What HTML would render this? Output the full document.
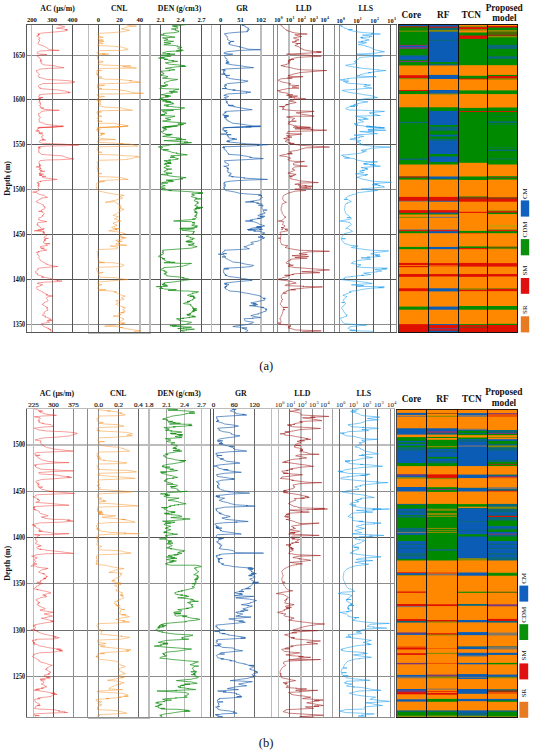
<!DOCTYPE html>
<html><head><meta charset="utf-8"><style>
html,body{margin:0;padding:0;background:#fff;}
svg{display:block;font-family:"Liberation Serif",serif;}
text{fill:#111;}
</style></head><body>
<svg width="533" height="750" viewBox="0 0 533 750" shape-rendering="auto">
<rect x="26" y="55" width="371" height="1" fill="#8c8c8c"/>
<rect x="26" y="99" width="371" height="1" fill="#555555"/>
<rect x="26" y="144" width="371" height="1" fill="#555555"/>
<rect x="26" y="189" width="371" height="1" fill="#8c8c8c"/>
<rect x="26" y="234" width="371" height="1" fill="#555555"/>
<rect x="26" y="279" width="371" height="1" fill="#555555"/>
<rect x="26" y="324" width="371" height="1" fill="#8c8c8c"/>
<rect x="26" y="24" width="1" height="309" fill="#5a5a5a"/>
<rect x="31" y="24" width="1" height="309" fill="#bcbcbc"/>
<rect x="52" y="24" width="1" height="309" fill="#7a7a7a"/>
<rect x="72" y="24" width="1" height="309" fill="#555555"/>
<rect x="88" y="24" width="1" height="309" fill="#bcbcbc"/>
<rect x="98" y="24" width="1" height="309" fill="#555555"/>
<rect x="119" y="24" width="1" height="309" fill="#555555"/>
<rect x="139" y="24" width="2" height="309" fill="#bcbcbc"/>
<rect x="149" y="24" width="2" height="309" fill="#bcbcbc"/>
<rect x="160" y="24" width="1" height="309" fill="#555555"/>
<rect x="180" y="24" width="1" height="309" fill="#555555"/>
<rect x="201" y="24" width="1" height="309" fill="#555555"/>
<rect x="211" y="24" width="1" height="309" fill="#bcbcbc"/>
<rect x="220" y="24" width="1" height="309" fill="#555555"/>
<rect x="240" y="24" width="1" height="309" fill="#555555"/>
<rect x="260" y="24" width="2" height="309" fill="#bcbcbc"/>
<rect x="273" y="24" width="1" height="309" fill="#8c8c8c"/>
<rect x="277" y="24" width="1" height="309" fill="#8c8c8c"/>
<rect x="288" y="24" width="2" height="309" fill="#bcbcbc"/>
<rect x="300" y="24" width="1" height="309" fill="#777"/>
<rect x="312" y="24" width="1" height="309" fill="#555555"/>
<rect x="323" y="24" width="1" height="309" fill="#666"/>
<rect x="334" y="24" width="1" height="309" fill="#8c8c8c"/>
<rect x="339" y="24" width="1" height="309" fill="#8c8c8c"/>
<rect x="356" y="24" width="1" height="309" fill="#555555"/>
<rect x="373" y="24" width="1" height="309" fill="#555555"/>
<rect x="390" y="24" width="1" height="309" fill="#555555"/>
<rect x="396" y="24" width="1" height="309" fill="#8c8c8c"/>
<rect x="26" y="24" width="371" height="1" fill="#555555"/>
<rect x="26" y="332" width="371" height="1" fill="#555555"/>
<rect x="88" y="333" width="63" height="1" fill="#bcbcbc"/>
<rect x="26" y="444" width="369" height="2" fill="#bcbcbc"/>
<rect x="26" y="491" width="369" height="1" fill="#8c8c8c"/>
<rect x="26" y="537" width="369" height="1" fill="#555555"/>
<rect x="26" y="583" width="369" height="1" fill="#8c8c8c"/>
<rect x="26" y="630" width="369" height="1" fill="#6e6e6e"/>
<rect x="26" y="676" width="369" height="1" fill="#8c8c8c"/>
<rect x="26" y="408" width="1" height="310" fill="#5a5a5a"/>
<rect x="33" y="408" width="1" height="310" fill="#bcbcbc"/>
<rect x="53" y="408" width="1" height="310" fill="#555555"/>
<rect x="73" y="408" width="1" height="310" fill="#8c8c8c"/>
<rect x="87" y="408" width="1" height="310" fill="#8c8c8c"/>
<rect x="98" y="408" width="1" height="310" fill="#8c8c8c"/>
<rect x="118" y="408" width="1" height="310" fill="#686868"/>
<rect x="138" y="408" width="1" height="310" fill="#686868"/>
<rect x="148" y="408" width="2" height="310" fill="#bcbcbc"/>
<rect x="166" y="408" width="1" height="310" fill="#a4a4a4"/>
<rect x="184" y="408" width="1" height="310" fill="#bcbcbc"/>
<rect x="201" y="408" width="1" height="310" fill="#bcbcbc"/>
<rect x="210" y="408" width="1" height="310" fill="#555555"/>
<rect x="213" y="408" width="1" height="310" fill="#555555"/>
<rect x="234" y="408" width="1" height="310" fill="#8c8c8c"/>
<rect x="254" y="408" width="1" height="310" fill="#686868"/>
<rect x="271" y="408" width="1" height="310" fill="#bcbcbc"/>
<rect x="278" y="408" width="1" height="310" fill="#bcbcbc"/>
<rect x="289" y="408" width="1" height="310" fill="#686868"/>
<rect x="300" y="408" width="2" height="310" fill="#bcbcbc"/>
<rect x="312" y="408" width="1" height="310" fill="#8c8c8c"/>
<rect x="323" y="408" width="1" height="310" fill="#a4a4a4"/>
<rect x="332" y="408" width="1" height="310" fill="#a4a4a4"/>
<rect x="339" y="408" width="1" height="310" fill="#686868"/>
<rect x="352" y="408" width="1" height="310" fill="#8c8c8c"/>
<rect x="365" y="408" width="1" height="310" fill="#686868"/>
<rect x="377" y="408" width="1" height="310" fill="#686868"/>
<rect x="390" y="408" width="1" height="310" fill="#8c8c8c"/>
<rect x="394" y="408" width="1" height="310" fill="#8c8c8c"/>
<rect x="26" y="408" width="369" height="1" fill="#bcbcbc"/>
<rect x="26" y="717" width="369" height="1" fill="#8c8c8c"/>
<rect x="88" y="718" width="62" height="1" fill="#bcbcbc"/>
<polyline points="57.2,24.6 59.3,25.4 62.8,26.1 64.8,26.8 60.7,27.5 56.5,28.2 63.4,28.9 65.2,29.5 67.3,29.6 65.2,29.7 67.6,30.2 65.5,30.9 59.3,31.6 51.0,32.3 42.6,33.0 37.8,33.7 38.2,34.4 39.6,34.5 38.1,34.6 39.2,35.1 37.6,35.8 36.5,35.9 37.2,36.0 37.8,36.5 38.3,37.2 39.9,37.9 40.1,38.6 38.5,39.3 39.0,40.0 39.9,40.6 38.6,41.3 39.2,42.0 38.1,42.7 38.3,42.8 38.4,42.9 37.8,43.4 38.2,44.1 39.9,44.8 42.2,45.5 44.0,46.2 45.5,46.9 45.6,47.0 45.7,47.1 46.8,47.6 47.4,48.3 48.2,49.0 50.3,49.7 59.3,50.4 49.6,50.6 39.9,51.0 38.7,51.7 37.1,52.4 37.0,53.1 37.8,53.8 41.3,54.2 46.8,54.5 41.3,54.8 39.6,55.3 37.1,55.9 37.9,56.6 39.2,57.3 39.2,58.0 39.8,58.7 41.3,59.4 40.0,60.1 40.8,60.8 42.2,60.9 41.0,61.0 39.9,61.4 40.9,62.1 41.5,62.8 41.3,63.5 43.0,64.2 44.0,64.9 53.7,65.6 56.7,66.3 59.3,67.0 64.1,67.7 57.9,68.1 48.2,68.4 39.9,69.1 38.8,69.8 36.4,70.5 36.8,71.2 36.4,71.9 37.8,72.5 38.5,73.2 39.4,73.9 39.2,74.6 38.7,75.3 37.8,76.0 38.5,76.7 39.9,77.4 40.0,77.5 39.5,77.6 42.6,78.1 44.6,78.8 47.5,79.5 60.7,80.2 70.4,80.9 73.2,81.6 74.4,81.7 73.6,81.8 74.5,82.3 70.4,82.9 53.7,83.4 42.6,83.6 41.5,84.3 39.2,85.0 38.5,85.7 38.4,86.4 38.5,87.1 40.1,87.8 40.5,87.9 39.8,88.0 39.9,88.5 46.8,89.2 57.9,89.9 62.0,90.6 66.2,91.3 67.8,92.0 68.9,92.1 67.9,92.2 70.4,92.7 60.7,93.3 46.8,94.0 39.2,94.7 39.9,95.4 38.7,96.1 38.5,96.8 39.1,97.4 43.1,97.5 39.5,97.6 39.6,97.9 39.1,98.5 41.1,98.6 38.7,98.7 39.0,99.0 39.8,99.1 38.5,99.2 39.9,99.6 38.9,100.3 39.8,100.4 39.3,100.5 39.6,101.0 40.2,101.1 39.5,101.2 39.2,101.7 38.7,102.2 40.7,102.8 40.0,103.3 40.2,103.4 39.7,103.5 40.9,103.9 40.9,104.0 41.0,104.1 40.6,104.4 39.7,105.0 39.3,105.6 41.1,106.1 40.4,106.7 39.9,107.2 41.0,107.9 43.9,108.0 41.3,108.1 42.3,108.6 44.0,109.3 53.7,110.0 59.3,110.3 46.8,110.7 41.3,111.4 41.3,111.9 40.9,112.5 40.2,113.0 38.5,113.6 38.5,114.2 38.4,114.8 38.5,114.9 38.2,115.0 39.3,115.5 39.2,116.2 39.3,116.9 40.6,117.6 39.9,118.3 39.3,118.9 38.8,119.4 39.2,119.5 39.2,119.6 39.7,120.0 39.1,120.5 38.5,121.1 39.0,121.8 41.3,122.5 43.5,123.2 44.0,123.9 48.2,124.6 53.7,125.2 59.3,125.9 63.4,126.6 53.7,127.1 39.9,127.3 37.8,128.0 46.8,127.3 54.3,126.7 63.4,126.0 58.3,126.6 53.7,127.1 38.5,127.7 39.0,128.3 37.4,128.9 37.1,129.5 38.2,130.2 38.5,130.3 38.6,130.4 39.1,130.9 35.6,131.0 39.3,131.1 39.2,131.5 39.1,132.2 38.9,132.9 42.9,133.0 38.9,133.1 39.9,133.6 41.9,134.3 42.9,135.0 43.3,135.7 41.7,136.4 41.3,137.1 41.8,137.8 43.3,138.5 44.0,139.2 41.8,139.9 45.8,140.0 41.7,140.1 39.9,140.6 39.7,141.3 39.2,142.0 40.8,142.6 42.6,143.3 60.7,144.0 69.7,144.6 78.7,145.1 67.6,145.7 46.8,146.1 38.5,146.8 38.7,147.4 39.8,147.5 38.2,147.6 39.4,147.9 40.6,148.0 39.4,148.1 38.6,148.5 39.1,149.0 39.2,149.6 38.2,150.1 38.4,150.7 39.3,151.2 38.7,151.8 38.5,152.4 40.2,153.0 40.6,153.7 41.3,154.4 51.0,155.1 62.1,155.8 63.9,156.5 65.7,157.2 67.6,157.9 73.9,158.9 60.7,159.7 46.8,160.0 39.9,160.7 39.4,161.4 39.3,162.1 38.5,162.8 39.6,163.3 39.1,163.9 39.9,164.5 40.1,164.6 39.4,164.7 38.9,165.1 41.1,165.2 39.3,165.3 38.9,165.6 39.9,166.2 40.1,166.8 36.1,166.9 39.8,167.0 40.5,167.3 39.4,167.9 40.0,168.4 41.1,168.5 39.8,168.6 39.2,169.0 39.0,169.6 40.5,170.1 42.1,170.2 40.0,170.3 40.1,170.7 40.9,171.2 44.9,171.3 41.3,171.4 41.3,171.8 40.2,172.3 39.8,172.9 40.0,173.4 38.9,173.5 40.3,173.6 39.7,174.0 43.7,174.1 39.9,174.2 39.9,174.5 39.6,175.1 41.9,175.2 39.2,175.3 41.9,175.7 42.1,176.2 46.0,176.3 42.5,176.4 42.0,176.8 42.6,177.3 45.5,177.9 48.2,178.4 57.2,179.4 51.0,180.1 42.6,180.8 39.8,181.5 41.2,181.6 39.4,181.7 37.8,182.2 37.4,182.7 37.8,182.8 37.2,182.9 38.9,183.3 38.6,183.8 39.5,183.9 38.4,184.0 37.9,184.4 39.2,184.9 39.0,185.5 37.7,185.6 38.6,185.7 39.3,186.1 38.3,186.6 37.9,187.2 37.8,187.7 38.6,188.4 38.4,189.1 39.2,189.8 39.0,190.4 37.9,190.9 36.6,191.5 36.8,191.6 36.4,191.7 36.3,192.0 32.6,192.1 36.5,192.2 36.4,192.6 37.0,193.3 38.5,194.0 40.8,194.7 44.0,195.3 44.5,196.0 45.9,196.7 47.5,197.4 41.3,198.1 41.3,198.8 38.9,199.5 38.5,200.2 37.4,200.8 36.1,201.4 36.4,202.0 39.2,203.0 40.7,203.7 41.8,204.4 44.0,205.1 43.3,205.6 43.8,206.2 43.9,206.7 44.7,206.8 44.0,206.9 45.2,207.3 45.4,207.8 44.9,208.4 44.5,208.9 42.6,209.5 41.4,210.0 41.3,210.6 42.1,211.2 38.5,211.3 42.2,211.4 42.8,211.7 42.2,212.3 43.5,212.8 44.0,213.4 44.4,213.9 43.6,214.5 43.6,215.0 42.4,215.6 42.7,215.7 42.0,215.8 42.6,216.2 41.9,216.8 40.1,217.5 38.5,218.2 39.3,218.9 38.4,219.6 39.9,220.3 43.8,221.0 46.8,221.7 39.9,222.4 37.1,223.1 37.4,223.6 36.8,224.2 37.4,224.8 38.0,224.9 37.1,225.0 38.7,225.3 38.5,225.9 39.0,226.4 39.6,227.0 40.7,227.5 41.0,228.1 41.3,228.2 41.2,228.3 41.3,228.6 41.9,229.3 43.3,230.0 42.6,229.3 43.2,229.4 42.8,229.5 44.2,228.7 44.0,228.0 42.7,228.7 41.3,229.4 37.7,230.1 41.7,230.2 38.2,230.3 34.3,230.8 44.0,231.5 44.2,232.2 43.0,232.3 44.7,232.4 42.6,232.9 43.9,233.5 45.4,234.2 45.5,234.9 46.8,235.6 45.3,236.3 44.2,237.0 44.0,237.7 45.2,238.3 48.6,238.4 45.6,238.5 45.0,238.8 45.7,239.4 44.2,239.9 45.5,240.0 44.0,240.1 45.4,240.5 43.7,241.2 43.3,241.9 43.7,242.4 43.7,243.0 46.1,243.6 50.1,243.7 46.5,243.8 45.7,244.2 46.6,244.8 47.5,245.3 43.9,246.0 39.9,246.7 40.7,247.4 40.8,248.1 44.4,248.2 41.3,248.3 42.6,248.8 44.2,249.5 46.8,250.2 41.3,250.9 38.9,251.6 37.9,251.7 39.2,251.8 36.4,252.3 37.4,252.8 38.1,253.4 37.7,253.9 37.2,254.5 38.5,255.0 38.6,255.7 39.2,256.4 39.2,257.1 38.4,257.7 38.7,258.2 39.3,258.8 40.2,259.3 39.9,259.9 40.2,260.5 41.1,261.0 42.2,261.6 42.5,261.7 42.6,261.8 43.2,262.1 44.0,262.7 46.2,263.4 46.7,264.1 47.1,264.2 46.5,264.3 48.2,264.8 51.0,265.4 53.6,266.0 57.9,266.6 46.8,267.3 38.5,268.2 37.6,268.8 38.4,269.3 37.1,269.9 36.9,270.4 36.4,271.0 35.8,271.7 35.2,271.8 35.5,271.9 35.9,272.4 35.7,273.1 37.4,273.8 38.0,273.9 37.3,274.0 37.4,274.5 38.5,275.2 41.3,275.9 42.6,276.5 43.8,277.1 41.3,277.2 43.7,277.3 46.8,277.7 51.0,278.6 53.7,279.6 58.1,280.4 57.1,280.5 58.4,280.6 62.1,281.1 53.7,281.8 45.4,282.1 38.5,282.8 37.1,283.5 40.6,284.2 42.6,284.9 40.1,285.6 40.4,285.7 40.2,285.8 39.4,286.3 36.4,286.9 36.9,287.6 36.8,288.3 37.1,289.0 37.6,289.7 39.3,290.4 41.3,291.1 42.7,291.8 42.8,292.5 44.7,293.2 46.2,293.9 46.3,294.6 47.7,294.7 46.1,294.8 48.2,295.3 53.0,296.0 48.2,296.7 47.2,297.3 46.3,298.0 46.8,298.7 47.2,299.4 48.0,300.1 48.2,300.8 46.8,301.5 44.9,302.2 44.0,302.9 44.0,303.6 42.1,304.3 42.6,305.0 44.4,305.7 44.9,306.4 46.8,307.1 47.9,307.6 46.4,308.2 47.5,308.7 47.3,309.3 48.2,309.8 47.8,310.4 45.9,310.9 45.3,311.5 44.3,312.0 44.0,312.6 44.3,313.2 44.4,313.7 42.6,314.3 42.8,314.8 42.6,315.4 44.9,316.1 45.9,316.2 45.4,316.3 44.7,316.8 44.8,316.9 45.1,317.0 46.8,317.5 49.0,318.2 50.6,318.8 51.0,319.5 48.5,320.2 52.5,320.3 48.1,320.4 46.8,320.9 48.5,321.6 49.6,322.3 45.2,323.0 41.3,323.7 41.3,324.4 41.9,324.5 41.7,324.6 42.6,325.1 42.8,325.8 43.9,326.5 45.4,327.2 47.2,327.7 47.5,328.3 48.8,328.4 47.9,328.5 48.1,328.8 50.6,329.4 49.6,329.5 50.9,329.6 51.0,329.9 50.5,330.6 50.4,330.7 50.3,330.8 52.4,331.3 52.4,332.0" fill="none" stroke="#e82420" stroke-width="0.55" stroke-linejoin="round" opacity="0.8"/>
<polyline points="125.4,24.6 128.2,25.4 136.5,26.1 128.2,26.8 125.7,27.5 124.3,28.2 121.3,28.9 125.1,29.5 129.6,30.2 126.5,30.9 124.1,31.6 113.0,32.6 99.1,33.3 97.6,33.8 97.7,34.4 98.6,35.1 98.9,35.8 99.5,35.9 99.2,36.0 98.4,36.5 103.3,37.2 98.4,37.9 98.8,38.6 97.7,39.3 103.3,40.0 99.1,40.6 104.0,41.3 98.4,42.0 100.4,42.7 103.3,43.4 98.4,44.1 98.0,44.8 97.7,45.5 113.0,46.2 121.3,46.9 122.5,47.5 125.1,48.1 126.9,48.8 128.2,49.4 121.3,50.4 100.5,50.6 98.8,51.2 97.7,51.7 97.1,52.4 97.0,53.1 102.2,53.7 105.3,53.8 101.9,53.9 108.8,54.2 99.1,54.8 97.3,55.3 97.0,55.9 96.9,56.5 97.9,57.0 97.1,57.6 97.3,57.7 97.2,57.8 97.5,58.1 97.7,58.7 97.8,59.4 98.4,60.1 98.4,60.8 103.3,61.7 99.1,62.6 99.4,63.1 98.0,63.7 98.4,64.2 101.9,64.9 119.9,65.6 131.0,65.9 122.7,66.7 129.3,67.4 136.5,68.1 108.8,68.4 99.1,68.7 98.4,69.3 97.6,69.9 97.1,70.5 101.5,70.6 97.0,70.7 97.0,71.2 96.7,71.7 96.7,72.3 97.1,72.8 97.2,73.4 98.7,73.5 97.5,73.6 96.3,73.9 97.4,74.6 98.2,74.7 97.2,74.8 98.0,75.3 97.7,76.0 101.9,77.0 101.2,77.5 99.1,78.1 102.5,78.6 104.6,79.2 119.9,79.5 124.1,80.0 129.9,80.6 131.9,80.7 129.6,80.8 133.8,81.1 137.0,81.7 137.5,81.8 137.1,81.9 140.7,82.3 128.5,82.8 128.5,82.9 128.6,83.0 115.7,83.4 99.1,83.9 97.6,84.5 97.0,85.0 104.6,85.3 97.7,86.1 97.0,86.7 97.3,87.2 97.6,87.3 97.4,87.4 97.0,87.8 101.9,88.5 99.1,89.2 115.7,89.5 120.8,90.0 121.2,90.1 120.7,90.2 125.4,90.6 127.4,91.3 130.8,92.0 132.4,92.7 143.5,93.3 122.7,93.8 100.5,94.0 97.0,94.7 97.5,95.4 97.7,96.1 104.6,96.4 101.4,97.0 98.4,97.5 98.7,98.2 97.0,98.9 97.0,99.6 96.8,100.1 101.2,100.2 97.1,100.3 97.4,100.7 97.8,101.3 97.8,101.4 97.9,101.5 98.8,101.8 100.9,101.9 98.8,102.0 98.4,102.4 98.8,103.0 100.3,103.6 101.2,104.2 98.4,105.1 99.1,105.8 101.9,106.5 106.0,107.2 121.3,107.9 124.1,108.9 128.7,109.6 132.4,110.3 101.9,110.7 97.7,111.4 97.1,111.9 101.5,112.0 97.1,112.1 96.7,112.5 97.1,113.0 97.3,113.6 97.0,114.2 98.1,114.8 99.8,115.5 101.9,116.2 97.7,116.9 98.4,117.5 97.5,118.0 98.6,118.1 97.4,118.2 97.5,118.6 98.6,119.1 98.4,119.7 97.4,120.4 98.4,121.1 102.4,121.2 98.4,121.3 97.7,121.8 98.5,122.5 99.1,123.2 114.4,123.4 117.5,124.0 121.3,124.6 124.9,125.2 128.2,125.9 122.7,126.6 99.1,127.3 97.7,128.0 108.1,127.3 118.0,126.7 120.1,126.8 117.7,126.9 128.2,126.0 122.4,126.6 115.7,127.1 98.4,127.7 97.6,128.2 99.1,128.3 97.3,128.4 97.0,128.8 97.0,129.3 98.3,129.4 96.7,129.5 97.5,129.9 100.4,130.0 97.5,130.1 96.7,130.4 97.4,131.0 97.7,131.5 97.8,132.1 99.9,132.7 100.3,133.3 104.7,133.4 100.7,133.5 101.1,133.9 104.6,134.0 100.8,134.1 100.9,134.4 101.9,135.0 99.6,135.7 98.4,136.4 98.7,137.1 99.2,137.8 100.5,138.5 110.2,139.2 115.7,139.6 99.1,139.9 99.1,140.6 99.7,140.7 98.9,140.8 97.7,141.3 97.3,141.8 97.7,141.9 97.5,142.0 98.4,142.4 108.8,142.9 119.8,143.5 123.2,143.6 119.9,143.7 129.6,144.0 132.6,144.7 135.4,145.4 137.9,146.1 115.7,146.5 98.4,146.8 97.8,147.5 97.0,148.2 96.9,148.7 97.4,149.3 97.6,149.9 97.9,150.4 97.7,151.0 99.7,151.7 101.9,152.4 98.4,153.0 98.4,153.7 98.4,154.4 118.5,155.1 125.4,155.8 136.5,156.2 135.7,156.8 139.4,156.9 135.8,157.0 134.8,157.4 133.5,158.0 132.4,158.6 127.2,159.1 127.6,159.2 127.2,159.3 122.7,159.7 99.1,160.3 98.4,160.9 97.5,161.5 97.0,162.1 97.3,162.6 97.3,162.7 96.9,162.8 97.2,163.2 97.5,163.7 97.4,164.3 97.7,164.8 97.6,165.4 97.7,165.9 97.1,166.5 97.2,167.1 97.0,167.6 97.3,168.2 97.1,168.7 99.4,168.8 97.0,168.9 97.5,169.3 97.8,169.8 97.7,170.4 97.7,170.9 97.7,171.5 98.1,172.0 98.0,172.6 98.4,173.2 101.9,173.4 99.8,174.0 98.4,174.5 98.3,175.2 97.7,175.9 99.8,176.6 119.9,177.3 122.5,178.0 125.5,178.7 128.2,179.4 108.8,180.1 104.2,180.6 99.1,181.2 104.6,181.5 100.7,182.2 97.0,182.9 96.6,183.5 97.0,184.1 96.4,184.6 96.8,185.2 96.7,185.8 96.2,186.4 96.3,187.0 96.4,187.6 97.3,187.7 96.6,187.8 97.1,188.1 97.0,188.7 97.4,189.2 97.7,189.8 98.4,190.5 99.1,191.2 102.8,191.9 106.0,192.6 108.4,193.1 111.6,193.7 118.5,194.7 124.1,195.3 121.2,196.0 119.9,196.7 120.9,197.4 122.7,198.1 121.1,198.8 117.8,199.5 115.7,200.2 112.0,200.9 109.5,201.6 105.3,202.3 114.4,201.6 115.6,202.3 117.0,203.0 117.1,203.7 119.1,204.4 120.5,205.1 121.3,205.8 120.7,206.4 119.1,207.1 121.3,207.2 119.5,207.3 118.5,207.8 120.7,208.5 121.0,208.6 120.6,208.7 124.1,209.2 122.1,209.9 122.2,210.0 122.2,210.1 121.6,210.6 119.9,211.3 118.3,212.0 117.8,212.7 117.1,213.4 116.3,214.1 113.7,214.8 113.0,215.5 116.4,216.2 118.5,216.8 116.5,217.5 116.8,217.6 116.8,217.7 116.2,218.2 114.4,218.9 117.2,219.6 118.6,220.3 118.9,220.4 118.4,220.5 121.3,221.0 118.2,221.7 115.0,222.4 113.0,223.1 114.0,223.8 115.5,224.5 117.1,225.2 116.0,225.9 114.0,226.6 111.6,227.2 112.2,227.9 114.3,228.6 115.7,229.3 117.1,230.0 116.0,229.3 115.3,228.7 119.7,228.8 115.6,228.9 114.4,228.0 115.2,228.7 115.7,228.8 115.6,228.9 117.1,229.4 112.2,230.1 108.8,230.8 114.3,231.5 119.9,232.2 122.2,232.9 125.4,233.5 123.1,234.2 121.3,234.9 120.2,235.6 119.9,236.3 120.9,237.0 123.6,237.1 120.6,237.2 122.9,237.7 126.3,237.8 123.1,237.9 124.1,238.4 121.5,239.1 118.4,239.8 115.7,240.5 117.8,241.2 122.2,241.3 117.5,241.4 118.1,241.9 119.9,242.6 117.8,243.3 115.7,244.0 121.9,244.6 126.8,245.3 110.2,246.0 113.9,246.7 117.8,247.4 117.9,248.1 117.1,248.8 99.1,249.5 98.5,250.2 97.6,250.9 97.0,251.6 97.3,252.2 97.4,252.8 97.3,253.4 97.5,254.0 97.5,254.6 97.4,255.1 97.7,255.7 97.7,256.3 98.1,256.9 97.8,257.5 98.0,258.1 98.0,258.7 98.1,259.3 98.4,259.9 99.2,260.6 100.1,261.3 100.5,262.0 104.6,262.4 98.4,262.7 113.0,262.7 117.1,263.4 121.3,264.1 122.9,264.8 124.1,265.4 122.6,266.0 121.3,266.6 99.1,267.3 98.3,267.8 97.1,268.4 96.3,268.9 96.3,269.5 97.0,270.1 97.0,270.6 97.2,271.2 97.5,271.8 97.7,272.4 103.3,272.4 101.0,273.1 98.4,273.8 98.6,274.5 99.0,275.2 99.1,275.9 99.6,276.5 100.5,277.2 115.7,277.7 119.9,278.6 128.2,279.6 120.8,280.1 113.0,280.7 105.5,281.4 97.7,282.1 98.1,282.8 98.1,283.5 98.4,284.2 101.9,284.6 100.8,285.1 99.5,285.7 98.4,286.3 98.4,286.8 98.0,287.4 98.0,287.9 97.8,288.5 97.7,289.0 106.0,289.7 98.4,290.4 111.6,291.1 114.3,291.8 116.7,291.9 114.3,292.0 115.7,292.5 117.1,293.2 117.8,293.9 119.9,294.6 122.1,295.3 125.4,296.0 124.1,296.7 121.3,297.3 121.6,298.0 123.2,298.7 124.1,299.4 119.9,300.1 115.7,300.8 117.2,301.5 117.4,302.2 118.5,302.9 116.7,303.6 115.7,304.3 117.4,305.0 118.8,305.7 121.3,306.4 123.1,307.1 123.8,307.2 122.7,307.3 125.4,307.8 124.4,308.4 123.9,309.1 122.7,309.8 123.7,310.5 125.4,311.2 123.5,311.9 120.9,312.6 124.4,312.7 120.6,312.8 118.5,313.3 119.3,314.0 121.3,314.7 117.6,315.4 113.0,316.1 118.5,316.8 120.3,317.5 121.8,318.2 124.1,318.8 122.9,319.5 122.7,320.2 121.3,320.9 119.8,321.6 118.5,322.3 121.4,323.0 125.3,323.1 121.6,323.2 124.1,323.7 119.5,324.4 115.7,325.1 109.8,325.6 104.6,326.2 118.5,326.8 120.1,327.3 122.9,327.4 119.9,327.5 122.7,327.9 125.8,328.6 129.6,329.2 133.0,329.8 136.5,330.4 140.7,330.9 133.8,331.7" fill="none" stroke="#f58a18" stroke-width="0.55" stroke-linejoin="round" opacity="0.85"/>
<polyline points="186.1,24.6 181.9,25.1 178.2,25.8 172.2,25.9 177.6,26.0 173.6,26.5 177.7,27.5 177.8,28.2 176.7,28.9 171.4,29.0 176.0,29.1 175.0,29.5 174.9,30.2 178.2,30.9 178.5,31.0 177.8,31.1 179.1,31.6 175.0,32.6 163.9,33.4 163.8,34.0 163.3,34.1 164.2,34.2 161.0,34.5 161.1,35.1 166.0,35.8 170.8,36.5 175.0,37.2 162.5,37.9 166.1,38.6 168.0,39.3 165.0,40.0 163.9,40.6 173.6,41.3 168.8,42.0 163.9,42.7 170.8,43.4 167.2,44.1 163.9,44.8 175.0,45.5 177.4,46.1 178.2,46.2 177.4,46.3 178.3,46.7 181.9,47.3 177.7,48.3 178.5,49.0 181.4,49.7 183.3,50.4 176.1,50.9 181.6,51.0 176.1,51.1 166.6,51.5 165.8,52.0 163.5,52.6 162.5,53.1 170.1,53.7 167.1,53.8 169.4,53.9 175.0,54.2 161.1,55.2 170.8,56.2 166.3,56.7 161.1,57.3 164.5,58.0 158.5,58.1 164.4,58.2 165.3,58.7 167.8,59.4 164.0,59.5 167.6,59.6 168.0,60.1 174.0,60.8 172.0,60.9 174.4,61.0 177.7,61.4 170.6,62.1 165.3,62.8 167.1,63.5 169.4,64.2 177.7,64.9 184.7,65.6 180.8,66.3 186.1,66.4 180.8,66.5 175.0,67.0 169.4,67.7 165.3,68.4 171.5,69.1 175.0,69.8 168.9,70.5 170.1,70.6 169.0,70.7 161.1,71.2 162.4,71.9 161.6,72.5 163.9,73.2 164.1,73.9 160.7,74.6 160.7,74.7 161.3,74.8 161.1,75.3 164.9,76.0 168.0,76.7 166.1,77.4 162.5,78.1 170.4,78.8 177.7,79.5 174.0,80.2 169.4,80.9 167.9,81.6 164.9,82.3 163.9,82.9 165.1,83.6 165.4,84.3 165.3,84.4 166.1,84.5 168.0,85.0 166.2,85.7 161.0,85.8 166.3,85.9 162.7,86.4 164.3,86.5 162.6,86.6 161.1,87.1 160.8,87.8 159.7,88.5 179.1,89.2 175.0,89.9 173.6,90.6 174.3,91.3 169.3,91.4 174.9,91.5 177.7,92.0 172.0,92.7 170.6,92.8 172.7,92.9 166.6,93.3 165.3,94.0 161.1,94.7 165.7,95.4 168.8,95.5 165.2,95.6 170.8,96.1 165.2,96.8 168.6,96.9 165.9,97.0 162.5,97.5 160.3,98.2 159.5,98.9 163.3,99.0 159.9,99.1 159.7,99.6 166.6,100.3 166.9,100.9 162.4,101.0 167.4,101.1 169.6,101.4 166.7,101.5 169.6,101.6 171.4,102.0 165.4,102.1 170.7,102.2 169.8,102.6 173.4,103.2 172.3,103.3 172.9,103.4 173.6,103.8 169.8,104.4 163.9,105.1 166.0,105.8 168.6,105.9 166.3,106.0 170.8,106.5 176.7,107.2 184.7,107.9 182.2,108.6 180.5,109.3 161.1,110.0 173.6,110.3 168.4,110.8 162.5,111.4 164.2,112.1 166.6,112.8 166.9,113.3 164.6,113.9 164.4,114.0 164.9,114.1 164.3,114.4 161.5,114.5 164.8,114.6 162.5,115.0 160.8,115.1 162.3,115.2 161.1,115.5 175.0,116.2 172.3,116.9 169.7,117.6 165.3,118.3 167.4,119.0 168.3,119.1 167.5,119.2 170.8,119.7 167.6,120.4 162.5,121.1 169.0,121.8 179.1,122.5 186.1,123.2 183.5,123.9 177.8,124.0 183.8,124.1 181.8,124.6 181.5,124.7 182.2,124.8 177.7,125.2 171.3,125.9 166.6,126.6 162.5,127.3 171.4,126.7 168.6,126.8 171.4,126.9 177.7,126.0 169.2,126.7 165.1,126.8 169.2,126.9 162.5,127.4 162.6,128.1 166.1,128.8 163.5,128.9 166.7,129.0 166.6,129.5 164.9,130.2 163.2,130.9 163.9,131.0 163.5,131.1 161.1,131.5 161.6,132.2 162.7,132.9 163.9,133.6 166.3,134.3 172.3,134.4 165.7,134.5 170.8,135.0 167.0,135.7 162.5,136.4 169.1,137.1 177.7,137.8 180.0,138.4 181.8,139.0 175.8,139.1 181.8,139.2 186.1,139.6 163.9,140.6 175.0,141.3 183.5,142.0 188.0,142.1 184.2,142.2 191.6,142.6 186.9,143.2 180.5,143.8 170.8,144.7 168.0,145.4 168.1,145.5 167.6,145.6 162.5,146.1 160.8,146.8 158.3,146.9 160.7,147.0 162.9,147.5 161.1,148.2 160.7,148.9 162.6,149.6 168.6,149.7 162.7,149.8 163.9,150.3 168.0,151.0 170.5,151.7 172.2,152.4 175.5,153.0 177.3,153.1 176.2,153.2 177.7,153.7 184.1,154.3 184.2,154.4 183.8,154.5 187.4,154.8 170.8,155.8 173.4,156.5 174.6,157.2 170.0,157.3 174.8,157.4 175.0,157.9 177.8,158.6 177.3,158.7 178.5,158.8 177.7,159.3 171.3,160.0 168.6,160.1 170.7,160.2 163.9,160.7 166.8,161.4 167.2,161.5 166.3,161.6 170.8,162.1 167.7,162.8 171.1,162.9 168.0,163.0 165.3,163.4 171.3,163.5 165.9,163.6 163.9,164.1 166.8,164.8 166.5,165.5 169.4,166.2 165.4,166.9 163.9,167.6 166.3,168.3 166.5,169.0 171.7,169.1 166.7,169.2 168.0,169.7 165.6,170.4 165.4,170.5 165.7,170.6 164.2,171.1 163.9,171.8 167.3,172.5 167.8,172.6 167.8,172.7 172.2,173.2 166.1,173.9 168.2,174.0 166.8,174.1 161.1,174.5 166.6,175.2 169.6,175.9 175.0,176.6 186.1,177.6 182.0,178.2 181.0,178.8 183.0,178.9 180.7,179.0 177.7,179.4 172.0,180.1 166.0,180.2 172.6,180.3 168.0,180.8 173.6,181.5 163.9,182.2 161.7,182.9 167.7,183.0 162.1,183.1 161.4,183.6 161.1,184.3 161.7,184.9 165.3,185.6 162.7,186.3 162.7,186.4 162.7,186.5 161.1,187.0 160.4,187.6 162.9,188.1 165.4,188.2 162.4,188.3 162.7,188.7 161.3,189.2 161.0,189.3 161.3,189.4 162.5,189.8 171.5,190.5 168.7,190.6 172.0,190.7 181.9,191.2 192.6,191.9 192.3,192.0 192.4,192.1 202.7,192.6 197.8,193.3 202.8,193.4 198.3,193.5 191.6,194.0 194.1,194.7 194.4,195.3 191.5,196.0 191.6,196.7 194.3,197.4 197.2,198.1 195.5,198.8 200.9,198.9 195.0,199.0 194.9,199.5 194.4,200.2 194.3,200.9 197.0,201.6 198.5,202.3 196.9,202.8 198.4,203.4 196.3,203.9 196.0,204.5 195.8,205.1 194.7,205.6 197.7,206.2 196.6,206.7 197.0,207.3 203.0,207.4 196.5,207.5 197.2,207.8 195.4,208.4 200.5,208.5 194.8,208.6 196.6,208.9 196.6,209.0 196.8,209.1 195.6,209.5 193.7,210.0 194.4,210.6 195.6,211.2 196.0,211.3 195.6,211.4 194.8,211.7 196.4,211.8 195.0,211.9 197.1,212.3 194.6,212.4 196.6,212.5 197.6,212.8 197.2,213.4 196.3,213.9 197.1,214.5 195.2,215.0 195.8,215.6 196.6,215.7 195.7,215.8 194.4,216.2 196.3,216.8 196.5,217.5 195.8,218.2 194.7,218.9 192.5,219.0 195.4,219.1 191.6,219.6 181.8,220.3 173.6,221.0 191.6,221.7 192.6,222.3 194.8,222.4 192.5,222.5 192.7,222.8 192.3,222.9 193.1,223.0 194.6,223.4 194.8,223.9 194.4,224.5 191.6,225.2 194.6,225.9 197.7,226.0 194.9,226.1 194.6,226.6 197.2,227.2 190.8,227.9 181.9,228.6 180.5,229.3 180.5,230.0 180.3,229.3 179.9,228.7 183.0,228.8 180.0,228.9 180.5,228.0 194.4,228.7 189.5,229.4 181.9,230.1 187.4,230.8 194.4,231.5 193.9,232.0 194.3,232.1 193.6,232.2 193.0,232.6 193.8,232.7 193.1,232.8 193.7,233.1 192.4,233.7 191.6,234.2 188.9,234.9 187.8,235.6 186.1,236.3 189.2,237.0 191.0,237.7 190.3,237.8 190.9,237.9 194.4,238.4 193.3,239.0 191.9,239.1 192.9,239.2 191.8,239.6 189.6,240.1 188.2,240.7 186.4,241.3 192.4,241.4 185.8,241.5 186.1,241.9 189.9,242.6 194.4,243.3 193.2,244.0 192.5,244.1 193.6,244.2 189.6,244.6 188.3,244.7 189.8,244.8 188.8,245.3 194.0,246.0 197.2,246.7 194.4,247.4 191.6,248.1 177.7,249.1 170.8,249.6 162.5,250.2 162.7,250.7 163.7,251.3 162.2,251.9 162.1,252.4 163.9,253.0 163.2,253.5 163.4,254.1 160.8,254.7 161.3,255.3 158.9,255.9 158.3,256.4 160.3,257.1 162.5,257.8 162.3,258.5 164.8,258.6 162.1,258.7 164.3,259.2 163.9,259.9 165.3,260.6 166.6,261.3 169.9,261.8 169.4,261.9 170.0,262.0 175.0,262.4 163.9,262.7 183.3,263.4 191.6,263.4 188.7,263.9 187.8,264.5 187.6,265.0 184.1,265.6 183.3,266.1 174.8,266.8 174.7,266.9 174.8,267.0 163.9,267.5 164.0,268.2 161.7,268.9 160.4,269.6 162.5,270.3 165.1,271.0 163.8,271.1 164.9,271.2 166.6,271.7 167.1,272.4 164.9,273.1 166.3,273.2 165.0,273.3 163.9,273.8 165.0,274.5 167.1,275.2 166.6,275.9 173.4,276.5 180.5,277.2 184.4,277.8 182.2,277.9 183.9,278.0 184.8,278.4 188.8,279.0 190.2,279.6 184.9,280.2 182.5,280.8 177.7,281.4 172.3,282.1 163.9,282.8 164.6,283.5 163.5,283.6 164.6,283.7 164.8,284.2 161.8,284.3 164.6,284.4 166.6,284.9 167.0,285.4 163.1,286.0 167.7,286.1 163.3,286.2 161.8,286.5 156.3,286.6 162.1,286.7 161.3,287.1 161.1,287.6 162.6,288.3 159.5,288.4 163.4,288.5 163.9,289.0 176.4,289.7 168.0,290.4 188.8,291.1 198.5,291.8 196.5,292.5 196.8,292.6 196.8,292.7 192.7,293.2 192.2,293.3 193.2,293.4 191.6,293.9 189.9,294.6 187.4,295.3 189.6,296.0 194.0,296.1 189.9,296.2 194.4,296.7 193.5,297.2 194.4,297.3 194.1,297.4 193.7,297.8 195.5,297.9 193.0,298.0 194.2,298.4 193.9,299.0 192.4,299.5 192.3,299.6 193.0,299.7 191.6,300.1 189.7,300.7 189.8,301.3 187.0,301.4 189.8,301.5 188.8,301.9 187.3,302.0 188.4,302.1 185.5,302.4 184.6,303.0 183.3,303.6 190.2,304.3 190.0,304.8 191.3,304.9 190.7,305.0 190.7,305.4 190.7,305.9 192.1,306.5 192.3,306.6 192.6,306.7 193.0,307.1 192.8,307.6 193.5,307.7 192.4,307.8 192.2,308.2 193.4,308.7 197.0,308.8 193.0,308.9 195.1,309.3 193.4,309.4 195.6,309.5 194.4,309.8 192.8,310.4 196.7,310.5 193.5,310.6 192.4,310.9 192.7,311.5 194.5,311.6 193.0,311.7 191.4,312.0 191.6,312.6 191.0,313.2 190.2,313.3 190.6,313.4 191.1,313.7 188.9,313.8 190.7,313.9 189.9,314.3 186.7,314.4 189.6,314.5 187.9,314.8 187.4,314.9 187.7,315.0 187.4,315.4 192.1,316.1 194.6,316.2 192.1,316.3 195.8,316.8 188.7,317.5 189.8,317.6 188.1,317.7 183.5,318.2 181.9,318.3 183.9,318.4 176.4,318.8 179.3,319.5 178.9,320.2 178.9,320.3 179.2,320.4 181.9,320.9 186.3,321.6 191.6,322.3 190.2,323.0 187.2,323.7 186.1,324.4 181.0,325.0 175.9,325.6 169.9,325.7 176.2,325.8 172.2,326.2 191.6,327.2 183.3,327.9 183.8,328.0 183.0,328.1 177.7,328.6 194.4,329.2 187.1,329.9 186.0,330.0 186.6,330.1 180.5,330.6 183.6,331.3 184.7,332.0" fill="none" stroke="#168e16" stroke-width="0.7" stroke-linejoin="round" opacity="1"/>
<polyline points="241.1,24.6 243.7,25.3 242.3,25.4 243.5,25.5 245.3,26.1 245.2,26.8 247.4,27.5 248.7,28.2 248.6,28.3 248.8,28.4 247.8,28.9 247.5,29.0 247.4,29.1 249.4,29.5 249.0,30.2 246.7,30.9 248.1,31.6 237.0,32.3 229.8,33.0 224.5,33.7 224.7,34.4 226.1,35.1 225.9,35.2 226.0,35.3 225.9,35.8 227.3,36.5 227.3,37.2 227.3,37.9 228.0,38.6 227.2,39.3 228.6,40.0 228.9,40.6 230.5,41.3 234.1,41.4 230.7,41.5 230.0,42.0 230.2,42.7 228.3,42.8 230.4,42.9 229.2,43.4 229.4,43.5 229.1,43.6 228.6,44.1 230.8,44.8 233.4,45.5 237.0,46.2 239.4,46.7 240.1,46.8 239.4,46.9 241.1,47.3 245.3,48.3 248.1,49.2 260.5,49.7 239.7,50.4 234.5,51.0 227.3,51.7 225.1,52.4 223.8,53.1 227.5,53.7 232.8,54.2 224.5,55.2 224.3,55.9 225.1,56.6 225.2,57.3 225.1,58.0 226.8,58.7 227.3,59.4 227.1,60.1 225.9,60.8 228.6,61.4 226.9,62.1 228.0,62.2 226.4,62.3 226.3,62.8 229.3,62.9 225.9,63.0 225.9,63.5 229.0,64.2 232.8,64.9 239.7,65.6 243.6,66.3 243.8,66.4 244.1,66.5 248.1,67.0 253.6,67.7 237.0,68.4 224.5,69.1 224.8,69.6 221.6,69.7 224.8,69.8 223.1,70.2 223.5,70.7 225.5,70.8 224.0,70.9 223.7,71.3 223.1,71.9 224.3,72.4 223.1,73.0 223.5,73.1 223.4,73.2 224.7,73.5 224.2,73.6 225.1,73.7 225.1,74.1 221.3,74.2 225.4,74.3 224.5,74.6 225.5,75.3 229.9,75.4 225.3,75.5 227.3,76.0 226.7,76.7 225.9,77.4 229.4,78.1 229.5,78.2 229.5,78.3 231.4,78.8 237.0,79.5 242.5,80.2 248.1,81.1 246.0,81.7 242.5,82.3 235.8,82.9 227.3,83.6 226.3,84.3 224.7,85.0 226.8,85.1 224.9,85.2 224.5,85.7 224.0,86.4 226.0,87.1 226.1,87.2 225.6,87.3 225.2,87.8 226.7,88.5 222.1,88.6 227.0,88.7 227.3,89.2 232.6,89.9 235.3,90.0 232.6,90.1 238.4,90.6 242.2,91.1 247.0,91.7 250.8,92.2 246.2,92.8 247.1,92.9 246.2,93.0 239.7,93.3 227.3,94.0 225.2,94.7 225.4,94.8 225.1,94.9 223.8,95.4 228.6,96.4 227.6,97.0 224.5,97.5 225.6,98.1 226.1,98.6 226.0,99.2 223.2,99.3 225.8,99.4 225.7,99.7 225.9,100.3 226.1,100.8 226.0,101.4 227.5,101.9 227.0,102.0 227.5,102.1 226.1,102.5 227.3,103.1 227.5,103.6 228.2,104.2 229.1,104.7 228.6,105.3 233.6,105.4 228.2,105.5 230.0,105.8 234.3,106.5 234.5,106.6 234.0,106.7 237.0,107.2 241.1,107.9 245.3,108.6 248.2,109.2 252.2,109.7 239.7,110.7 225.9,111.4 224.5,111.9 225.0,112.5 226.3,112.6 224.9,112.7 225.0,113.0 224.1,113.6 223.1,114.2 222.5,114.7 224.1,115.3 228.6,115.4 223.8,115.5 224.9,115.8 224.8,116.4 228.6,116.5 224.5,116.6 224.5,116.9 224.5,117.5 226.7,117.6 224.3,117.7 225.5,118.0 226.2,118.6 226.4,119.1 225.9,119.7 228.2,120.4 227.9,121.1 230.0,121.8 231.1,122.5 232.8,123.2 239.7,123.9 244.3,124.6 248.1,125.2 253.5,125.9 260.5,126.6 239.7,127.3 224.5,127.7 237.0,127.2 249.0,126.6 251.3,126.7 249.1,126.8 260.5,126.0 250.8,126.6 245.8,126.7 250.5,126.8 239.7,127.1 223.1,127.7 222.6,128.3 224.2,128.9 222.8,129.5 222.5,129.6 222.4,129.7 223.8,130.2 224.3,130.7 227.2,130.8 223.9,130.9 225.4,131.3 225.5,131.8 226.4,132.4 227.5,132.5 226.4,132.6 225.9,132.9 227.0,133.5 225.4,134.0 221.1,134.1 225.3,134.2 226.6,134.6 231.3,134.7 227.1,134.8 227.2,135.2 228.2,135.3 227.7,135.4 227.3,135.7 227.9,136.4 228.4,136.5 227.9,136.6 228.4,137.1 228.6,137.8 232.5,138.5 234.6,138.6 232.0,138.7 237.0,139.2 232.0,139.9 227.3,140.6 226.9,141.3 229.7,141.4 226.7,141.5 228.6,142.0 238.4,142.9 246.7,143.8 267.5,144.7 257.1,145.4 259.2,145.5 257.6,145.6 246.7,146.1 223.1,146.8 224.5,147.4 222.4,147.5 224.9,147.6 224.3,147.9 224.2,148.5 223.7,149.0 224.5,149.6 225.9,150.1 226.0,150.7 226.7,151.2 226.7,151.8 227.3,152.4 227.4,153.0 228.0,153.7 229.0,153.8 228.5,153.9 228.6,154.4 239.7,155.1 243.9,155.8 248.1,156.5 250.3,157.2 251.3,157.3 249.7,157.4 253.6,157.9 263.3,158.6 246.7,159.6 236.4,160.1 224.5,160.7 224.8,161.4 225.0,162.1 225.1,162.2 224.8,162.3 225.9,162.8 227.3,163.4 228.7,164.1 228.6,164.8 228.6,165.5 225.9,166.2 223.7,166.3 225.7,166.4 225.9,166.9 227.4,167.6 228.5,168.3 226.9,168.4 228.3,168.5 228.6,169.0 227.8,169.6 228.3,169.7 228.1,169.8 227.5,170.1 227.2,170.7 228.3,171.2 227.3,171.8 228.0,172.5 231.0,173.2 231.4,173.9 229.6,174.5 230.4,175.2 228.6,175.9 233.4,176.6 231.5,176.7 233.5,176.8 239.7,177.3 244.8,177.9 243.8,178.0 245.0,178.1 248.1,178.4 267.5,179.4 246.7,180.1 238.1,180.6 230.0,181.2 224.5,182.2 223.9,182.9 225.2,183.0 224.0,183.1 223.7,183.6 223.8,184.3 224.3,184.8 225.8,184.9 224.7,185.0 224.5,185.4 223.6,185.9 225.4,186.5 225.2,187.0 223.8,187.7 223.4,187.8 223.4,187.9 224.9,188.4 223.8,189.1 224.9,189.8 225.9,190.5 230.2,191.2 234.2,191.9 237.2,192.6 239.7,193.3 248.1,194.0 260.5,194.7 261.5,195.3 258.4,195.4 261.8,195.5 261.0,196.0 261.9,196.7 262.5,197.4 260.5,198.1 260.5,198.8 260.1,199.5 260.1,199.6 260.3,199.7 257.8,200.2 254.2,200.8 250.5,201.4 254.1,201.5 250.0,201.6 245.3,202.0 255.0,202.3 257.0,203.0 258.7,203.1 256.6,203.2 260.5,203.7 262.4,204.4 261.6,205.1 258.3,205.2 261.2,205.3 263.3,205.8 261.8,206.4 261.8,207.1 261.9,207.8 262.2,208.4 262.1,208.9 262.7,209.5 263.9,210.0 267.2,210.1 264.1,210.2 263.3,210.6 263.4,211.2 262.9,211.7 264.0,212.3 265.4,212.8 264.7,213.4 261.8,214.1 262.5,214.2 261.5,214.3 259.4,214.8 257.8,215.5 259.9,216.2 264.9,216.3 260.0,216.4 260.7,216.8 263.3,217.5 260.7,218.2 257.2,218.3 260.4,218.4 256.4,218.9 252.3,219.6 249.8,220.3 252.7,220.4 249.8,220.5 245.3,221.0 253.6,221.7 255.9,222.4 257.8,223.1 258.5,223.8 260.5,224.5 262.3,225.2 264.7,225.9 261.8,226.6 256.8,226.7 261.6,226.8 256.3,227.2 261.3,227.3 256.7,227.4 253.6,227.9 250.8,228.6 249.4,229.3 260.5,230.0 259.7,229.3 262.5,229.4 259.5,229.5 261.5,228.7 260.5,228.0 257.2,228.7 251.2,229.4 247.3,229.5 250.7,229.6 248.1,230.1 254.3,230.8 255.7,230.9 253.8,231.0 260.5,231.5 262.5,232.2 263.2,232.9 264.9,233.0 263.1,233.1 263.3,233.5 261.7,234.2 260.7,234.9 260.5,235.6 261.9,236.3 263.0,236.4 262.4,236.5 263.0,237.0 258.0,237.1 263.2,237.2 264.7,237.7 262.8,238.4 263.6,238.5 262.3,238.6 261.9,239.1 260.5,239.8 259.3,240.5 257.8,241.2 253.2,241.9 250.8,242.6 252.6,243.3 253.6,244.0 250.9,244.6 248.1,245.3 247.0,246.0 243.9,246.7 246.2,247.4 247.2,248.1 249.4,248.8 239.7,249.5 224.5,250.2 225.2,250.7 223.7,251.3 222.9,251.9 222.3,252.4 223.1,253.0 224.3,253.5 226.7,253.6 224.0,253.7 223.0,254.1 218.4,254.2 223.4,254.3 222.9,254.6 224.0,255.2 224.5,255.7 224.8,256.3 225.6,256.8 222.1,256.9 225.6,257.0 225.4,257.4 225.3,258.0 225.9,258.5 227.3,259.1 228.4,259.7 229.4,260.2 230.7,260.8 231.8,261.4 232.8,262.0 239.7,262.7 241.7,263.2 244.1,263.8 246.7,264.3 250.1,264.9 253.6,265.4 252.2,266.0 250.8,266.6 239.7,267.5 224.5,268.2 223.9,268.8 228.9,268.9 223.9,269.0 224.0,269.3 223.4,269.9 223.7,270.4 223.1,271.0 223.5,271.6 224.1,272.1 223.4,272.7 224.6,273.2 224.5,273.8 224.9,274.3 225.9,274.9 224.8,275.0 225.9,275.1 226.9,275.4 225.6,275.5 227.1,275.6 227.7,276.0 228.6,276.5 234.8,277.2 239.7,277.9 242.4,278.5 246.7,279.0 249.2,279.7 252.2,280.4 239.7,281.4 234.1,282.0 229.2,282.6 224.5,283.2 224.8,283.8 226.9,283.9 224.5,284.0 227.7,284.3 228.7,284.4 228.1,284.5 228.6,284.9 226.4,285.6 226.7,286.3 225.3,286.4 226.8,286.5 224.5,286.9 224.7,287.6 226.1,287.7 224.9,287.8 225.0,288.3 225.9,289.0 227.6,289.7 228.3,290.4 230.0,291.1 237.0,291.5 240.4,292.1 242.8,292.6 246.7,293.2 250.6,293.9 253.6,294.6 257.4,295.3 260.5,296.0 260.2,296.5 261.4,297.1 262.2,297.6 263.3,298.2 265.6,298.3 263.3,298.4 263.3,298.7 264.8,299.4 264.7,300.1 261.9,300.7 259.0,301.2 256.4,301.8 254.0,302.3 250.8,302.9 252.9,303.5 255.8,303.6 253.2,303.7 256.1,304.0 256.7,304.1 256.4,304.2 257.8,304.6 252.7,305.1 256.2,305.2 252.2,305.3 249.4,305.7 254.7,306.2 259.2,306.8 261.0,307.3 263.9,307.4 261.1,307.5 264.0,307.9 264.7,308.4 265.8,309.0 266.8,309.1 265.3,309.2 266.3,309.6 267.1,309.7 266.1,309.8 266.3,310.1 265.8,310.7 266.1,311.2 262.8,311.9 262.3,312.6 259.2,313.3 257.9,313.9 258.4,314.0 257.9,314.1 254.7,314.5 252.9,315.1 250.8,315.7 253.8,316.3 256.6,316.9 260.5,317.5 252.3,318.2 253.3,318.3 252.2,318.4 243.9,318.8 244.5,319.5 244.3,320.2 245.3,320.9 249.0,321.6 253.6,322.3 252.4,323.0 249.8,323.7 248.1,324.4 242.9,325.1 236.9,325.8 232.8,326.5 239.7,327.2 242.1,327.9 247.1,328.0 242.2,328.1 243.9,328.6 244.6,329.2 246.8,329.9 248.1,330.6 246.7,331.3 245.3,332.0" fill="none" stroke="#1c5eac" stroke-width="0.65" stroke-linejoin="round" opacity="1"/>
<polyline points="279.5,24.6 281.3,25.3 282.3,26.1 282.2,26.6 282.7,27.2 283.3,27.7 283.1,27.8 283.8,27.9 284.4,28.3 285.1,28.9 285.5,29.5 287.4,30.2 287.2,30.3 286.8,30.4 287.9,30.9 290.7,31.6 292.0,32.3 294.9,32.9 299.0,33.4 307.3,34.0 294.8,34.8 296.7,35.4 298.7,35.9 301.7,36.5 297.2,37.2 293.4,37.9 294.5,38.6 298.2,39.3 299.0,40.0 295.6,40.6 294.7,41.3 296.6,41.4 294.6,41.5 292.0,42.0 294.4,42.7 296.1,43.4 300.5,43.5 296.6,43.6 297.6,44.1 297.3,44.8 294.8,45.5 296.9,46.2 299.0,46.9 299.5,47.4 300.6,48.0 300.6,48.5 303.1,49.1 303.1,49.7 306.7,50.4 307.1,50.5 307.1,50.6 310.1,51.0 316.4,51.7 321.4,51.8 316.5,51.9 321.2,52.4 301.7,53.4 286.5,54.2 301.7,54.8 312.5,55.5 321.2,56.2 311.0,56.7 299.0,57.3 294.5,58.0 292.0,58.7 290.5,59.4 293.9,59.5 290.8,59.6 288.8,60.1 290.9,60.2 288.9,60.3 287.9,60.8 288.8,61.3 288.3,61.9 290.1,62.0 288.5,62.1 287.9,62.4 288.7,63.0 289.3,63.5 286.8,64.2 286.4,64.3 286.7,64.4 284.5,64.9 280.9,65.6 284.4,66.3 284.1,66.4 283.9,66.5 287.9,67.0 290.6,67.7 293.4,68.4 296.7,69.1 301.7,69.8 326.7,70.5 317.0,71.2 308.7,71.9 300.4,72.5 297.6,73.2 294.1,73.9 292.0,74.6 289.3,75.3 288.6,75.4 289.3,75.5 287.9,76.0 294.8,76.7 303.1,76.7 292.0,77.4 287.3,78.1 292.3,78.2 287.7,78.3 280.9,78.8 279.7,79.5 278.2,80.2 279.4,80.9 281.1,81.6 281.2,81.7 281.1,81.8 283.7,82.3 286.7,82.9 290.6,83.6 289.0,84.3 289.3,85.0 299.0,85.7 294.9,86.4 292.0,87.1 299.0,88.1 287.9,88.5 285.0,89.2 280.9,89.9 279.5,90.6 277.2,90.7 279.0,90.8 280.3,91.3 279.5,92.0 284.4,92.7 287.9,93.3 288.1,94.0 287.9,94.7 292.9,94.8 287.8,94.9 286.5,95.4 297.6,96.1 292.5,96.7 289.2,96.8 292.1,96.9 289.3,97.2 294.5,97.8 295.0,97.9 294.3,98.0 301.4,98.3 305.9,98.9 294.8,99.6 292.7,100.3 289.3,101.0 292.7,101.7 296.2,102.4 293.6,103.1 289.3,103.8 288.2,104.4 285.7,104.5 288.5,104.6 286.5,105.1 284.7,105.8 284.3,106.5 279.3,106.6 284.6,106.7 283.7,107.2 282.4,107.9 283.7,108.6 282.3,109.3 287.9,110.0 294.8,110.7 314.2,111.4 305.7,112.1 296.2,112.8 299.6,113.5 301.7,114.2 305.8,114.8 310.7,115.5 314.2,116.2 294.8,116.2 286.5,116.9 290.2,117.6 294.8,118.3 293.9,119.0 292.1,119.7 292.0,120.4 291.7,121.1 296.3,121.2 291.4,121.3 290.1,121.8 288.4,121.9 290.3,122.0 289.3,122.5 289.0,123.2 287.9,123.9 290.8,124.6 292.9,125.2 294.8,125.9 303.1,126.6 310.1,127.3 299.0,128.0 296.7,127.3 296.9,126.7 294.8,126.0 294.3,126.7 293.4,127.4 311.4,128.1 294.8,128.8 311.4,129.5 313.1,129.6 311.0,129.7 326.7,130.2 311.4,130.9 287.9,131.5 288.1,132.2 287.2,132.9 286.5,133.6 301.7,134.0 293.4,135.0 286.5,135.7 288.9,136.4 287.8,136.5 289.0,136.6 292.0,137.1 287.4,137.8 286.6,137.9 287.3,138.0 283.7,138.5 286.8,139.2 289.3,139.9 286.3,140.6 285.1,141.3 286.9,142.0 290.6,142.6 289.3,143.3 294.3,143.4 289.0,143.5 289.3,144.0 296.4,144.7 301.7,145.4 311.9,146.0 320.2,146.5 329.5,147.1 305.9,147.9 301.7,148.9 299.7,149.6 297.6,150.3 292.7,151.0 289.3,151.7 289.9,152.4 292.0,153.0 287.5,153.7 292.5,153.8 287.8,153.9 285.1,154.4 281.8,155.1 279.5,155.8 286.5,156.5 287.7,157.2 290.6,157.9 290.1,158.6 287.9,159.3 288.3,160.0 289.3,160.7 294.8,161.4 304.5,161.4 300.5,162.1 294.8,162.8 293.4,163.4 293.8,164.1 293.4,164.8 300.0,165.5 307.3,166.2 294.8,166.9 294.2,167.6 293.0,168.3 292.0,169.0 294.3,169.7 294.8,170.4 293.1,170.9 291.1,171.5 291.0,172.0 289.1,172.6 287.9,173.2 292.9,173.9 296.2,174.5 293.3,175.2 294.3,175.3 293.8,175.4 289.3,175.9 290.4,176.5 292.6,176.6 289.9,176.7 289.6,177.0 290.4,177.6 290.9,178.1 290.6,178.7 293.5,179.4 297.2,180.1 299.0,180.8 306.1,181.4 311.6,182.0 318.4,182.6 299.0,183.1 297.3,183.7 294.8,184.3 300.3,184.9 298.2,185.0 300.6,185.1 306.5,185.6 304.7,185.7 306.1,185.8 312.8,186.3 299.0,187.0 305.7,187.6 306.7,187.7 305.5,187.8 311.4,188.1 294.8,189.1 300.1,189.8 305.9,190.5 294.8,191.2 292.7,191.9 290.1,192.6 287.9,193.3 286.3,194.0 285.1,194.7 283.7,195.3 283.3,195.9 283.1,196.5 282.7,197.0 282.8,197.6 282.3,198.1 282.8,198.7 283.0,199.2 283.0,199.8 283.4,200.3 283.7,200.9 285.2,201.6 286.5,202.3 284.3,203.0 282.3,203.7 282.4,204.2 281.9,204.8 281.8,205.3 281.5,205.9 281.7,206.4 281.7,207.0 281.2,207.6 281.2,208.1 281.2,208.7 280.9,209.2 281.3,209.8 281.2,210.4 281.8,211.0 281.8,211.6 281.9,212.2 282.3,212.8 282.3,213.4 282.7,214.0 283.0,214.6 283.7,215.2 283.9,215.8 284.5,216.4 284.6,216.9 285.9,217.0 285.0,217.1 285.1,217.5 284.6,218.1 283.9,218.6 283.3,219.2 283.0,219.8 282.3,220.3 278.2,221.0 283.7,221.7 283.2,222.3 283.3,222.8 283.1,223.4 282.7,223.9 282.3,224.5 283.8,225.2 285.1,225.9 284.3,226.4 284.1,227.0 283.3,227.5 281.0,227.6 283.1,227.7 282.7,228.1 282.3,228.6 281.8,229.3 281.6,230.0 282.6,229.3 282.9,228.7 283.7,228.0 284.3,228.6 285.3,229.1 287.8,229.2 285.0,229.3 286.0,229.7 287.1,230.2 287.9,230.8 283.8,231.5 280.2,232.2 280.1,232.8 280.5,233.3 280.4,233.9 280.5,234.5 280.6,235.1 281.0,235.7 280.9,236.3 280.6,236.9 280.5,237.5 280.6,238.1 278.1,238.2 280.7,238.3 280.5,238.7 280.5,239.3 280.5,239.9 280.2,240.5 280.6,241.1 280.5,241.7 280.6,242.3 280.8,242.9 281.3,243.5 281.4,244.0 281.6,244.6 284.6,245.2 287.9,245.8 286.8,246.3 286.2,246.9 285.1,247.4 287.8,248.1 290.6,248.8 294.9,249.5 299.0,250.2 314.1,250.7 329.5,251.3 308.7,251.9 305.5,252.5 302.3,253.1 299.0,253.7 307.3,254.4 300.6,255.0 292.0,255.7 308.7,256.4 294.8,257.4 307.3,258.2 290.6,259.2 290.2,259.9 290.8,260.0 290.6,260.1 289.3,260.6 287.9,261.3 286.9,262.0 286.2,262.7 286.5,263.4 289.9,264.0 290.1,264.6 289.0,264.7 290.4,264.8 293.4,265.2 287.9,266.1 291.2,266.8 291.5,266.9 291.5,267.0 294.8,267.5 308.7,268.5 319.0,269.2 329.5,269.9 323.4,270.4 315.6,271.0 301.7,271.7 319.8,272.7 307.2,273.2 294.8,273.8 291.7,274.5 293.7,274.6 291.4,274.7 289.6,275.2 284.6,275.3 290.1,275.4 287.9,275.9 287.1,276.5 284.7,277.2 282.3,277.9 281.6,278.5 278.7,279.0 279.3,279.1 278.6,279.2 278.2,279.6 283.7,280.4 292.0,281.4 292.3,282.0 295.4,282.6 296.2,283.2 287.9,284.2 285.5,284.9 285.1,285.6 303.9,286.3 302.9,286.4 304.3,286.5 322.5,286.9 305.9,287.9 300.3,288.5 294.8,289.0 290.7,289.7 295.7,289.8 290.3,289.9 287.9,290.4 286.7,291.1 287.2,291.2 286.8,291.3 285.4,291.8 283.7,292.5 283.2,293.1 286.4,293.2 283.2,293.3 282.7,293.6 282.5,294.2 282.0,294.8 281.4,295.4 280.9,296.0 281.4,296.6 281.0,297.1 281.9,297.7 281.7,298.3 282.1,298.9 282.3,299.5 282.0,299.6 282.6,299.7 282.3,300.1 281.7,300.7 281.0,300.8 281.4,300.9 281.8,301.3 281.5,301.9 281.0,302.5 280.5,303.1 280.3,303.7 280.2,304.3 280.9,304.9 281.4,305.5 281.7,306.1 282.4,306.7 283.0,307.3 287.8,307.4 283.3,307.5 283.2,307.8 283.7,308.4 283.6,309.0 283.2,309.6 285.1,309.7 283.0,309.8 283.0,310.1 282.8,310.7 283.2,311.2 282.6,311.8 282.5,312.3 282.3,312.9 282.5,313.4 282.3,314.0 281.8,314.6 282.0,315.2 281.2,315.8 281.0,316.4 280.6,317.0 280.9,317.6 280.2,318.2 280.0,318.7 279.7,318.8 280.1,318.9 280.5,319.3 280.5,319.9 280.7,320.5 280.9,321.1 281.1,321.7 280.9,322.3 280.6,323.0 277.8,323.1 280.5,323.2 280.3,323.7 279.5,324.4 290.6,325.1 290.4,325.6 290.0,326.2 290.9,326.3 289.8,326.4 288.1,326.8 289.5,327.3 287.9,327.9 291.1,328.6 293.2,329.2 294.8,329.9 321.2,330.9 301.7,331.7" fill="none" stroke="#9e1818" stroke-width="0.55" stroke-linejoin="round" opacity="1"/>
<polyline points="341.5,24.6 340.2,25.4 341.5,25.9 342.3,26.0 341.0,26.1 341.2,26.5 343.6,27.1 344.1,27.6 344.3,28.2 347.0,28.9 348.1,29.5 352.5,29.6 348.2,29.7 349.9,30.2 352.4,30.9 355.4,31.6 363.7,32.6 373.1,33.3 371.2,33.4 373.1,33.5 380.4,34.0 372.3,34.5 362.4,35.1 368.1,35.7 372.1,36.2 369.4,36.8 370.0,36.9 369.8,37.0 363.6,37.3 360.4,37.4 363.2,37.5 361.0,37.9 363.6,38.6 366.9,39.3 369.3,40.0 365.7,40.6 366.4,40.7 365.9,40.8 361.0,41.3 363.1,42.0 358.1,42.1 363.2,42.2 366.5,42.7 364.1,43.3 361.4,43.9 358.2,44.5 365.1,45.5 366.2,46.2 366.3,46.3 365.9,46.4 369.3,46.9 369.8,47.6 373.1,48.3 373.4,49.0 375.0,49.7 377.6,50.4 380.4,51.0 381.3,51.1 380.6,51.2 384.5,51.7 380.3,52.4 376.2,53.1 365.6,53.7 356.8,54.2 373.4,55.2 381.8,56.2 371.0,56.7 361.0,57.3 358.9,57.9 358.4,58.5 358.7,59.1 356.5,59.7 356.0,59.8 356.1,59.9 356.4,60.3 355.4,60.9 355.8,61.0 355.9,61.1 354.0,61.4 354.7,62.1 356.0,62.8 356.2,62.9 356.4,63.0 356.8,63.5 352.3,64.1 349.1,64.7 345.7,65.3 347.7,65.9 350.7,66.4 354.0,67.0 358.9,67.7 358.2,67.8 358.7,67.9 363.7,68.4 370.9,69.1 377.9,69.8 378.5,69.9 377.8,70.0 385.9,70.5 380.0,71.2 373.4,71.9 371.0,72.5 368.3,72.6 370.7,72.7 365.9,73.2 363.7,73.9 360.6,74.6 359.6,75.3 359.9,75.4 359.2,75.5 356.8,76.0 376.2,76.7 363.8,77.4 352.6,78.1 347.6,78.6 348.8,78.7 348.1,78.8 344.4,79.2 343.8,79.3 344.5,79.4 340.2,79.8 342.4,80.4 343.7,81.0 348.7,81.1 343.4,81.2 344.3,81.6 345.4,82.2 347.4,82.8 346.6,82.9 347.3,83.0 349.9,83.4 358.2,83.9 364.9,84.5 366.4,84.6 364.6,84.7 370.7,85.0 367.6,85.7 363.7,86.4 365.7,87.0 369.2,87.5 369.2,87.6 369.3,87.7 372.1,88.1 363.4,88.6 356.8,89.2 350.1,89.7 342.2,90.3 343.3,90.9 345.7,91.4 347.1,92.0 349.8,92.5 354.0,93.1 358.2,93.6 361.3,94.2 363.7,94.7 369.5,95.4 370.1,95.5 369.9,95.6 373.4,96.1 374.6,96.8 374.7,96.9 374.2,97.0 377.6,97.5 370.0,98.2 363.7,98.9 360.5,99.5 356.8,100.0 360.3,100.7 363.1,101.3 367.9,101.9 363.6,102.5 360.5,103.1 356.8,103.8 354.9,104.4 353.4,105.1 357.9,105.2 353.9,105.3 351.3,105.8 350.1,106.4 355.1,106.5 349.9,106.6 348.7,107.1 346.9,107.7 346.1,108.3 345.7,108.9 346.7,109.4 349.9,110.0 363.7,110.3 373.6,110.8 384.5,111.4 377.1,112.1 369.3,112.8 370.7,113.3 370.4,113.4 370.3,113.5 372.9,113.9 376.1,114.4 377.2,115.0 377.6,115.1 377.1,115.2 380.4,115.5 355.4,116.2 358.9,116.9 363.2,117.6 366.5,118.3 363.4,119.0 368.4,119.1 362.9,119.2 358.2,119.7 361.0,120.4 361.0,120.5 360.7,120.6 362.9,121.1 363.7,121.8 360.3,122.4 358.0,123.0 354.0,123.6 355.3,124.1 355.0,124.7 357.7,124.8 355.4,124.9 356.8,125.2 362.8,125.9 366.3,126.6 371.3,126.7 365.9,126.8 372.1,127.3 384.5,127.7 379.0,127.2 379.6,127.3 379.0,127.4 372.9,126.6 369.5,126.7 372.9,126.8 366.5,126.0 372.9,126.7 377.5,127.4 384.5,128.1 376.6,128.8 367.9,129.5 385.9,130.2 373.1,130.9 368.1,131.0 372.8,131.1 359.6,131.5 365.4,132.2 371.0,132.9 377.6,133.6 366.8,134.3 354.0,135.0 358.3,135.7 363.7,136.4 360.7,137.0 358.8,137.5 359.4,137.6 358.5,137.7 354.4,138.1 355.7,138.2 353.9,138.3 352.8,138.6 349.9,139.2 355.6,139.9 361.0,140.6 359.3,141.3 356.8,142.0 358.2,142.6 361.0,143.3 359.2,144.0 359.6,144.7 365.1,145.4 372.1,146.1 390.1,147.1 382.1,147.6 372.1,148.2 369.1,148.9 365.0,149.6 361.0,150.3 362.9,151.0 366.5,151.1 362.6,151.2 363.5,151.7 363.7,152.4 361.0,153.0 356.8,153.7 349.4,154.4 349.4,154.5 349.6,154.6 341.5,155.1 342.9,155.8 342.9,155.9 343.1,156.0 344.2,156.5 343.4,156.6 344.7,156.7 347.1,157.2 349.5,157.9 344.5,158.0 349.1,158.1 354.0,158.6 355.1,159.3 356.8,160.0 359.9,160.7 363.7,161.4 377.6,161.8 372.9,162.3 373.1,162.4 372.6,162.5 367.5,162.9 363.7,163.4 367.5,164.0 363.6,164.1 367.3,164.2 370.4,164.6 375.4,164.7 369.9,164.8 373.0,165.1 376.8,165.7 380.4,166.2 370.1,166.9 361.0,167.6 365.1,168.3 367.3,168.4 365.3,168.5 367.9,169.0 365.8,169.7 361.8,170.4 364.5,170.5 361.4,170.6 359.6,171.1 361.0,171.8 363.7,172.5 358.7,173.2 355.4,173.9 367.9,174.5 365.1,175.1 366.5,175.2 365.4,175.3 362.4,175.7 360.6,176.2 359.3,176.8 356.8,177.3 359.4,178.0 360.8,178.7 363.7,179.4 366.9,180.0 367.3,180.1 367.2,180.2 370.0,180.6 372.1,181.2 382.8,181.8 391.5,182.4 382.0,183.0 373.4,183.6 375.8,184.1 378.1,184.2 375.3,184.3 377.2,184.7 372.2,184.8 377.1,184.9 378.3,185.3 380.1,185.4 378.2,185.5 381.3,185.9 383.3,186.4 383.5,186.5 383.3,186.6 384.5,187.0 376.1,187.7 368.2,188.4 361.0,189.1 369.2,189.8 377.6,190.5 371.3,191.2 364.6,191.9 358.2,192.6 357.1,193.3 355.4,194.0 352.8,194.7 350.9,195.3 348.5,196.0 347.3,196.7 346.9,197.4 345.7,198.1 346.6,198.7 347.4,199.3 344.0,199.4 347.4,199.5 348.2,199.9 349.1,200.4 350.0,201.0 351.3,201.6 349.6,202.3 347.3,203.0 347.7,203.1 347.7,203.2 345.7,203.7 345.4,204.2 345.6,204.8 345.2,205.3 345.0,205.9 344.8,206.4 345.0,207.0 345.0,207.6 344.9,208.1 344.3,208.7 344.3,209.2 344.7,209.8 344.5,210.4 345.2,211.0 345.3,211.6 345.1,212.2 345.5,212.8 345.7,213.4 346.2,214.0 347.0,214.5 348.0,215.1 348.3,215.7 349.4,216.3 349.9,216.8 350.4,217.5 346.8,217.6 350.8,217.7 351.1,218.2 351.3,218.9 347.8,219.6 343.7,220.3 340.2,221.0 344.9,221.7 349.9,222.4 350.3,223.1 350.6,223.8 351.3,224.5 350.4,225.1 349.9,225.7 348.7,226.3 348.3,226.9 347.4,227.4 346.7,228.0 345.7,228.6 347.1,228.0 348.1,228.6 349.2,229.2 349.9,229.7 351.0,230.3 351.9,230.9 352.6,231.5 350.1,232.2 347.4,232.9 344.3,233.5 344.0,234.1 343.2,234.7 343.1,235.2 342.6,235.8 342.2,236.3 342.3,236.9 341.8,237.5 341.7,238.1 341.7,238.6 345.6,238.7 341.2,238.8 341.4,239.2 341.5,239.8 341.8,240.4 342.4,240.9 343.2,241.5 343.5,242.1 343.8,242.7 344.3,243.3 346.3,244.0 348.3,244.6 349.9,245.3 358.2,246.0 354.5,246.7 351.3,247.4 355.6,248.1 359.6,248.8 365.1,249.5 370.7,250.2 388.7,250.9 384.0,251.6 377.6,252.3 373.5,253.0 370.7,253.7 372.3,254.2 375.0,254.8 380.0,254.9 375.1,255.0 376.4,255.3 378.3,255.9 376.4,256.0 378.6,256.1 380.4,256.4 370.4,257.1 366.9,257.2 370.0,257.3 361.0,257.8 366.7,258.5 370.7,259.2 363.6,259.9 356.8,260.6 356.2,261.1 353.9,261.7 353.1,262.3 351.7,262.8 351.3,263.4 356.1,264.1 361.0,264.8 358.8,265.4 359.3,266.1 356.8,266.8 363.7,267.5 387.3,268.2 381.7,268.9 386.7,269.0 382.0,269.1 374.8,269.6 379.1,270.3 381.8,271.0 376.7,271.7 376.8,271.8 377.1,271.9 370.6,272.4 363.7,273.1 367.2,273.8 370.7,274.5 363.9,275.2 361.4,275.3 363.8,275.4 356.8,275.9 351.5,276.5 352.3,276.6 351.5,276.7 345.7,277.2 344.6,277.8 344.6,277.9 344.8,278.0 344.2,278.4 344.9,278.5 343.8,278.6 342.8,279.0 341.5,279.6 345.1,280.1 349.9,280.7 357.3,281.4 363.7,282.1 368.4,282.8 372.1,283.5 361.2,284.2 351.3,284.9 363.7,285.6 356.8,286.3 384.5,286.9 378.5,287.6 383.5,287.7 378.1,287.8 370.7,288.3 364.9,289.0 361.0,289.7 356.8,290.7 351.3,291.1 350.7,291.8 349.2,291.9 351.3,292.0 349.3,292.5 348.5,293.2 346.5,293.9 344.6,294.6 342.9,295.3 345.1,296.0 347.1,296.7 346.2,297.2 345.4,297.8 344.9,298.4 344.1,299.0 343.6,299.5 342.9,300.1 343.4,300.7 343.8,301.3 344.4,301.9 344.6,302.4 341.5,302.5 344.5,302.6 345.2,303.0 345.7,303.6 345.0,304.2 344.4,304.8 344.2,305.4 343.0,306.0 342.9,306.6 342.2,307.2 341.5,307.8 341.8,308.4 342.1,309.0 342.7,309.6 343.2,310.2 343.2,310.8 343.8,311.4 344.1,312.0 344.3,312.6 345.1,313.2 345.2,313.8 345.5,314.3 346.4,314.9 347.3,315.0 346.4,315.1 346.5,315.5 347.1,316.1 344.7,316.8 342.8,317.5 340.2,318.2 340.5,318.7 340.9,319.3 341.5,319.9 341.7,320.5 342.1,321.1 342.6,321.7 342.9,322.3 343.5,323.0 344.3,323.7 355.2,324.4 366.5,325.1 358.6,325.8 351.3,326.5 348.9,327.2 348.5,327.9 348.0,328.4 348.1,328.5 348.2,328.6 349.5,329.0 350.3,329.5 350.5,330.1 355.5,330.2 350.2,330.3 349.9,330.6 373.4,331.3" fill="none" stroke="#189cee" stroke-width="0.55" stroke-linejoin="round" opacity="1"/>
<polyline points="34.3,408.8 36.9,409.5 38.5,410.2 38.7,410.9 42.7,411.0 38.8,411.1 40.4,411.5 40.5,411.6 39.9,411.7 39.9,412.2 42.4,412.9 44.0,413.6 47.4,414.2 47.8,414.3 47.6,414.4 53.3,414.8 56.5,415.4 42.6,416.0 34.3,416.8 39.9,417.8 40.4,418.5 38.7,419.2 38.5,419.9 38.2,420.4 40.0,421.0 38.7,421.5 39.0,421.6 38.9,421.7 38.7,422.1 39.9,422.6 42.3,423.2 43.5,423.3 42.4,423.4 44.0,423.8 51.0,424.7 51.6,425.3 52.6,425.9 53.0,426.5 42.6,427.1 38.3,427.6 34.3,428.2 36.4,428.9 37.1,429.6 42.1,430.3 42.5,430.4 42.3,430.5 46.8,431.0 63.4,431.7 74.5,432.6 77.3,433.5 74.6,434.1 74.4,434.6 71.1,435.2 70.4,435.8 63.3,436.5 56.5,437.2 44.0,437.9 39.9,438.6 37.6,439.3 35.0,440.0 41.3,441.0 40.4,441.6 39.9,442.3 41.2,442.9 41.0,443.5 41.3,444.1 41.9,444.8 43.9,445.5 44.0,446.2 46.0,446.9 46.8,447.6 51.3,448.3 53.7,449.0 59.8,449.7 66.2,450.4 73.2,451.1 53.7,451.8 37.1,452.5 35.0,453.2 34.3,453.9 34.8,454.5 36.1,455.2 40.1,455.3 35.7,455.4 35.7,455.9 37.1,456.5 38.2,457.0 38.1,457.6 38.2,458.1 39.9,458.7 40.8,459.3 42.6,460.0 45.0,460.6 46.8,461.2 56.5,462.2 69.0,462.6 53.7,463.1 45.6,463.7 38.5,464.3 34.3,464.9 35.1,465.6 36.4,465.7 34.8,465.8 35.6,466.3 35.7,467.0 36.8,467.7 39.4,468.4 39.9,469.1 53.7,469.8 63.3,470.4 73.2,470.9 53.7,471.5 46.7,472.0 38.5,472.6 39.1,473.3 39.9,474.0 53.7,474.7 57.7,475.3 62.1,476.0 66.9,476.7 69.6,476.8 67.0,476.9 71.8,477.4 61.9,478.1 53.7,478.8 41.3,479.5 39.5,480.2 36.8,480.9 35.7,481.6 35.9,482.3 37.3,483.0 38.6,483.1 37.6,483.2 37.1,483.7 38.2,484.2 39.4,484.3 38.4,484.4 38.1,484.8 38.8,485.3 38.5,485.4 38.4,485.5 37.6,485.9 38.5,486.4 38.7,487.0 42.7,487.1 39.0,487.2 39.1,487.6 39.6,488.1 40.9,488.7 41.3,489.2 44.1,489.8 45.9,490.3 48.2,490.9 52.9,491.4 48.9,491.5 53.1,491.6 57.9,492.0 66.7,492.7 74.5,493.4 53.7,494.1 37.1,494.8 35.6,495.5 35.2,496.2 32.9,496.8 34.3,497.5 37.1,498.2 37.8,498.8 37.5,499.3 38.8,499.4 37.3,499.5 38.5,499.9 39.8,500.5 39.9,501.0 37.1,501.7 35.7,502.4 45.4,503.1 53.7,503.8 61.1,504.5 69.0,505.2 46.8,505.9 34.3,506.6 34.9,507.2 33.2,507.3 34.8,507.4 33.6,507.9 34.4,508.6 34.1,509.3 34.3,509.4 34.2,509.5 35.7,510.0 33.6,509.0 35.4,509.7 37.2,510.4 38.5,511.1 39.8,511.8 39.5,512.5 39.9,513.2 42.3,513.9 44.0,514.5 46.3,515.1 48.2,515.7 45.7,516.4 41.3,517.0 44.3,517.7 44.3,517.8 44.0,517.9 45.4,518.4 53.7,519.4 63.4,519.4 66.7,520.0 70.3,520.1 66.9,520.2 70.8,520.6 73.2,521.2 60.7,522.2 39.9,522.9 37.1,523.6 33.6,524.3 33.0,524.8 31.9,524.9 32.9,525.0 34.6,525.4 33.5,525.5 34.7,525.6 35.5,525.9 36.0,526.0 35.9,526.1 34.5,526.5 35.7,527.0 36.6,527.7 38.5,528.4 39.9,529.1 40.1,529.8 38.5,530.5 42.3,531.2 38.8,531.3 42.0,531.4 45.4,531.9 50.1,532.6 53.7,533.3 69.0,533.7 53.7,534.7 34.3,534.7 39.9,535.4 37.8,536.0 37.1,536.7 36.7,537.4 36.7,538.1 35.0,538.8 35.7,539.4 35.2,539.9 36.4,540.5 37.5,541.0 37.1,541.6 35.9,542.3 36.2,542.4 36.2,542.5 35.5,543.0 35.7,543.7 37.7,544.4 39.2,545.1 41.3,545.8 38.2,546.4 39.3,546.5 38.5,546.6 37.1,547.1 36.6,547.8 37.1,548.5 39.8,549.1 41.1,549.2 39.7,549.3 44.1,549.7 46.8,550.3 54.1,551.0 60.7,551.7 64.7,552.3 69.8,552.8 73.2,553.4 46.8,553.7 38.5,554.5 35.5,555.0 35.7,555.1 35.1,555.2 34.2,555.6 31.5,556.2 33.9,556.9 37.1,557.5 37.0,558.2 34.6,558.9 34.3,559.6 34.4,560.3 35.7,561.0 35.7,561.7 34.8,562.3 34.5,562.4 34.9,562.5 34.5,562.8 34.0,563.4 34.3,563.9 37.0,564.0 34.3,564.1 34.3,564.5 32.5,565.0 31.9,565.6 30.9,566.1 35.7,565.9 36.3,566.6 38.5,567.3 42.3,567.8 48.2,568.4 45.7,568.9 45.9,569.0 46.2,569.1 43.2,569.5 41.3,570.0 40.7,570.7 39.2,571.4 38.5,572.1 40.2,572.8 40.3,572.9 40.7,573.0 43.0,573.5 44.4,573.6 42.7,573.7 44.0,574.2 44.9,574.7 45.8,575.3 46.6,575.9 46.2,576.4 47.5,576.5 46.4,576.6 46.8,577.0 46.4,577.5 46.1,578.1 43.6,578.2 45.7,578.3 44.0,578.6 45.7,578.7 43.8,578.8 43.9,579.2 42.6,579.7 41.7,580.4 39.9,581.1 41.1,581.7 39.4,582.2 36.8,582.3 39.6,582.4 40.0,582.8 41.4,583.3 42.4,583.4 40.9,583.5 41.3,583.9 39.0,584.6 39.2,585.3 37.1,586.0 36.0,586.5 36.3,587.1 35.2,587.6 34.6,588.2 33.6,588.8 36.9,589.4 38.3,589.5 36.7,589.6 39.9,590.1 43.1,590.8 46.8,591.5 49.1,592.2 51.0,592.9 47.7,593.6 45.4,594.3 42.6,595.0 44.4,595.5 45.9,595.6 44.6,595.7 45.8,596.1 46.8,596.7 43.4,597.2 39.9,597.8 39.3,598.5 36.8,599.2 35.7,599.8 36.4,600.5 38.2,601.2 38.5,601.9 38.7,602.5 39.9,602.6 38.5,602.7 37.6,603.0 38.1,603.6 38.6,603.7 38.3,603.8 37.7,604.1 37.1,604.7 38.9,605.4 39.0,606.1 41.3,606.8 41.7,607.4 44.1,608.0 45.4,608.6 44.5,609.1 41.2,609.7 39.9,610.2 43.7,610.9 49.6,611.6 53.7,612.3 50.2,612.9 47.2,613.4 44.0,614.0 47.6,614.7 50.3,615.4 52.4,616.1 48.5,616.8 45.9,617.5 46.2,617.6 46.3,617.7 41.3,618.2 44.7,618.9 46.8,619.5 49.8,620.2 51.3,620.9 54.2,621.0 50.9,621.1 53.7,621.6 49.7,622.3 44.0,623.0 40.4,623.7 37.1,624.4 34.5,625.1 35.5,625.2 34.0,625.3 32.9,625.8 34.1,626.5 35.7,627.2 34.9,627.9 35.0,628.6 35.1,628.7 35.1,628.8 34.3,629.3 34.7,629.8 30.9,629.9 34.5,630.0 36.2,630.4 36.5,630.9 37.2,631.0 36.6,631.1 37.7,631.5 38.1,631.6 37.6,631.7 38.5,632.0 40.1,632.7 41.4,633.4 44.0,634.1 47.0,634.8 51.0,635.5 53.2,636.2 56.3,636.9 53.1,637.0 56.0,637.1 59.3,637.6 57.1,638.3 53.7,639.0 37.1,639.2 35.6,639.8 36.6,639.9 35.8,640.0 32.2,640.4 32.9,640.9 32.6,641.5 33.3,642.0 33.9,642.1 33.2,642.2 33.8,642.6 35.0,642.7 33.3,642.8 32.9,643.1 34.2,643.8 35.1,643.9 34.2,644.0 37.1,644.5 38.1,645.2 39.9,645.9 43.4,646.6 46.8,647.3 49.2,647.8 52.9,648.4 56.7,649.0 60.7,649.1 56.5,649.2 59.2,649.5 62.1,650.1 58.9,650.8 62.9,650.9 58.5,651.0 56.8,651.4 53.7,652.1 39.9,652.8 36.8,653.5 34.3,654.2 34.7,654.8 33.6,655.3 33.2,655.9 32.5,656.4 32.9,657.0 34.7,657.7 35.5,658.4 37.1,659.1 38.2,659.6 38.9,660.2 39.2,660.7 38.7,660.8 39.4,660.9 39.7,661.3 39.9,661.9 42.6,662.5 43.0,662.6 42.8,662.7 45.4,663.2 47.2,663.9 49.3,664.6 52.4,665.3 50.3,666.0 49.2,666.7 48.2,667.4 46.5,668.1 46.6,668.8 47.3,668.9 46.6,669.0 45.4,669.5 46.8,670.0 47.8,670.6 48.6,671.1 50.0,671.7 51.0,672.3 49.5,672.8 49.6,673.4 47.8,674.0 49.7,674.1 48.2,674.2 47.3,674.6 44.7,675.1 44.0,675.7 46.2,676.4 49.6,677.1 46.4,677.8 50.4,677.9 46.7,678.0 43.5,678.5 39.9,679.2 41.4,679.7 45.4,679.8 41.0,679.9 41.2,680.3 41.4,680.4 40.8,680.5 41.7,680.9 42.8,681.4 44.0,682.0 43.9,682.7 43.2,683.3 41.3,684.0 43.0,684.6 44.3,685.2 45.0,685.7 44.9,686.3 46.8,686.8 43.7,687.5 41.1,688.2 43.5,688.3 41.3,688.4 37.1,688.9 35.6,689.6 39.6,689.7 35.9,689.8 34.3,690.3 40.5,691.0 45.4,691.7 49.0,692.4 51.3,693.1 55.3,693.2 51.3,693.3 55.1,693.8 54.3,694.3 57.1,694.4 54.7,694.5 53.2,694.9 54.0,695.0 53.3,695.1 52.4,695.4 51.1,696.0 51.0,696.5 44.7,697.2 38.5,697.9 37.7,698.6 40.2,698.7 38.0,698.8 34.9,699.3 34.3,700.0 35.1,700.5 35.2,701.1 35.4,701.7 35.5,702.2 37.1,702.8 38.0,703.5 39.9,704.2 38.6,704.8 37.3,705.5 40.4,705.6 37.7,705.7 35.7,706.2 35.8,706.9 35.4,707.6 34.3,708.3 38.5,709.0 53.7,709.7 56.9,710.3 58.7,710.8 59.7,710.9 58.3,711.0 61.5,711.4 64.6,711.9 65.0,712.0 64.3,712.1 67.6,712.5 46.8,713.2 34.3,713.9 34.4,714.4 34.5,715.0 35.4,715.5 39.4,715.6 34.9,715.7 35.4,716.1 35.0,716.6" fill="none" stroke="#e82420" stroke-width="0.55" stroke-linejoin="round" opacity="0.8"/>
<polyline points="99.1,408.8 97.7,409.5 101.9,410.2 107.0,410.7 110.4,410.8 107.2,410.9 111.6,411.3 117.1,411.8 118.8,412.4 119.9,413.0 122.1,413.1 119.6,413.2 121.3,413.6 123.4,414.3 125.4,415.0 118.5,415.7 99.1,416.0 98.0,416.6 98.8,417.2 99.4,417.3 98.6,417.4 97.7,417.8 96.9,418.3 97.0,418.9 97.2,419.5 97.6,420.0 97.0,420.6 97.4,421.3 99.1,422.0 103.3,422.6 99.1,423.3 104.6,424.0 118.5,424.7 120.5,425.4 124.1,426.1 119.9,426.8 99.1,427.5 97.4,428.2 97.0,428.9 97.7,429.6 97.0,430.3 100.1,430.4 97.4,430.5 97.7,431.0 108.8,431.4 126.8,432.4 129.4,433.0 132.4,433.7 128.9,434.4 126.8,435.1 132.4,435.8 124.1,436.5 115.7,437.2 99.1,437.9 98.3,438.6 97.7,439.3 98.5,440.0 97.7,440.7 98.4,441.4 104.6,441.6 98.4,442.1 99.3,442.8 99.1,443.4 99.1,444.1 100.4,444.8 101.9,445.5 108.8,446.5 118.5,447.3 120.0,447.9 122.8,448.4 123.8,448.5 123.2,448.6 124.1,449.0 125.1,449.7 128.0,450.4 129.6,451.1 115.7,451.8 99.1,452.0 98.4,452.6 99.1,452.7 98.5,452.8 97.2,453.2 97.0,453.9 97.4,454.4 96.5,455.0 97.1,455.6 97.2,456.2 99.7,456.3 97.4,456.4 97.3,456.7 97.7,457.3 98.4,458.0 101.3,458.1 98.8,458.2 97.4,458.7 98.4,459.4 103.4,460.1 104.5,460.2 103.3,460.3 108.8,460.8 118.5,461.8 122.1,462.3 126.8,462.9 122.7,463.6 99.1,464.0 98.1,464.5 97.5,465.1 97.0,465.6 96.7,466.2 97.0,466.7 98.0,467.3 98.0,467.9 97.7,468.4 98.5,469.0 99.8,469.1 98.2,469.2 100.5,469.5 115.7,470.1 129.6,470.5 133.0,471.2 136.5,471.9 125.4,472.6 99.1,473.3 98.3,474.0 99.9,474.1 98.6,474.2 98.8,474.7 97.7,475.3 106.8,476.0 115.7,476.7 126.8,477.4 135.2,478.4 115.7,479.2 99.1,479.9 97.9,480.5 98.8,481.0 97.7,481.6 98.3,482.3 97.9,483.0 99.1,483.7 98.2,484.2 98.9,484.8 99.9,484.9 98.9,485.0 97.5,485.3 98.0,485.4 97.2,485.5 97.5,485.9 97.7,486.4 98.5,487.1 100.5,487.8 99.3,488.5 98.4,489.2 105.3,489.8 113.0,490.3 121.9,491.0 132.4,491.7 125.4,492.7 101.9,493.7 98.8,494.2 97.0,494.8 97.0,495.3 97.9,495.9 98.0,496.0 97.9,496.1 97.8,496.4 97.6,497.0 98.8,497.1 97.6,497.2 97.7,497.5 101.9,498.2 100.2,498.9 99.1,499.6 104.6,500.6 102.8,501.1 106.3,501.2 102.6,501.3 100.5,501.7 98.8,502.4 98.4,503.1 113.0,503.8 125.4,504.8 131.7,505.3 137.9,505.9 115.7,506.6 97.7,507.2 97.3,507.9 97.9,508.6 97.0,509.3 97.0,509.0 97.9,509.6 98.1,510.1 97.0,510.7 97.7,511.2 102.1,511.3 98.0,511.4 97.7,511.8 98.4,512.3 102.7,512.4 98.2,512.5 99.0,512.9 100.4,513.0 98.7,513.1 99.6,513.4 101.1,513.5 99.8,513.6 99.2,514.0 103.6,514.1 99.1,514.2 100.5,514.5 107.9,515.2 115.7,515.9 109.2,516.6 101.9,517.3 109.3,518.0 117.1,518.7 121.3,519.3 125.7,519.4 121.5,519.5 125.4,519.8 128.7,520.4 130.8,521.0 133.1,521.6 135.2,522.2 108.8,522.6 97.7,523.6 97.9,524.3 97.4,525.0 96.3,525.6 97.0,526.2 96.4,526.8 97.4,527.4 97.7,528.0 96.8,528.6 98.6,528.7 96.7,528.8 96.9,529.2 99.7,529.3 97.2,529.4 97.7,529.8 99.5,530.5 101.9,531.2 105.7,531.7 110.2,532.3 124.6,533.0 125.8,533.1 124.2,533.2 139.3,533.7 110.2,534.2 98.4,535.1 98.6,535.7 96.9,536.3 96.9,536.8 97.0,537.4 96.4,538.0 99.1,538.1 96.4,538.2 96.8,538.6 98.1,539.2 98.3,539.7 97.0,540.3 97.7,540.9 96.8,541.5 98.0,542.1 97.5,542.7 96.8,543.3 96.8,543.9 96.6,544.5 97.0,545.1 99.6,545.8 101.9,546.4 100.7,547.1 99.8,547.8 97.7,548.5 98.5,549.2 99.1,549.9 118.5,550.6 122.3,551.2 124.1,551.9 128.2,552.5 131.0,553.1 118.5,554.1 99.1,554.8 97.9,555.5 96.3,556.2 97.1,556.8 96.4,557.3 97.0,557.9 96.1,558.5 97.3,559.1 97.2,559.7 97.0,560.3 96.3,560.9 97.8,561.0 96.7,561.1 97.6,561.5 97.2,562.1 96.1,562.7 96.0,563.3 97.3,563.4 96.0,563.5 96.3,563.9 96.3,564.5 106.0,565.2 108.0,565.9 110.2,566.6 114.8,567.3 118.5,567.9 124.1,568.6 119.5,569.3 115.7,570.0 114.0,570.7 112.5,571.3 110.3,571.9 108.8,572.5 119.9,572.8 121.2,573.5 122.1,573.6 120.8,573.7 120.1,574.2 121.3,574.9 120.9,575.6 120.2,576.3 118.5,577.0 117.7,577.6 115.8,578.1 115.2,578.7 113.9,579.3 113.4,579.9 112.4,580.5 115.3,580.6 112.5,580.7 111.6,581.1 112.6,581.7 115.4,582.3 116.8,582.9 121.2,583.0 116.7,583.1 118.7,583.4 120.3,584.0 121.3,584.6 114.4,585.3 115.3,585.8 115.7,586.4 117.0,586.9 117.7,587.5 118.5,588.1 118.1,588.6 117.5,589.2 116.1,589.7 116.4,590.3 115.7,590.8 118.8,591.5 120.3,592.2 122.7,592.9 121.8,593.6 121.5,594.3 122.4,594.4 121.2,594.5 119.9,595.0 121.2,595.5 123.5,595.6 121.0,595.7 121.4,596.1 122.7,596.7 123.4,597.2 124.1,597.8 122.8,598.3 121.7,598.9 119.5,599.4 118.3,600.0 117.1,600.5 117.1,601.1 118.9,601.2 117.4,601.3 115.2,601.6 115.5,602.2 114.4,602.8 114.4,603.3 114.7,603.9 116.1,604.4 117.0,604.5 115.9,604.6 115.7,605.0 116.7,605.5 120.3,605.6 116.4,605.7 117.1,606.1 118.5,606.6 118.3,607.2 120.1,607.8 119.7,608.3 121.3,608.9 121.6,609.4 124.8,609.5 121.7,609.6 121.4,610.0 120.3,610.6 121.0,611.2 120.4,611.8 119.9,612.3 120.5,612.9 119.5,613.4 119.9,614.0 121.9,614.6 126.2,614.7 121.7,614.8 124.1,615.1 125.1,615.7 128.1,616.2 129.6,616.8 124.1,617.5 119.9,618.2 118.3,618.9 115.7,619.5 119.7,620.2 120.0,620.3 120.0,620.4 122.1,620.8 125.2,620.9 122.3,621.0 125.5,621.4 129.6,622.0 115.7,623.0 97.7,623.7 97.8,624.3 97.3,624.8 96.5,625.4 96.7,625.9 97.0,626.5 97.8,627.0 97.9,627.6 97.7,628.1 98.3,628.7 99.1,629.3 100.0,629.8 100.9,629.9 100.3,630.0 100.4,630.4 100.6,630.9 102.0,631.5 101.9,632.0 101.5,632.7 100.6,633.4 100.5,634.1 107.5,634.8 115.7,635.5 120.8,636.1 122.0,636.2 120.8,636.3 124.8,636.7 129.6,637.3 127.9,637.9 124.4,638.4 122.7,639.0 110.6,639.5 97.7,640.1 98.0,640.7 97.7,641.3 97.6,641.8 97.7,642.4 106.0,643.4 103.2,644.0 99.1,644.5 100.2,645.2 100.8,645.9 105.2,646.0 101.1,646.1 100.5,646.6 106.0,647.3 112.1,647.8 118.5,648.4 124.0,649.1 131.0,649.8 128.7,650.3 126.0,650.9 129.0,651.0 125.9,651.1 122.7,651.4 111.8,652.1 101.9,652.8 100.2,653.5 104.6,653.6 100.1,653.7 97.7,654.2 97.3,654.8 97.8,655.3 97.1,655.9 96.0,656.4 97.6,656.5 95.9,656.6 96.3,657.0 98.0,657.7 97.9,658.4 99.1,659.1 104.1,659.8 110.3,660.5 115.7,661.2 117.0,661.9 118.5,662.5 118.7,663.2 119.4,663.9 119.9,664.6 121.9,665.3 122.0,665.4 121.7,665.5 124.1,666.0 125.4,666.7 122.7,667.4 120.7,668.1 118.5,668.8 119.0,669.5 119.2,669.6 119.2,669.7 119.2,670.2 119.9,670.9 121.5,671.4 121.4,672.0 123.5,672.5 123.6,673.1 125.4,673.6 122.4,674.3 121.0,675.0 118.5,675.7 119.8,676.4 120.8,677.1 124.5,677.2 121.0,677.3 122.7,677.8 118.6,678.4 115.2,679.0 111.1,679.7 107.4,680.3 118.5,681.3 120.8,682.0 124.1,682.7 122.0,683.3 119.7,684.0 120.6,684.1 119.9,684.2 117.1,684.7 114.5,685.4 114.0,686.1 111.6,686.8 111.0,687.5 109.3,688.2 108.8,688.9 122.7,689.6 110.6,690.3 99.1,691.0 97.0,691.7 104.6,692.4 122.7,693.3 124.3,693.9 126.5,694.5 128.2,695.1 126.5,695.7 124.0,696.2 128.4,696.3 124.0,696.4 120.6,696.8 117.9,697.4 121.3,697.5 118.1,697.6 115.7,697.9 106.0,698.6 109.3,698.7 106.0,698.8 96.3,699.3 95.8,700.0 97.0,700.7 97.0,701.4 101.9,701.7 100.7,702.3 99.5,702.9 97.7,703.5 99.3,704.2 101.9,704.8 100.6,705.5 98.6,706.2 97.7,706.9 97.6,707.5 98.5,707.6 97.7,707.7 97.5,708.0 97.5,708.6 97.7,709.1 98.3,709.2 97.5,709.3 98.4,709.7 115.7,710.4 118.6,710.9 119.8,711.5 122.7,712.1 124.2,712.6 126.8,713.2 115.7,713.9 99.1,714.6 99.1,715.2 100.0,715.3 98.9,715.4 97.6,715.9 97.0,716.6" fill="none" stroke="#f58a18" stroke-width="0.55" stroke-linejoin="round" opacity="0.85"/>
<polyline points="166.6,408.8 177.7,409.5 168.0,410.2 186.1,410.9 194.4,411.8 190.5,412.4 189.0,413.1 195.0,413.2 188.5,413.3 186.0,413.7 186.3,413.8 185.6,413.9 184.7,414.3 180.3,415.0 174.8,415.7 170.8,416.4 170.0,417.0 167.0,417.5 166.7,418.1 164.1,418.6 163.6,418.7 164.2,418.8 162.5,419.2 168.0,419.9 166.8,420.6 169.2,421.3 172.8,421.4 169.2,421.5 168.0,422.0 175.3,422.6 173.2,422.7 174.8,422.8 180.5,423.3 169.4,424.0 191.6,424.3 189.7,424.9 188.4,425.5 192.2,425.6 188.1,425.7 184.7,426.1 173.1,426.8 175.4,426.9 173.6,427.0 163.9,427.5 165.4,428.2 169.4,428.9 168.4,429.6 167.7,429.7 168.4,429.8 165.3,430.3 172.1,430.9 170.6,431.0 171.9,431.1 177.8,431.5 181.9,432.1 177.3,432.6 175.8,433.2 170.2,433.3 176.2,433.4 170.8,433.7 176.7,434.4 182.7,434.5 177.1,434.6 181.9,435.1 179.1,435.8 182.6,435.9 179.5,436.0 175.0,436.5 177.1,437.1 181.9,437.6 165.3,438.6 167.7,439.3 170.8,440.0 168.6,440.7 166.6,441.4 170.2,442.1 175.0,442.8 171.5,443.4 170.8,444.1 173.0,444.8 177.7,445.5 176.9,446.2 176.4,446.9 173.6,447.6 176.3,448.2 172.7,448.3 176.5,448.4 174.9,448.8 177.6,449.3 180.1,449.9 180.0,450.0 179.7,450.1 179.1,450.5 173.1,450.6 178.7,450.7 181.9,451.1 176.2,451.8 173.1,452.5 168.0,453.2 165.5,453.9 166.6,454.5 168.2,454.6 167.3,454.7 163.9,455.2 163.1,455.9 165.8,456.6 165.3,457.3 166.7,458.0 170.8,458.7 173.6,459.3 175.3,459.8 180.0,460.4 186.0,460.5 179.7,460.6 181.1,460.9 184.7,461.5 181.6,462.2 177.7,462.9 174.1,463.6 168.0,464.3 165.3,464.9 162.5,465.6 162.6,466.3 163.7,466.4 162.0,466.5 164.1,467.0 170.1,467.1 164.7,467.2 165.3,467.7 167.7,468.4 169.7,469.1 173.6,469.2 169.8,469.3 170.8,469.8 177.7,470.5 172.5,471.2 165.6,471.9 160.4,472.0 166.4,472.1 161.1,472.6 161.8,473.3 161.5,473.4 162.2,473.5 165.2,474.0 166.6,474.7 168.9,475.2 172.3,475.8 173.8,476.3 175.5,476.9 177.7,477.4 172.4,478.1 174.1,478.2 172.3,478.3 166.6,478.8 165.9,479.5 167.4,479.6 165.7,479.7 166.2,480.2 166.2,480.3 166.1,480.4 163.9,480.9 166.0,481.6 168.1,482.3 168.0,482.4 168.8,482.5 170.8,483.0 171.5,483.5 173.0,484.1 167.0,484.2 172.7,484.3 174.2,484.6 177.2,485.2 177.7,485.8 175.1,486.4 170.3,486.5 175.6,486.6 172.0,487.1 170.8,487.8 175.7,488.5 177.7,489.2 178.0,489.8 177.8,489.9 177.3,490.0 179.4,490.5 178.7,491.1 179.1,491.7 187.4,491.3 179.0,492.0 168.0,492.7 166.1,493.3 166.4,493.8 160.4,493.9 165.8,494.0 165.1,494.4 167.7,494.5 165.0,494.6 166.2,495.0 170.0,495.1 166.9,495.2 165.9,495.6 168.7,495.7 165.8,495.8 163.9,496.2 165.6,496.8 166.6,497.5 179.1,498.2 175.0,498.9 174.6,499.0 174.5,499.1 171.1,499.6 168.0,500.3 174.1,501.0 177.7,501.7 179.8,502.4 182.6,503.1 186.1,503.8 179.5,504.5 177.7,504.6 179.0,504.7 174.0,505.2 174.8,505.3 173.9,505.4 169.4,505.9 169.1,506.4 171.0,506.5 169.5,506.6 168.4,507.0 167.4,507.5 161.4,507.6 167.6,507.7 164.6,508.1 164.2,508.2 164.4,508.3 163.9,508.6 163.9,509.0 165.9,509.7 166.7,510.4 167.3,510.5 167.0,510.6 168.0,511.1 171.6,511.8 175.3,511.9 171.0,512.0 175.0,512.5 169.4,513.2 164.2,513.3 169.1,513.4 165.3,513.9 170.7,514.5 171.7,514.6 171.2,514.7 177.7,515.2 180.7,515.9 181.9,516.6 170.8,517.6 181.7,518.3 190.2,519.0 182.8,519.5 183.4,519.6 182.9,519.7 177.7,520.1 171.1,520.7 162.5,521.2 175.0,522.2 171.1,522.9 165.1,523.0 170.8,523.1 166.2,523.6 163.9,524.3 165.4,525.0 167.3,525.6 170.8,526.3 168.5,527.0 166.5,527.7 165.8,527.8 167.2,527.9 165.3,528.4 168.5,529.1 170.8,529.8 167.8,530.5 167.6,530.6 167.2,530.7 166.5,531.2 167.1,531.3 167.2,531.4 163.9,531.9 166.6,532.5 163.6,532.6 166.6,532.7 169.8,533.1 173.1,533.7 172.3,533.8 173.1,533.9 177.7,534.2 171.7,534.8 165.3,535.4 167.4,536.0 165.7,536.7 168.0,537.4 165.7,538.1 165.2,538.2 166.1,538.3 165.1,538.8 159.4,538.9 164.5,539.0 165.3,539.5 167.7,540.2 168.7,540.9 171.9,541.0 168.1,541.1 170.8,541.6 168.4,542.3 168.8,542.4 168.5,542.5 168.2,543.0 173.0,543.1 167.9,543.2 166.6,543.7 169.8,544.4 171.6,545.1 172.2,545.8 170.4,546.4 168.7,547.1 169.6,547.2 169.3,547.3 166.6,547.8 169.8,548.5 172.1,548.6 170.1,548.7 174.9,549.2 177.7,549.9 184.7,550.6 183.5,551.3 183.0,551.4 183.8,551.5 179.7,552.0 179.2,552.1 179.6,552.2 177.7,552.7 181.9,553.4 178.2,554.1 177.1,554.2 178.6,554.3 173.8,554.8 177.3,554.9 174.3,555.0 168.0,555.5 171.1,556.2 172.2,556.9 166.2,557.0 171.9,557.1 175.0,557.5 170.9,558.2 176.9,558.3 171.4,558.4 169.5,558.9 166.6,559.6 171.6,560.3 174.1,560.4 172.2,560.5 176.4,561.0 172.9,561.6 169.6,561.7 173.4,561.8 172.5,562.1 168.3,562.7 167.5,562.8 167.8,562.9 167.6,563.2 165.3,563.8 167.0,564.5 170.8,565.2 195.8,565.2 199.7,565.9 201.3,566.6 197.5,567.3 194.4,567.9 194.3,568.5 196.4,569.1 195.6,569.7 196.7,570.3 196.9,570.9 198.5,571.5 198.5,572.1 197.3,572.8 195.9,573.5 194.4,574.2 193.7,574.7 196.7,575.3 197.9,575.9 196.7,576.0 198.4,576.1 197.3,576.4 198.5,577.0 198.2,577.5 198.6,577.6 198.3,577.7 196.3,578.1 198.1,578.2 197.0,578.3 197.1,578.6 195.0,579.2 197.8,579.3 195.8,579.4 194.4,579.7 196.0,580.3 195.9,580.8 196.3,580.9 195.4,581.0 195.0,581.4 196.5,582.0 195.8,582.5 194.7,583.1 194.7,583.2 194.0,583.3 195.3,583.6 191.9,583.7 195.4,583.8 194.3,584.2 195.2,584.7 194.4,585.3 194.3,586.0 193.7,586.7 191.9,586.8 193.3,586.9 194.4,587.4 193.4,588.1 190.2,588.8 188.5,589.4 184.7,590.1 181.9,590.8 180.9,590.9 182.6,591.0 178.0,591.5 179.3,591.6 178.1,591.7 176.4,592.2 174.7,592.8 174.9,593.3 175.0,593.9 177.9,594.5 177.3,594.6 178.1,594.7 182.9,595.1 180.5,595.2 183.6,595.3 186.7,595.8 185.3,595.9 186.7,596.0 188.8,596.4 184.7,597.1 184.6,597.2 184.3,597.3 177.7,597.8 186.1,598.5 191.6,599.2 193.2,599.8 190.6,599.9 193.8,600.0 194.4,600.5 193.2,601.2 198.4,601.3 193.1,601.4 191.1,601.9 189.7,602.0 190.7,602.1 187.4,602.6 189.9,603.3 189.9,604.0 193.0,604.7 191.4,605.3 192.0,605.8 191.7,605.9 192.4,606.0 192.0,606.4 193.3,606.9 191.6,607.5 188.2,608.2 186.0,608.3 188.6,608.4 184.7,608.9 177.7,609.6 180.3,610.2 181.9,610.9 177.5,611.6 173.6,612.3 175.1,613.0 181.0,613.1 175.1,613.2 174.7,613.6 180.7,613.7 174.3,613.8 174.7,614.2 175.2,614.8 174.9,614.9 174.7,615.0 175.2,615.5 176.4,616.1 184.7,615.4 187.1,615.9 186.5,616.5 182.3,616.6 186.3,616.7 187.4,617.1 189.4,617.6 191.6,618.2 197.2,618.7 197.0,618.8 196.6,618.9 199.9,619.3 195.8,620.2 188.9,620.9 185.2,621.6 186.3,621.7 184.7,621.8 177.7,622.3 170.5,623.0 163.9,623.7 162.2,624.3 160.7,624.8 163.7,624.9 161.3,625.0 159.4,625.4 159.9,625.9 159.5,626.0 160.3,626.1 158.3,626.5 162.4,625.8 166.6,625.1 165.8,625.7 163.6,626.2 161.8,626.3 164.2,626.4 164.0,626.8 160.6,627.3 157.6,627.4 160.2,627.5 159.7,627.9 158.9,628.6 156.6,629.3 155.5,630.0 156.7,630.6 158.3,631.3 162.9,632.0 161.6,632.1 162.2,632.2 165.3,632.7 169.5,633.4 175.0,634.1 193.0,635.1 191.0,635.7 188.7,636.3 184.7,636.9 182.3,637.5 182.4,637.6 181.5,637.7 182.9,638.1 181.9,638.7 188.8,639.2 176.8,639.8 166.6,640.4 163.6,641.0 160.7,641.7 158.3,642.4 163.3,643.1 167.8,643.2 162.9,643.3 168.0,643.8 164.0,644.4 161.1,645.0 160.0,645.1 161.6,645.2 156.5,645.6 154.2,646.2 160.8,646.7 168.0,647.3 177.7,648.0 191.6,649.0 187.2,649.6 183.3,650.3 179.2,650.9 173.4,651.5 166.6,652.1 165.2,652.8 165.1,652.9 165.4,653.0 162.5,653.5 164.3,654.2 163.3,654.3 164.3,654.4 163.8,654.9 165.1,655.0 164.5,655.1 166.6,655.6 166.1,656.2 161.7,656.9 160.3,657.5 159.7,658.1 166.9,658.8 172.2,659.5 177.7,660.0 185.5,660.6 185.6,660.7 186.1,660.8 192.6,661.2 198.5,661.9 196.1,662.4 194.1,663.0 194.1,663.1 193.9,663.2 194.4,663.5 192.1,664.1 190.2,664.6 192.4,665.3 194.4,666.0 198.6,666.1 194.1,666.2 194.4,666.7 193.6,667.3 192.5,667.8 192.4,668.4 193.3,668.9 193.0,669.5 193.6,670.0 193.6,670.6 195.4,671.1 196.4,671.7 190.7,671.8 196.5,671.9 195.8,672.3 195.2,672.8 193.9,673.4 195.1,673.5 193.3,673.6 195.6,673.9 195.0,674.5 191.2,674.6 195.2,674.7 194.4,675.0 195.0,675.7 196.8,676.4 196.4,676.5 197.0,676.6 198.5,677.1 197.5,677.8 196.6,677.9 196.9,678.0 193.3,678.5 191.6,679.2 183.9,679.9 176.4,680.6 184.2,681.3 191.6,682.0 194.6,682.7 197.2,683.3 190.5,684.0 184.5,684.1 190.0,684.2 184.7,684.7 181.2,685.4 184.4,685.5 180.5,685.6 180.0,686.1 180.9,686.2 179.6,686.3 177.7,686.8 179.9,687.4 180.7,687.5 179.7,687.6 184.5,687.9 184.5,688.0 184.9,688.1 188.5,688.5 187.7,688.6 188.5,688.7 191.3,689.0 195.8,689.6 177.5,690.3 175.4,690.4 177.0,690.5 156.9,691.0 170.3,691.7 184.7,692.4 187.3,693.1 188.8,693.8 187.8,694.4 188.0,694.5 188.3,694.6 187.2,695.1 184.7,695.8 184.8,696.5 187.4,697.2 176.1,697.9 175.4,698.0 176.5,698.1 166.6,698.6 162.5,699.3 165.6,700.0 171.6,700.1 165.7,700.2 166.6,700.7 163.5,701.4 164.9,701.5 163.9,701.6 158.3,702.1 157.3,702.2 158.5,702.3 155.5,702.8 157.5,703.5 160.0,704.2 162.3,704.3 159.6,704.4 161.1,704.8 159.1,705.5 157.8,705.6 159.3,705.7 158.0,706.2 155.3,706.3 157.3,706.4 158.3,706.9 158.0,707.6 160.5,708.3 164.9,708.4 160.6,708.5 161.1,709.0 179.1,709.4 188.8,710.4 184.3,711.1 190.3,711.2 184.2,711.3 179.7,711.8 175.0,712.5 172.7,713.0 167.7,713.6 163.9,714.1 162.2,714.7 159.7,715.2 162.0,715.9 160.7,716.6 162.5,717.3" fill="none" stroke="#168e16" stroke-width="0.7" stroke-linejoin="round" opacity="1"/>
<polyline points="233.7,408.8 232.4,409.5 236.2,409.6 232.6,409.7 231.3,410.2 230.2,410.9 232.7,411.5 234.4,412.2 236.1,412.9 235.7,413.6 241.9,414.3 244.7,414.4 242.4,414.5 246.8,415.0 228.8,416.0 216.3,416.8 216.6,417.4 216.0,418.0 217.4,418.6 217.7,419.2 217.1,419.7 217.3,420.3 218.8,420.4 217.3,420.5 218.6,420.8 218.0,421.4 216.0,421.5 217.8,421.6 219.1,422.0 220.9,422.6 223.3,423.3 224.6,424.0 230.7,424.7 235.7,425.4 238.5,426.1 234.3,426.8 234.7,426.9 234.2,427.0 228.8,427.5 217.7,428.2 217.9,428.9 219.7,429.6 219.1,430.3 221.3,431.0 223.3,431.7 228.8,432.4 230.2,432.9 231.7,433.5 231.1,434.0 233.3,434.6 234.4,435.1 239.9,435.8 235.7,436.8 229.2,437.5 224.6,438.2 221.2,438.7 218.4,439.3 217.7,440.0 217.7,440.7 222.7,440.8 217.4,440.9 217.7,441.4 221.9,442.3 220.9,442.9 219.2,443.5 223.1,443.6 219.1,443.7 219.1,444.1 223.2,444.8 226.0,445.5 229.0,446.2 234.0,446.3 229.3,446.4 230.6,446.9 233.0,447.6 233.8,448.3 234.2,448.4 233.3,448.5 234.1,449.0 235.7,449.7 241.4,450.4 246.8,451.1 228.8,451.8 221.8,452.5 216.3,453.2 216.4,453.7 215.6,453.8 216.6,453.9 216.6,454.3 217.5,454.8 217.1,455.4 222.1,455.5 216.8,455.6 217.0,455.9 216.9,456.6 218.6,457.3 219.1,458.0 220.4,458.7 223.6,458.8 220.2,458.9 221.9,459.4 224.0,460.0 225.6,460.6 226.0,461.2 235.7,462.2 239.9,463.1 228.8,464.0 221.6,464.7 216.3,465.4 216.6,466.0 213.2,466.1 216.2,466.2 217.0,466.5 218.2,467.1 217.7,467.7 218.9,468.3 221.9,468.9 223.3,469.5 228.3,469.6 223.4,469.7 226.0,470.1 229.3,470.8 234.4,471.5 241.3,472.3 224.6,473.3 220.3,474.0 216.3,474.7 216.6,475.3 217.6,476.0 217.8,476.1 217.4,476.2 219.1,476.7 225.0,477.4 228.8,478.1 232.1,478.7 233.9,478.8 231.6,478.9 234.4,479.2 221.9,480.2 219.3,480.9 216.3,481.6 216.9,482.3 218.6,483.0 218.9,483.1 218.3,483.2 219.1,483.7 219.0,484.2 219.3,484.8 217.0,485.3 218.0,485.9 217.0,486.4 218.8,487.0 217.6,487.6 217.2,487.7 217.7,487.8 219.9,488.1 219.9,488.2 219.6,488.3 219.3,488.7 220.5,489.2 221.0,489.8 224.1,490.3 224.6,490.9 230.4,491.6 228.1,491.7 230.7,491.8 235.7,492.3 249.6,493.1 231.6,494.1 224.0,494.8 223.4,494.9 223.5,495.0 216.3,495.5 215.9,496.2 219.9,496.3 215.8,496.4 218.3,496.8 217.7,497.5 224.6,498.2 222.2,498.9 221.7,499.6 219.1,500.3 221.0,501.0 223.3,501.7 227.1,502.4 228.8,503.1 230.4,503.6 233.0,504.2 235.7,504.8 245.9,505.4 247.7,505.5 246.0,505.6 255.2,506.1 242.7,506.6 224.6,507.2 221.2,507.9 216.3,508.6 215.6,509.0 216.3,509.6 217.1,509.7 216.4,509.8 215.9,510.1 216.9,510.7 216.8,511.2 217.7,511.8 219.5,512.5 219.0,513.2 221.5,513.3 219.4,513.4 220.5,513.9 222.8,514.4 224.2,515.0 225.6,515.5 228.9,516.1 230.2,516.6 226.2,517.3 226.8,517.4 225.7,517.5 221.9,518.0 224.3,518.7 226.0,519.4 234.4,520.1 241.7,520.8 248.2,521.5 237.2,522.0 235.6,522.1 237.2,522.2 226.0,522.6 215.6,523.6 214.7,524.1 215.2,524.7 216.1,525.2 217.1,525.8 216.3,526.3 216.0,526.9 219.0,527.0 216.1,527.1 217.4,527.4 215.9,527.5 217.5,527.6 217.0,528.0 222.0,528.1 216.6,528.2 219.0,528.6 219.1,529.1 220.8,529.8 221.6,530.5 220.1,530.6 221.4,530.7 221.9,531.2 225.0,531.7 230.1,532.3 230.3,532.4 230.6,532.5 233.8,532.9 236.5,533.4 241.3,534.0 228.8,534.2 217.7,534.7 216.5,535.4 216.0,536.0 216.3,536.7 215.9,537.3 217.8,537.8 218.6,538.4 223.6,538.5 219.1,538.6 218.5,539.0 221.6,539.1 219.1,539.2 219.1,539.5 218.9,540.1 218.5,540.6 218.6,541.2 217.9,541.7 216.5,541.8 217.6,541.9 217.7,542.3 217.6,542.9 219.4,543.4 218.7,543.5 219.2,543.6 220.4,544.0 219.6,544.6 222.0,545.2 221.9,545.8 220.3,546.3 221.0,546.9 220.6,547.4 219.0,548.0 219.1,548.5 222.9,549.2 229.1,549.9 233.0,550.6 233.9,551.3 234.8,552.0 235.7,552.7 263.5,553.1 235.7,553.4 221.9,554.1 219.2,554.8 220.3,554.9 219.8,555.0 216.3,555.5 217.5,556.0 216.0,556.6 216.5,557.2 217.6,557.8 218.0,558.4 222.5,558.5 218.3,558.6 217.7,558.9 218.7,559.5 220.0,559.6 218.2,559.7 219.0,560.1 218.4,560.7 219.5,561.2 218.4,561.3 219.5,561.4 218.9,561.8 218.2,561.9 218.7,562.0 219.1,562.4 221.0,563.1 222.0,563.8 223.8,563.9 221.8,564.0 221.9,564.5 224.6,565.2 230.3,565.9 233.0,566.6 241.3,567.3 247.2,567.8 252.2,567.9 247.6,568.0 253.8,568.4 253.2,568.9 248.2,569.0 253.0,569.1 250.8,569.5 249.6,570.0 250.5,570.6 252.1,571.1 251.0,571.7 253.3,572.2 253.8,572.8 251.4,573.5 256.4,573.6 251.4,573.7 252.0,574.2 254.6,574.3 252.1,574.4 249.6,574.9 252.0,575.6 248.4,575.7 252.3,575.8 253.9,576.3 255.2,577.0 253.8,577.7 252.2,578.3 249.6,579.0 251.3,579.7 251.7,580.4 253.8,581.1 253.1,581.7 253.8,582.2 258.8,582.3 253.4,582.4 252.6,582.8 257.6,582.9 252.4,583.0 253.4,583.3 252.4,583.9 252.2,584.6 251.4,585.3 251.0,586.0 249.1,586.7 248.2,587.4 248.6,587.5 248.5,587.6 246.8,588.1 245.6,588.6 250.6,588.7 246.0,588.8 243.6,589.2 242.7,589.7 241.4,589.8 242.7,589.9 242.2,590.3 241.3,590.8 239.0,591.5 244.0,591.6 238.6,591.7 236.8,592.2 234.4,592.9 239.0,593.6 241.8,593.7 239.5,593.8 242.7,594.3 238.1,595.0 234.4,595.7 253.8,596.4 244.4,597.1 235.7,597.8 242.2,598.5 249.6,599.2 252.9,599.8 256.5,600.5 254.7,601.1 253.9,601.6 252.7,602.2 250.1,602.8 250.5,602.9 249.7,603.0 249.6,603.3 245.8,604.0 241.3,604.7 247.7,605.4 248.4,605.5 247.3,605.6 252.4,606.1 250.8,606.6 248.0,607.2 246.9,607.8 244.9,608.3 242.7,608.9 245.3,609.6 244.2,609.7 245.2,609.8 248.2,610.2 244.4,610.9 240.6,611.0 244.2,611.1 239.6,611.6 235.7,612.3 237.5,612.9 237.2,613.0 237.5,613.1 241.4,613.4 242.7,614.0 241.2,614.7 238.8,615.4 238.4,615.5 239.2,615.6 235.7,616.1 251.0,617.1 243.9,617.7 236.1,618.3 228.8,618.9 231.5,619.5 235.7,620.2 238.5,620.9 243.5,621.0 238.9,621.1 241.8,621.6 245.4,622.3 239.4,622.9 234.4,623.4 227.7,624.0 222.5,624.5 216.3,625.1 215.7,625.7 216.9,626.2 216.5,626.8 215.6,626.9 216.2,627.0 217.7,627.3 217.5,627.4 217.7,627.5 217.7,627.9 217.4,628.4 219.8,629.0 219.5,629.5 219.9,630.1 224.9,630.2 219.8,630.3 220.5,630.6 219.5,631.3 214.5,631.4 219.4,631.5 219.8,632.0 219.1,632.7 221.9,633.4 225.2,633.5 222.0,633.6 226.0,634.1 228.4,634.8 228.0,634.9 228.6,635.0 233.0,635.5 237.1,636.2 242.4,636.9 245.4,637.6 240.6,638.1 245.6,638.2 241.0,638.3 235.7,638.7 217.7,639.7 216.2,640.4 216.7,641.0 218.0,641.1 216.8,641.2 216.3,641.7 216.0,642.3 216.2,642.8 217.4,643.4 218.4,644.0 221.3,644.1 218.9,644.2 217.7,644.5 219.3,645.1 219.6,645.6 214.6,645.7 220.1,645.8 219.8,646.2 221.4,646.7 221.9,647.3 233.0,648.0 234.3,648.7 234.4,649.4 238.3,650.1 242.7,650.8 235.7,651.4 228.5,652.1 220.5,652.8 220.5,653.4 220.5,653.5 220.0,653.6 219.6,653.9 224.6,654.0 219.2,654.1 218.5,654.5 217.0,655.1 216.3,655.6 216.9,656.3 217.3,657.0 217.7,657.7 220.4,658.3 223.7,658.9 220.7,659.0 224.0,659.1 226.0,659.5 229.4,660.0 231.6,660.6 229.7,660.7 232.0,660.8 235.7,661.2 235.7,661.9 237.1,662.5 241.0,663.2 244.4,663.9 245.4,664.0 244.6,664.1 246.8,664.6 249.0,665.3 254.0,665.4 248.9,665.5 250.9,666.0 253.8,666.7 252.8,667.4 251.4,668.1 249.6,668.8 249.9,669.4 251.9,669.9 254.8,670.5 254.9,670.6 254.4,670.7 255.9,671.1 255.5,671.7 257.3,671.8 255.3,671.9 257.9,672.3 257.0,672.9 253.6,673.6 252.4,674.3 251.8,674.9 253.3,675.4 255.3,675.5 253.5,675.6 253.5,676.0 253.7,676.6 253.2,676.7 254.1,676.8 253.8,677.1 249.3,677.8 246.8,678.5 240.8,679.2 236.6,679.9 230.2,680.6 241.8,681.1 252.4,681.7 248.4,682.3 245.2,682.9 242.0,683.5 238.5,684.0 240.6,684.6 243.3,685.2 246.8,685.8 235.7,686.8 233.7,687.4 229.9,688.0 227.4,688.6 238.5,689.6 227.1,690.3 217.7,691.0 222.6,691.7 226.2,691.8 222.9,691.9 228.8,692.4 235.7,693.1 236.0,693.8 237.1,693.9 236.0,694.0 238.2,694.4 239.9,695.1 240.3,695.8 241.6,696.5 236.6,696.6 241.7,696.7 241.3,697.2 231.6,697.9 219.1,698.6 218.5,699.3 219.4,699.4 218.1,699.5 218.0,700.0 217.0,700.7 218.0,701.3 218.4,701.8 223.1,701.9 218.6,702.0 217.5,702.4 218.2,703.0 218.9,703.6 218.0,703.7 218.4,703.8 219.1,704.2 218.9,704.7 218.6,705.3 217.7,705.9 217.8,706.5 219.6,706.6 217.9,706.7 216.3,707.0 215.6,707.1 216.1,707.2 216.3,707.6 218.1,708.3 217.7,709.0 219.1,709.7 223.6,710.4 230.2,711.1 232.8,711.8 234.6,711.9 233.0,712.0 234.4,712.5 237.1,713.2 221.9,713.9 219.4,714.6 215.1,714.7 219.2,714.8 216.3,715.2 217.2,715.9 218.1,716.6 222.6,716.7 218.4,716.8 217.7,717.3" fill="none" stroke="#1c5eac" stroke-width="0.65" stroke-linejoin="round" opacity="1"/>
<polyline points="294.2,408.8 299.7,409.9 295.3,410.6 290.0,411.3 294.2,411.8 297.6,412.4 299.7,412.9 300.4,413.6 301.0,414.3 301.1,415.0 315.0,415.7 328.9,416.4 315.1,417.1 310.4,417.2 315.3,417.3 302.5,417.8 308.5,418.5 313.6,419.2 317.9,419.9 321.9,420.6 299.7,421.5 302.5,422.4 297.3,423.1 294.2,423.8 293.4,424.3 295.0,424.4 293.1,424.5 291.2,424.9 287.2,425.0 291.6,425.1 288.6,425.4 290.2,426.1 292.8,426.8 308.1,427.5 320.5,428.5 309.9,429.0 299.7,429.6 298.0,430.1 294.6,430.7 294.6,430.8 294.2,430.9 291.4,431.2 289.8,431.8 284.8,431.9 289.5,432.0 287.3,432.4 284.5,433.0 284.5,433.7 280.1,433.8 284.6,433.9 284.9,434.4 284.5,435.1 292.8,435.8 295.5,436.5 299.7,437.2 304.0,437.9 306.3,438.6 307.9,438.7 305.8,438.8 310.8,439.3 302.5,440.0 299.6,440.7 304.6,440.8 299.9,440.9 297.0,441.4 299.7,442.1 301.1,442.8 298.4,443.4 295.6,444.1 295.6,444.7 296.1,445.3 301.1,445.4 296.0,445.5 294.3,445.8 295.3,446.4 294.2,446.9 296.3,447.6 300.2,448.3 302.5,449.0 302.4,449.7 300.1,449.8 302.7,449.9 301.0,450.4 302.7,450.5 301.2,450.6 299.7,451.1 301.7,451.6 304.3,452.2 307.3,452.7 308.1,453.3 307.8,453.4 308.6,453.5 310.8,453.9 319.2,454.3 299.7,454.8 296.8,455.4 295.6,455.9 300.2,456.6 304.0,457.3 306.7,458.0 299.3,458.7 300.0,458.8 298.8,458.9 292.8,459.4 289.5,460.1 287.7,460.8 288.0,460.9 287.2,461.0 284.5,461.5 286.4,462.2 282.4,462.3 285.9,462.4 290.0,462.9 295.6,463.6 299.7,464.3 304.7,464.9 309.7,465.6 309.6,465.7 309.4,465.8 313.6,466.3 299.7,467.3 297.2,467.9 292.8,468.4 290.4,469.1 293.0,469.2 290.6,469.3 290.0,469.8 286.2,470.5 287.9,470.6 286.7,470.7 281.7,471.2 282.7,471.9 283.1,472.6 288.2,473.3 283.2,473.4 288.2,473.5 292.8,474.0 302.5,474.7 297.2,475.3 291.4,476.0 281.7,477.0 281.6,477.7 280.3,478.4 288.6,479.2 290.9,479.8 293.6,480.3 291.7,480.4 293.8,480.5 297.0,480.9 301.9,481.6 308.1,482.3 321.9,482.6 311.0,483.1 299.7,483.7 296.2,484.4 292.8,485.1 293.5,485.6 293.4,486.2 294.0,486.7 294.8,486.8 293.9,486.9 293.9,487.3 294.2,487.8 293.2,488.5 290.0,489.2 287.4,489.8 286.3,490.3 283.9,490.4 286.2,490.5 283.1,490.9 284.4,491.5 283.6,492.1 287.7,492.2 283.5,492.3 284.5,492.7 292.8,493.7 296.0,494.3 300.1,494.9 302.5,495.5 305.4,496.2 306.6,496.3 305.1,496.4 306.8,496.8 308.4,496.9 307.0,497.0 309.4,497.5 301.6,498.1 304.5,498.2 301.1,498.3 294.2,498.6 295.4,499.2 295.9,499.8 295.6,500.3 293.0,501.0 291.4,501.7 289.7,502.3 289.9,502.8 288.6,503.4 288.7,503.9 290.6,504.5 291.0,505.0 292.8,505.6 293.6,506.2 296.8,506.8 298.6,507.4 299.2,507.5 298.6,507.6 299.7,507.9 324.7,508.4 313.6,509.3 327.5,509.0 307.8,509.6 307.4,509.7 308.2,509.8 290.0,510.1 296.0,510.8 302.2,511.4 301.0,511.5 301.8,511.6 309.4,512.1 299.7,512.6 288.6,513.2 288.6,513.7 286.2,514.3 289.5,514.4 286.5,514.5 285.9,514.9 285.2,515.5 285.6,516.1 288.9,516.2 285.6,516.3 284.5,516.6 286.7,517.3 290.0,518.0 290.0,518.7 288.4,519.4 285.9,519.5 287.9,519.6 288.6,520.1 292.2,520.8 294.2,521.5 295.7,522.2 298.2,522.9 299.7,523.6 319.2,523.1 311.2,523.8 302.5,524.5 299.4,525.1 294.1,525.7 291.4,526.3 292.6,527.0 294.0,527.7 293.0,527.8 294.4,527.9 295.6,528.4 292.7,529.1 290.0,529.8 294.1,530.5 299.7,531.2 298.1,531.7 295.1,532.3 290.1,532.4 295.2,532.5 292.7,532.9 294.9,533.0 293.2,533.1 291.2,533.4 288.6,534.0 304.1,534.7 319.2,535.4 292.8,536.0 291.5,536.7 292.1,537.4 291.4,538.1 294.9,538.8 291.8,538.9 295.1,539.0 299.7,539.5 297.8,540.2 297.6,540.9 295.6,541.6 295.1,542.3 298.8,542.4 295.2,542.5 292.9,543.0 291.5,543.1 293.3,543.2 291.4,543.7 289.9,544.2 291.0,544.8 286.0,544.9 290.8,545.0 289.1,545.3 289.7,545.4 289.3,545.5 290.2,545.9 288.6,546.4 290.5,547.0 290.7,547.6 292.0,547.7 290.2,547.8 291.8,548.1 292.7,548.2 291.8,548.3 290.9,548.7 293.8,548.8 290.5,548.9 292.8,549.2 292.2,549.8 292.8,550.3 293.3,550.4 292.9,550.5 292.2,550.9 289.7,551.4 290.0,552.0 289.0,552.7 288.6,553.4 293.3,554.1 297.0,554.8 320.5,555.5 299.7,556.2 295.7,556.9 292.8,557.5 296.5,558.1 300.2,558.7 298.8,558.8 300.0,558.9 303.6,559.2 307.9,559.8 310.8,560.3 305.0,561.0 299.7,561.7 290.0,562.4 295.6,563.1 302.5,563.8 296.6,564.5 297.1,564.6 296.9,564.7 292.8,565.2 290.7,565.9 288.9,566.6 287.3,567.3 286.1,567.9 284.5,568.6 284.1,569.2 283.4,569.7 282.6,570.3 282.3,570.9 281.7,571.4 281.8,572.0 282.1,572.6 282.4,573.2 282.5,573.8 282.6,574.4 283.1,575.0 283.1,575.6 282.9,576.2 282.7,576.8 282.3,577.4 282.2,578.0 282.0,578.5 281.9,579.1 281.7,579.7 282.1,580.3 282.1,580.9 282.3,581.5 282.6,582.1 285.2,582.2 282.6,582.3 282.7,582.7 283.1,583.3 283.1,583.9 283.7,584.5 283.9,585.1 284.2,585.7 284.7,586.3 285.3,586.9 285.6,587.5 285.9,588.1 286.6,588.8 287.5,589.4 288.6,590.1 292.8,590.8 288.2,591.5 283.1,592.2 279.5,592.9 276.2,593.6 283.1,594.3 284.3,595.0 285.9,595.7 286.7,596.4 288.0,597.1 288.6,597.8 286.7,598.3 287.2,598.9 286.0,599.4 287.1,599.5 285.8,599.6 286.4,600.0 284.5,600.5 285.5,601.1 285.7,601.6 285.3,602.2 284.8,602.8 284.8,602.9 284.7,603.0 285.9,603.3 291.0,604.0 294.2,604.7 289.8,605.4 285.9,606.1 285.3,606.6 286.5,607.2 291.5,607.3 286.1,607.4 286.7,607.8 286.2,608.3 290.1,608.4 286.7,608.5 287.3,608.9 284.8,609.6 283.9,609.7 284.4,609.8 284.9,610.2 283.1,610.9 281.4,611.6 277.5,612.3 279.3,612.9 282.5,613.4 281.8,613.5 282.6,613.6 285.9,614.0 284.6,614.7 284.0,615.4 284.5,616.1 288.3,616.8 292.0,617.5 294.2,618.2 291.7,618.9 291.2,619.0 291.8,619.1 290.5,619.5 288.6,620.2 294.3,620.9 299.7,621.6 305.7,622.3 310.8,623.0 324.7,624.0 318.2,624.5 313.6,625.1 308.7,625.8 305.3,626.5 302.4,627.2 299.7,627.9 297.8,628.6 295.3,629.3 292.8,630.0 317.8,630.6 307.0,631.3 294.2,632.0 291.8,632.7 296.8,632.8 292.2,632.9 290.0,633.4 288.2,634.1 284.5,634.8 287.3,635.5 288.7,636.2 290.0,636.9 291.3,637.6 294.7,637.7 290.9,637.8 293.9,638.3 293.1,638.4 294.0,638.5 295.6,639.0 304.4,639.7 312.1,640.4 320.5,641.0 313.5,641.7 306.7,642.4 312.8,643.1 317.8,643.8 306.9,644.5 297.0,645.2 293.6,645.9 290.7,646.0 293.4,646.1 292.5,646.6 288.6,647.3 285.9,648.0 284.8,648.7 289.8,648.8 284.5,648.9 281.7,649.4 282.4,650.1 283.6,650.8 284.5,651.4 291.1,652.1 299.7,652.8 295.6,653.5 290.3,654.2 285.9,654.9 291.0,655.5 291.1,655.6 291.1,655.7 297.8,656.1 303.5,656.7 298.5,656.8 303.0,656.9 310.8,657.3 305.6,657.8 299.7,658.4 294.3,659.1 288.6,659.8 320.5,659.5 309.3,660.0 297.8,660.6 285.9,661.2 284.1,661.9 283.9,662.5 283.1,663.2 284.3,663.9 285.2,664.6 285.9,665.3 285.1,665.9 283.8,666.4 283.4,667.0 282.4,667.5 281.7,668.1 281.6,668.6 281.3,669.2 280.8,669.8 280.6,670.3 280.3,670.9 280.1,671.5 280.2,672.1 280.0,672.6 280.3,673.2 280.2,673.8 281.5,673.9 279.8,674.0 280.7,674.4 280.3,675.0 280.6,675.6 281.3,675.7 280.7,675.8 280.6,676.1 281.0,676.7 281.6,677.2 281.7,677.8 285.4,678.5 288.6,679.2 291.7,679.9 295.6,680.6 291.4,681.3 288.2,682.0 283.1,682.7 284.8,683.3 287.4,683.4 285.1,683.5 284.8,684.0 285.9,684.7 287.3,685.4 288.6,686.1 286.7,686.8 285.9,687.5 296.6,688.2 295.8,688.3 296.3,688.4 306.7,688.9 300.7,689.6 295.6,690.3 317.8,690.3 307.8,691.0 299.4,691.7 300.1,691.8 299.4,691.9 288.6,692.4 289.1,693.1 291.3,693.8 291.4,693.9 291.1,694.0 291.4,694.4 294.5,695.0 298.9,695.6 304.1,696.1 306.8,696.7 310.8,697.2 305.9,697.9 302.5,698.6 313.8,699.3 323.3,700.0 319.2,700.5 314.2,700.6 319.5,700.7 315.7,701.1 312.3,701.7 310.7,702.2 306.7,702.8 308.9,703.3 314.4,703.9 316.4,704.4 320.7,705.0 323.3,705.5 314.0,706.2 319.0,706.3 313.9,706.4 305.3,706.9 309.0,707.6 313.6,708.3 300.8,709.0 285.9,709.7 285.7,710.4 283.8,711.1 283.1,711.8 286.9,712.5 288.6,713.2 300.7,713.9 312.7,714.6 323.3,715.2 311.6,715.9 299.7,716.6 313.6,717.3" fill="none" stroke="#9e1818" stroke-width="0.55" stroke-linejoin="round" opacity="1"/>
<polyline points="359.0,409.1 355.1,409.7 353.4,410.4 351.7,411.0 356.7,411.1 352.2,411.2 350.6,411.5 351.9,412.2 355.9,412.9 357.6,413.6 359.8,414.3 360.4,415.0 363.1,415.7 372.0,416.4 379.8,417.1 373.7,417.8 367.3,418.5 372.8,419.2 378.4,419.9 367.3,420.6 365.6,421.1 364.5,421.7 362.9,422.2 361.0,422.8 359.0,423.3 354.3,424.0 347.9,424.7 349.9,425.4 350.3,426.1 352.0,426.8 364.0,427.4 362.1,427.5 363.6,427.6 375.6,427.9 378.4,428.5 370.9,429.0 361.7,429.6 366.3,430.1 368.7,430.7 347.9,431.7 346.5,432.4 344.0,433.0 339.2,433.1 344.2,433.2 342.3,433.7 343.1,434.4 345.1,435.1 346.5,435.8 354.8,436.5 357.1,437.2 360.5,437.9 361.7,438.6 377.0,439.3 370.4,439.8 361.7,440.4 363.1,441.1 365.9,441.8 359.0,442.8 360.1,443.4 361.7,444.1 360.5,444.7 358.5,445.3 357.3,445.8 356.2,446.4 354.8,446.9 358.7,447.6 360.4,448.3 360.1,448.9 362.1,449.4 363.6,450.0 363.4,450.5 364.5,451.1 367.0,451.6 370.8,452.2 372.7,452.7 375.3,453.3 378.4,453.9 361.7,454.8 363.9,455.4 358.9,455.5 364.0,455.6 364.8,456.0 365.9,456.6 372.8,457.6 361.7,458.4 360.5,459.0 357.8,459.5 356.2,460.1 350.0,460.8 345.2,460.9 350.0,461.0 345.1,461.5 347.3,462.2 347.3,462.3 347.3,462.4 348.1,462.9 350.6,463.6 360.0,464.3 363.3,464.4 360.2,464.5 370.1,464.9 376.9,465.6 382.5,466.3 364.5,467.3 358.6,467.9 354.8,468.4 350.1,469.1 345.1,469.8 343.9,470.5 342.8,471.2 337.8,471.3 342.7,471.4 340.2,471.9 345.0,472.6 347.9,473.3 370.1,474.2 365.2,474.8 367.6,474.9 365.3,475.0 360.6,475.4 365.3,475.5 360.3,475.6 354.8,476.0 347.5,476.7 348.3,476.8 348.0,476.9 342.3,477.4 340.9,478.1 340.9,478.8 350.6,479.8 355.9,480.3 361.7,480.9 370.2,481.5 378.5,482.0 376.4,482.1 378.1,482.2 388.1,482.6 380.9,483.1 375.6,483.7 367.7,484.4 361.7,485.1 359.8,485.8 361.2,485.9 359.4,486.0 356.8,486.4 354.8,487.1 357.1,487.8 357.9,488.5 359.0,489.2 353.4,489.9 347.9,490.6 345.1,491.3 342.3,492.0 347.2,492.7 350.6,493.4 355.5,494.1 361.8,494.8 365.9,495.5 368.5,496.2 370.8,496.8 374.2,497.5 361.7,498.2 360.1,498.9 361.7,499.0 360.2,499.1 357.7,499.6 359.4,499.7 357.9,499.8 354.8,500.3 357.3,501.0 357.9,501.1 357.1,501.2 359.0,501.7 355.7,502.4 350.6,503.1 351.6,503.7 351.2,504.3 349.7,504.4 350.8,504.5 351.5,505.0 356.1,505.1 351.4,505.2 352.0,505.6 353.5,506.2 356.9,506.8 359.8,507.4 361.7,507.9 381.2,508.9 372.8,509.3 389.5,509.0 372.3,509.7 374.6,509.8 372.8,509.9 356.2,510.4 362.2,510.9 367.0,511.5 365.0,511.6 366.6,511.7 372.8,512.1 361.6,512.6 352.0,513.2 351.3,513.7 350.4,514.3 350.8,514.9 349.3,515.5 348.5,516.1 347.9,516.6 351.1,517.3 353.4,518.0 352.4,518.7 352.6,519.4 352.0,520.1 354.2,520.7 358.4,521.2 363.2,521.3 358.7,521.4 361.7,521.8 372.0,522.5 381.2,523.1 373.7,523.7 374.8,523.8 373.9,523.9 364.5,524.3 361.1,525.0 361.5,525.1 361.2,525.2 358.9,525.6 356.2,526.3 357.9,527.0 361.2,527.7 361.3,527.8 361.1,527.9 364.5,528.4 360.5,529.1 357.3,529.8 354.8,530.5 357.9,531.2 358.5,531.9 361.7,532.6 356.0,533.3 352.0,534.0 368.5,534.7 383.9,535.4 372.3,536.0 369.1,536.1 372.7,536.2 359.0,536.7 358.3,537.4 356.2,538.1 354.8,538.8 359.4,539.5 359.5,539.6 359.0,539.7 364.5,540.2 364.5,540.9 362.3,541.6 361.7,542.3 360.3,543.0 357.2,543.7 356.2,544.4 354.3,545.1 353.2,545.8 352.0,546.4 353.8,547.1 358.8,547.2 354.2,547.3 356.9,547.8 359.0,548.5 357.9,549.2 356.3,549.9 353.4,550.6 353.8,551.2 352.0,551.7 352.3,552.3 350.1,552.8 350.6,553.4 356.8,554.1 357.0,554.2 356.8,554.3 361.7,554.8 367.3,555.5 374.5,556.2 381.2,556.9 372.0,557.5 361.7,558.2 358.3,558.9 356.2,559.6 372.8,560.6 366.1,561.1 359.0,561.7 354.8,562.4 360.3,563.0 363.0,563.6 368.7,564.2 364.5,564.8 359.6,565.3 354.8,565.9 353.0,566.6 350.9,567.3 349.3,567.9 347.9,568.6 346.5,569.3 345.9,569.9 345.5,570.5 345.0,571.1 344.6,571.6 344.1,572.2 343.7,572.8 343.7,573.4 343.8,573.9 343.6,574.5 343.2,575.0 343.4,575.6 343.4,576.1 343.2,576.7 343.3,577.2 343.1,577.8 343.0,578.3 343.4,578.9 343.5,579.5 343.8,580.0 343.5,580.1 343.5,580.2 344.0,580.6 343.9,581.1 344.5,581.7 344.7,582.2 344.7,582.8 345.1,583.3 345.1,583.9 345.3,584.5 346.0,585.1 346.1,585.7 346.5,586.3 346.9,586.9 347.3,587.5 347.9,588.1 349.5,588.8 351.6,589.4 353.4,590.1 354.2,590.8 354.8,591.5 342.3,592.2 340.3,592.9 338.2,593.6 347.9,594.3 349.9,595.0 352.0,595.7 351.2,596.4 349.8,597.1 349.3,597.8 347.7,598.3 348.2,598.9 346.5,599.4 351.1,599.5 346.3,599.6 346.9,600.0 346.7,600.1 347.2,600.2 346.5,600.5 346.6,601.1 347.1,601.7 348.9,602.3 349.7,602.9 351.5,603.5 350.2,604.1 353.0,604.2 350.7,604.3 352.0,604.7 349.0,605.4 354.0,605.5 349.0,605.6 347.9,606.1 348.1,606.6 349.1,606.7 348.3,606.8 348.5,607.2 347.2,607.8 348.8,608.3 347.7,608.4 349.3,608.5 347.9,608.9 348.2,609.6 350.6,610.2 352.0,610.9 346.5,611.6 348.8,611.7 346.8,611.8 339.5,612.3 342.3,612.9 343.4,613.4 346.5,614.0 347.4,614.7 347.9,615.4 347.9,616.1 350.1,616.8 354.1,617.5 359.1,617.6 354.6,617.7 356.2,618.2 355.0,618.9 354.3,619.5 352.0,620.2 356.6,620.9 361.7,621.6 368.2,622.3 374.2,623.0 389.5,623.4 370.1,624.4 369.0,625.1 367.6,625.8 367.3,626.5 373.0,627.0 373.8,627.1 373.1,627.2 380.5,627.6 386.7,628.1 365.9,629.0 364.2,629.5 361.7,630.1 362.7,630.2 361.3,630.3 359.0,630.6 358.3,631.3 360.6,631.4 358.5,631.5 356.2,632.0 359.8,632.7 361.7,633.4 355.8,634.1 347.9,634.8 348.2,635.4 349.6,635.9 349.2,636.5 350.8,637.0 345.8,637.1 351.0,637.2 350.6,637.6 356.0,638.3 361.7,639.0 366.4,639.7 371.4,640.4 368.5,641.0 366.7,641.7 366.7,641.8 366.4,641.9 363.1,642.4 366.6,643.1 368.1,643.8 369.5,643.9 367.6,644.0 371.4,644.5 361.7,645.2 355.8,645.9 352.0,646.6 350.6,647.1 347.1,647.7 345.2,648.3 342.7,648.8 340.9,649.4 342.8,650.1 341.4,650.2 342.8,650.3 343.7,650.8 346.5,651.4 359.0,652.1 363.3,652.8 364.5,652.9 363.1,653.0 367.3,653.5 359.7,654.2 353.4,654.9 357.0,655.5 361.5,656.1 367.0,656.7 371.4,657.3 366.2,657.9 360.0,658.5 359.4,658.6 360.1,658.7 354.8,659.1 353.1,659.8 349.8,660.5 347.9,661.2 347.5,661.7 346.5,662.3 346.4,662.8 345.6,663.4 345.1,663.9 344.5,664.5 344.4,665.0 344.1,665.6 343.8,666.1 343.7,666.7 343.5,667.3 342.8,667.9 347.0,668.0 343.1,668.1 342.5,668.5 341.7,669.1 341.9,669.7 341.7,670.3 340.9,670.9 341.2,671.5 340.9,672.1 341.6,672.6 346.6,672.7 341.6,672.8 341.5,673.2 341.9,673.8 341.8,674.4 342.3,675.0 343.3,675.6 348.3,675.7 343.0,675.8 343.8,676.1 344.8,676.7 345.3,677.2 346.5,677.8 350.8,678.4 354.8,678.9 362.3,679.6 370.1,680.3 346.5,681.3 346.9,682.0 345.5,682.7 344.4,682.8 345.4,682.9 345.1,683.3 352.0,684.0 349.9,684.7 347.3,685.4 346.5,686.1 354.5,686.8 353.2,686.9 354.3,687.0 361.7,687.5 365.5,688.2 369.3,688.9 372.8,689.6 381.2,690.3 359.0,691.0 355.4,691.7 352.9,692.4 349.3,693.1 351.0,693.8 353.4,694.4 357.3,695.1 361.7,695.8 368.4,696.5 375.6,697.2 373.0,697.9 371.4,698.6 370.1,699.3 376.2,700.0 383.2,700.7 389.5,701.4 377.8,702.1 365.9,702.8 369.7,703.3 372.7,703.9 375.1,704.4 379.5,705.0 382.5,705.5 373.1,706.2 364.5,706.9 364.6,707.6 365.6,708.3 364.5,709.0 345.1,709.7 342.7,710.4 339.5,711.1 342.8,711.8 345.1,712.5 360.7,713.2 374.2,713.9 368.4,714.6 361.7,715.2 363.1,715.9 358.1,716.0 363.2,716.1 364.4,716.6 365.9,717.3" fill="none" stroke="#189cee" stroke-width="0.55" stroke-linejoin="round" opacity="1"/>
<rect x="399" y="24.90" width="29.00" height="1.80" fill="#0a5cb4"/>
<rect x="399" y="26.00" width="29.00" height="2.20" fill="#8a3a10"/>
<rect x="399" y="27.50" width="29.00" height="3.80" fill="#008a00"/>
<rect x="399" y="30.60" width="29.00" height="1.80" fill="#8a8a00"/>
<rect x="399" y="31.70" width="29.00" height="13.90" fill="#008a00"/>
<rect x="399" y="44.90" width="29.00" height="1.80" fill="#7a3a78"/>
<rect x="399" y="46.00" width="29.00" height="1.90" fill="#0a5cb4"/>
<rect x="399" y="47.20" width="29.00" height="2.40" fill="#7a3a78"/>
<rect x="399" y="48.90" width="29.00" height="7.00" fill="#008a00"/>
<rect x="399" y="55.20" width="29.00" height="1.80" fill="#0b6878"/>
<rect x="399" y="56.30" width="29.00" height="4.20" fill="#0a5cb4"/>
<rect x="399" y="59.80" width="29.00" height="1.80" fill="#008a00"/>
<rect x="399" y="60.90" width="29.00" height="1.80" fill="#7a3a78"/>
<rect x="399" y="62.00" width="29.00" height="4.20" fill="#008a00"/>
<rect x="399" y="65.50" width="29.00" height="10.40" fill="#ff8800"/>
<rect x="399" y="75.20" width="29.00" height="3.50" fill="#e01000"/>
<rect x="399" y="78.00" width="29.00" height="1.90" fill="#8a8a00"/>
<rect x="399" y="79.20" width="29.00" height="11.50" fill="#ff8800"/>
<rect x="399" y="90.00" width="29.00" height="1.70" fill="#e01000"/>
<rect x="399" y="91.00" width="29.00" height="3.80" fill="#008a00"/>
<rect x="399" y="94.10" width="29.00" height="13.90" fill="#ff8800"/>
<rect x="399" y="107.30" width="29.00" height="15.30" fill="#008a00"/>
<rect x="399" y="121.90" width="29.00" height="1.90" fill="#0b6878"/>
<rect x="399" y="123.10" width="29.00" height="36.10" fill="#008a00"/>
<rect x="399" y="158.50" width="29.00" height="2.10" fill="#0b6878"/>
<rect x="399" y="159.90" width="29.00" height="5.30" fill="#008a00"/>
<rect x="399" y="164.50" width="29.00" height="12.40" fill="#ff8800"/>
<rect x="399" y="176.20" width="29.00" height="2.40" fill="#8a3a10"/>
<rect x="399" y="177.90" width="29.00" height="2.40" fill="#008a00"/>
<rect x="399" y="179.60" width="29.00" height="18.00" fill="#ff8800"/>
<rect x="399" y="196.90" width="29.00" height="4.60" fill="#e01000"/>
<rect x="399" y="200.80" width="29.00" height="1.60" fill="#80766a"/>
<rect x="399" y="201.70" width="29.00" height="9.10" fill="#ff8800"/>
<rect x="399" y="210.10" width="29.00" height="3.50" fill="#e01000"/>
<rect x="399" y="212.90" width="29.00" height="2.30" fill="#008a00"/>
<rect x="399" y="214.50" width="29.00" height="3.00" fill="#ff8800"/>
<rect x="399" y="216.80" width="29.00" height="1.90" fill="#8a8a00"/>
<rect x="399" y="218.00" width="29.00" height="11.90" fill="#ff8800"/>
<rect x="399" y="229.20" width="29.00" height="1.60" fill="#80766a"/>
<rect x="399" y="230.10" width="29.00" height="1.80" fill="#e01000"/>
<rect x="399" y="231.20" width="29.00" height="2.70" fill="#008a00"/>
<rect x="399" y="233.20" width="29.00" height="14.40" fill="#ff8800"/>
<rect x="399" y="246.90" width="29.00" height="3.00" fill="#008a00"/>
<rect x="399" y="249.20" width="29.00" height="14.40" fill="#ff8800"/>
<rect x="399" y="262.90" width="29.00" height="3.00" fill="#e01000"/>
<rect x="399" y="265.20" width="29.00" height="1.50" fill="#ff8800"/>
<rect x="399" y="266.00" width="29.00" height="1.90" fill="#e01000"/>
<rect x="399" y="267.20" width="29.00" height="7.50" fill="#ff8800"/>
<rect x="399" y="274.00" width="29.00" height="3.60" fill="#e01000"/>
<rect x="399" y="276.90" width="29.00" height="12.10" fill="#ff8800"/>
<rect x="399" y="288.30" width="29.00" height="3.60" fill="#e01000"/>
<rect x="399" y="291.20" width="29.00" height="16.10" fill="#ff8800"/>
<rect x="399" y="306.60" width="29.00" height="3.80" fill="#008a00"/>
<rect x="399" y="309.70" width="29.00" height="15.10" fill="#ff8800"/>
<rect x="399" y="324.10" width="29.00" height="8.00" fill="#e01000"/>
<rect x="429" y="24.90" width="29.00" height="2.40" fill="#0a5cb4"/>
<rect x="429" y="26.60" width="29.00" height="1.80" fill="#e01000"/>
<rect x="429" y="27.70" width="29.00" height="3.00" fill="#0b6878"/>
<rect x="429" y="30.00" width="29.00" height="2.40" fill="#8a8a00"/>
<rect x="429" y="31.70" width="29.00" height="8.70" fill="#0a5cb4"/>
<rect x="429" y="39.70" width="29.00" height="1.90" fill="#0b6878"/>
<rect x="429" y="40.90" width="29.00" height="21.80" fill="#0a5cb4"/>
<rect x="429" y="62.00" width="29.00" height="2.50" fill="#008a00"/>
<rect x="429" y="63.80" width="29.00" height="2.40" fill="#0b6878"/>
<rect x="429" y="65.50" width="29.00" height="10.10" fill="#ff8800"/>
<rect x="429" y="74.90" width="29.00" height="4.80" fill="#0a5cb4"/>
<rect x="429" y="79.00" width="29.00" height="11.70" fill="#ff8800"/>
<rect x="429" y="90.00" width="29.00" height="4.20" fill="#0a5cb4"/>
<rect x="429" y="93.50" width="29.00" height="1.80" fill="#8a8a00"/>
<rect x="429" y="94.60" width="29.00" height="13.40" fill="#ff8800"/>
<rect x="429" y="107.30" width="29.00" height="4.40" fill="#008a00"/>
<rect x="429" y="111.00" width="29.00" height="14.70" fill="#0a5cb4"/>
<rect x="429" y="125.00" width="29.00" height="2.40" fill="#008a00"/>
<rect x="429" y="126.70" width="29.00" height="1.90" fill="#0b6878"/>
<rect x="429" y="127.90" width="29.00" height="3.50" fill="#0b6878"/>
<rect x="429" y="130.70" width="29.00" height="4.70" fill="#008a00"/>
<rect x="429" y="134.70" width="29.00" height="2.50" fill="#0a5cb4"/>
<rect x="429" y="136.50" width="29.00" height="3.00" fill="#008a00"/>
<rect x="429" y="138.80" width="29.00" height="2.90" fill="#0b6878"/>
<rect x="429" y="141.00" width="29.00" height="13.70" fill="#0a5cb4"/>
<rect x="429" y="154.00" width="29.00" height="3.20" fill="#008a00"/>
<rect x="429" y="156.50" width="29.00" height="6.20" fill="#0a5cb4"/>
<rect x="429" y="162.00" width="29.00" height="3.20" fill="#008a00"/>
<rect x="429" y="164.50" width="29.00" height="12.70" fill="#ff8800"/>
<rect x="429" y="176.50" width="29.00" height="3.00" fill="#0a5cb4"/>
<rect x="429" y="178.80" width="29.00" height="1.50" fill="#008a00"/>
<rect x="429" y="179.60" width="29.00" height="18.00" fill="#ff8800"/>
<rect x="429" y="196.90" width="29.00" height="4.60" fill="#e01000"/>
<rect x="429" y="200.80" width="29.00" height="1.60" fill="#0a5cb4"/>
<rect x="429" y="201.70" width="29.00" height="9.10" fill="#ff8800"/>
<rect x="429" y="210.10" width="29.00" height="3.20" fill="#e01000"/>
<rect x="429" y="212.60" width="29.00" height="1.80" fill="#0a5cb4"/>
<rect x="429" y="213.70" width="29.00" height="1.50" fill="#008a00"/>
<rect x="429" y="214.50" width="29.00" height="3.00" fill="#ff8800"/>
<rect x="429" y="216.80" width="29.00" height="1.90" fill="#80766a"/>
<rect x="429" y="218.00" width="29.00" height="11.90" fill="#ff8800"/>
<rect x="429" y="229.20" width="29.00" height="1.60" fill="#80766a"/>
<rect x="429" y="230.10" width="29.00" height="1.80" fill="#e01000"/>
<rect x="429" y="231.20" width="29.00" height="2.70" fill="#0a5cb4"/>
<rect x="429" y="233.20" width="29.00" height="14.40" fill="#ff8800"/>
<rect x="429" y="246.90" width="29.00" height="3.00" fill="#0a5cb4"/>
<rect x="429" y="249.20" width="29.00" height="14.60" fill="#ff8800"/>
<rect x="429" y="263.10" width="29.00" height="2.70" fill="#e01000"/>
<rect x="429" y="265.10" width="29.00" height="2.20" fill="#f05000"/>
<rect x="429" y="266.60" width="29.00" height="8.10" fill="#ff8800"/>
<rect x="429" y="274.00" width="29.00" height="3.20" fill="#e01000"/>
<rect x="429" y="276.50" width="29.00" height="12.50" fill="#ff8800"/>
<rect x="429" y="288.30" width="29.00" height="3.80" fill="#0a5cb4"/>
<rect x="429" y="291.40" width="29.00" height="15.90" fill="#ff8800"/>
<rect x="429" y="306.60" width="29.00" height="3.80" fill="#0a5cb4"/>
<rect x="429" y="309.70" width="29.00" height="15.10" fill="#ff8800"/>
<rect x="429" y="324.10" width="29.00" height="1.60" fill="#0a5cb4"/>
<rect x="429" y="325.00" width="29.00" height="3.70" fill="#e01000"/>
<rect x="429" y="328.00" width="29.00" height="1.90" fill="#7a3a78"/>
<rect x="429" y="329.20" width="29.00" height="2.20" fill="#e01000"/>
<rect x="429" y="330.70" width="29.00" height="1.40" fill="#0a5cb4"/>
<rect x="459" y="24.90" width="28.00" height="1.80" fill="#ff8800"/>
<rect x="459" y="26.00" width="28.00" height="1.80" fill="#8a8a00"/>
<rect x="459" y="27.10" width="28.00" height="2.70" fill="#e01000"/>
<rect x="459" y="29.10" width="28.00" height="2.20" fill="#8a8a00"/>
<rect x="459" y="30.60" width="28.00" height="2.60" fill="#ff8800"/>
<rect x="459" y="32.50" width="28.00" height="3.70" fill="#008a00"/>
<rect x="459" y="35.50" width="28.00" height="4.10" fill="#e01000"/>
<rect x="459" y="38.90" width="28.00" height="27.00" fill="#008a00"/>
<rect x="459" y="65.20" width="28.00" height="11.30" fill="#ff8800"/>
<rect x="459" y="75.80" width="28.00" height="3.50" fill="#008a00"/>
<rect x="459" y="78.60" width="28.00" height="1.50" fill="#e01000"/>
<rect x="459" y="79.40" width="28.00" height="11.70" fill="#ff8800"/>
<rect x="459" y="90.40" width="28.00" height="4.20" fill="#008a00"/>
<rect x="459" y="93.90" width="28.00" height="14.70" fill="#ff8800"/>
<rect x="459" y="107.90" width="28.00" height="3.80" fill="#008a00"/>
<rect x="459" y="111.00" width="28.00" height="1.60" fill="#e01000"/>
<rect x="459" y="111.90" width="28.00" height="51.60" fill="#008a00"/>
<rect x="459" y="162.80" width="28.00" height="14.40" fill="#ff8800"/>
<rect x="459" y="176.50" width="28.00" height="4.20" fill="#008a00"/>
<rect x="459" y="180.00" width="28.00" height="16.70" fill="#ff8800"/>
<rect x="459" y="196.00" width="28.00" height="1.60" fill="#8a8a00"/>
<rect x="459" y="196.90" width="28.00" height="2.70" fill="#8a3a10"/>
<rect x="459" y="198.90" width="28.00" height="3.50" fill="#e01000"/>
<rect x="459" y="201.70" width="28.00" height="10.80" fill="#ff8800"/>
<rect x="459" y="211.80" width="28.00" height="1.80" fill="#e01000"/>
<rect x="459" y="212.90" width="28.00" height="18.70" fill="#ff8800"/>
<rect x="459" y="230.90" width="28.00" height="2.70" fill="#008a00"/>
<rect x="459" y="232.90" width="28.00" height="1.60" fill="#f05000"/>
<rect x="459" y="233.80" width="28.00" height="13.30" fill="#ff8800"/>
<rect x="459" y="246.40" width="28.00" height="2.40" fill="#008a00"/>
<rect x="459" y="248.10" width="28.00" height="1.80" fill="#e01000"/>
<rect x="459" y="249.20" width="28.00" height="14.40" fill="#ff8800"/>
<rect x="459" y="262.90" width="28.00" height="4.40" fill="#e01000"/>
<rect x="459" y="266.60" width="28.00" height="8.10" fill="#ff8800"/>
<rect x="459" y="274.00" width="28.00" height="3.60" fill="#e01000"/>
<rect x="459" y="276.90" width="28.00" height="12.10" fill="#ff8800"/>
<rect x="459" y="288.30" width="28.00" height="2.20" fill="#8a8a00"/>
<rect x="459" y="289.80" width="28.00" height="2.10" fill="#e01000"/>
<rect x="459" y="291.20" width="28.00" height="15.50" fill="#ff8800"/>
<rect x="459" y="306.00" width="28.00" height="4.40" fill="#008a00"/>
<rect x="459" y="309.70" width="28.00" height="15.10" fill="#ff8800"/>
<rect x="459" y="324.10" width="28.00" height="1.60" fill="#008a00"/>
<rect x="459" y="325.00" width="28.00" height="2.30" fill="#e01000"/>
<rect x="459" y="326.60" width="28.00" height="2.10" fill="#8a3a10"/>
<rect x="459" y="328.00" width="28.00" height="4.10" fill="#e01000"/>
<rect x="488" y="24.90" width="29.00" height="1.80" fill="#ff8800"/>
<rect x="488" y="26.00" width="29.00" height="2.20" fill="#e01000"/>
<rect x="488" y="27.50" width="29.00" height="3.20" fill="#008a00"/>
<rect x="488" y="30.00" width="29.00" height="2.40" fill="#8a8a00"/>
<rect x="488" y="31.70" width="29.00" height="3.60" fill="#4a6a00"/>
<rect x="488" y="34.60" width="29.00" height="2.10" fill="#8a3a10"/>
<rect x="488" y="36.00" width="29.00" height="2.10" fill="#8a8a00"/>
<rect x="488" y="37.40" width="29.00" height="8.20" fill="#008a00"/>
<rect x="488" y="44.90" width="29.00" height="4.70" fill="#0b6878"/>
<rect x="488" y="48.90" width="29.00" height="8.10" fill="#008a00"/>
<rect x="488" y="56.30" width="29.00" height="3.20" fill="#0b6878"/>
<rect x="488" y="58.80" width="29.00" height="7.10" fill="#008a00"/>
<rect x="488" y="65.20" width="29.00" height="10.40" fill="#ff8800"/>
<rect x="488" y="74.90" width="29.00" height="1.80" fill="#008a00"/>
<rect x="488" y="76.00" width="29.00" height="3.00" fill="#e01000"/>
<rect x="488" y="78.30" width="29.00" height="2.20" fill="#8a8a00"/>
<rect x="488" y="79.80" width="29.00" height="11.30" fill="#ff8800"/>
<rect x="488" y="90.40" width="29.00" height="4.40" fill="#008a00"/>
<rect x="488" y="94.10" width="29.00" height="14.10" fill="#ff8800"/>
<rect x="488" y="107.50" width="29.00" height="4.20" fill="#008a00"/>
<rect x="488" y="111.00" width="29.00" height="1.60" fill="#e01000"/>
<rect x="488" y="111.90" width="29.00" height="4.70" fill="#008a00"/>
<rect x="488" y="115.90" width="29.00" height="1.50" fill="#057a40"/>
<rect x="488" y="116.70" width="29.00" height="5.40" fill="#008a00"/>
<rect x="488" y="121.40" width="29.00" height="2.30" fill="#0b6878"/>
<rect x="488" y="123.00" width="29.00" height="1.60" fill="#008a00"/>
<rect x="488" y="123.90" width="29.00" height="1.60" fill="#057a40"/>
<rect x="488" y="124.80" width="29.00" height="23.00" fill="#008a00"/>
<rect x="488" y="147.10" width="29.00" height="1.50" fill="#057a40"/>
<rect x="488" y="147.90" width="29.00" height="2.40" fill="#008a00"/>
<rect x="488" y="149.60" width="29.00" height="2.10" fill="#0b6878"/>
<rect x="488" y="151.00" width="29.00" height="7.90" fill="#008a00"/>
<rect x="488" y="158.20" width="29.00" height="2.20" fill="#057a40"/>
<rect x="488" y="159.70" width="29.00" height="5.50" fill="#008a00"/>
<rect x="488" y="164.50" width="29.00" height="12.40" fill="#ff8800"/>
<rect x="488" y="176.20" width="29.00" height="1.60" fill="#008a00"/>
<rect x="488" y="177.10" width="29.00" height="1.50" fill="#8a3a10"/>
<rect x="488" y="177.90" width="29.00" height="2.40" fill="#008a00"/>
<rect x="488" y="179.60" width="29.00" height="18.30" fill="#ff8800"/>
<rect x="488" y="197.20" width="29.00" height="2.40" fill="#8a3a10"/>
<rect x="488" y="198.90" width="29.00" height="3.50" fill="#e01000"/>
<rect x="488" y="201.70" width="29.00" height="9.30" fill="#ff8800"/>
<rect x="488" y="210.30" width="29.00" height="1.60" fill="#8a8a00"/>
<rect x="488" y="211.20" width="29.00" height="2.10" fill="#e01000"/>
<rect x="488" y="212.60" width="29.00" height="2.20" fill="#008a00"/>
<rect x="488" y="214.10" width="29.00" height="11.80" fill="#ff8800"/>
<rect x="488" y="225.20" width="29.00" height="2.20" fill="#c0a000"/>
<rect x="488" y="226.70" width="29.00" height="3.20" fill="#ff8800"/>
<rect x="488" y="229.20" width="29.00" height="1.60" fill="#8a8a00"/>
<rect x="488" y="230.10" width="29.00" height="1.80" fill="#e01000"/>
<rect x="488" y="231.20" width="29.00" height="2.70" fill="#008a00"/>
<rect x="488" y="233.20" width="29.00" height="14.10" fill="#ff8800"/>
<rect x="488" y="246.60" width="29.00" height="2.50" fill="#4a6a00"/>
<rect x="488" y="248.40" width="29.00" height="1.50" fill="#8a8a00"/>
<rect x="488" y="249.20" width="29.00" height="14.60" fill="#ff8800"/>
<rect x="488" y="263.10" width="29.00" height="4.20" fill="#e01000"/>
<rect x="488" y="266.60" width="29.00" height="8.10" fill="#ff8800"/>
<rect x="488" y="274.00" width="29.00" height="3.20" fill="#e01000"/>
<rect x="488" y="276.50" width="29.00" height="12.20" fill="#ff8800"/>
<rect x="488" y="288.00" width="29.00" height="1.60" fill="#8a8a00"/>
<rect x="488" y="288.90" width="29.00" height="3.00" fill="#e01000"/>
<rect x="488" y="291.20" width="29.00" height="15.50" fill="#ff8800"/>
<rect x="488" y="306.00" width="29.00" height="4.40" fill="#008a00"/>
<rect x="488" y="309.70" width="29.00" height="14.80" fill="#ff8800"/>
<rect x="488" y="323.80" width="29.00" height="1.90" fill="#008a00"/>
<rect x="488" y="325.00" width="29.00" height="7.10" fill="#e01000"/>
<rect x="398" y="24" width="1" height="309" fill="#333"/>
<rect x="428" y="24" width="1" height="309" fill="#111"/>
<rect x="458" y="24" width="1" height="309" fill="#111"/>
<rect x="487" y="24" width="1" height="309" fill="#111"/>
<rect x="517" y="24" width="1" height="309" fill="#111"/>
<rect x="398" y="24" width="120" height="1" fill="#111"/>
<rect x="398" y="332" width="120" height="1" fill="#111"/>
<rect x="397" y="409.70" width="29.00" height="3.90" fill="#ff8800"/>
<rect x="397" y="412.90" width="29.00" height="2.70" fill="#0a5cb4"/>
<rect x="397" y="414.90" width="29.00" height="1.50" fill="#ff8800"/>
<rect x="397" y="415.70" width="29.00" height="1.90" fill="#80766a"/>
<rect x="397" y="416.90" width="29.00" height="12.10" fill="#ff8800"/>
<rect x="397" y="428.30" width="29.00" height="7.00" fill="#0a5cb4"/>
<rect x="397" y="434.60" width="29.00" height="3.20" fill="#ff8800"/>
<rect x="397" y="437.10" width="29.00" height="4.50" fill="#008a00"/>
<rect x="397" y="440.90" width="29.00" height="2.20" fill="#0a5cb4"/>
<rect x="397" y="442.40" width="29.00" height="2.10" fill="#008a00"/>
<rect x="397" y="443.80" width="29.00" height="2.40" fill="#0a5cb4"/>
<rect x="397" y="445.50" width="29.00" height="2.40" fill="#008a00"/>
<rect x="397" y="447.20" width="29.00" height="4.10" fill="#0b6878"/>
<rect x="397" y="450.60" width="29.00" height="13.10" fill="#0a5cb4"/>
<rect x="397" y="463.00" width="29.00" height="3.80" fill="#008a00"/>
<rect x="397" y="466.10" width="29.00" height="8.70" fill="#ff8800"/>
<rect x="397" y="474.10" width="29.00" height="2.20" fill="#7a3a78"/>
<rect x="397" y="475.60" width="29.00" height="2.30" fill="#0a5cb4"/>
<rect x="397" y="477.20" width="29.00" height="2.20" fill="#8a8a00"/>
<rect x="397" y="478.70" width="29.00" height="9.00" fill="#ff8800"/>
<rect x="397" y="487.00" width="29.00" height="5.20" fill="#0a5cb4"/>
<rect x="397" y="491.50" width="29.00" height="13.10" fill="#ff8800"/>
<rect x="397" y="503.90" width="29.00" height="1.80" fill="#0b6878"/>
<rect x="397" y="505.00" width="29.00" height="4.40" fill="#008a00"/>
<rect x="397" y="508.70" width="29.00" height="3.00" fill="#0a5cb4"/>
<rect x="397" y="511.00" width="29.00" height="2.50" fill="#0b6878"/>
<rect x="397" y="512.80" width="29.00" height="3.00" fill="#0a5cb4"/>
<rect x="397" y="515.10" width="29.00" height="1.50" fill="#008a00"/>
<rect x="397" y="515.90" width="29.00" height="2.40" fill="#0b6878"/>
<rect x="397" y="517.60" width="29.00" height="11.00" fill="#008a00"/>
<rect x="397" y="527.90" width="29.00" height="4.70" fill="#0b6878"/>
<rect x="397" y="531.90" width="29.00" height="1.80" fill="#80766a"/>
<rect x="397" y="533.00" width="29.00" height="2.50" fill="#0a5cb4"/>
<rect x="397" y="534.80" width="29.00" height="7.00" fill="#008a00"/>
<rect x="397" y="541.10" width="29.00" height="3.50" fill="#0a5cb4"/>
<rect x="397" y="543.90" width="29.00" height="1.80" fill="#0b6878"/>
<rect x="397" y="545.00" width="29.00" height="3.60" fill="#0a5cb4"/>
<rect x="397" y="547.90" width="29.00" height="1.50" fill="#0b6878"/>
<rect x="397" y="548.70" width="29.00" height="5.10" fill="#0a5cb4"/>
<rect x="397" y="553.10" width="29.00" height="4.10" fill="#0b6878"/>
<rect x="397" y="556.50" width="29.00" height="3.00" fill="#0a5cb4"/>
<rect x="397" y="558.80" width="29.00" height="2.40" fill="#008a00"/>
<rect x="397" y="560.50" width="29.00" height="12.50" fill="#ff8800"/>
<rect x="397" y="572.30" width="29.00" height="1.50" fill="#e01000"/>
<rect x="397" y="573.10" width="29.00" height="2.50" fill="#0a5cb4"/>
<rect x="397" y="574.90" width="29.00" height="1.50" fill="#8a8a00"/>
<rect x="397" y="575.70" width="29.00" height="16.50" fill="#ff8800"/>
<rect x="397" y="591.50" width="29.00" height="2.00" fill="#e01000"/>
<rect x="397" y="592.80" width="29.00" height="11.90" fill="#ff8800"/>
<rect x="397" y="604.00" width="29.00" height="2.80" fill="#e01000"/>
<rect x="397" y="606.10" width="29.00" height="1.80" fill="#80766a"/>
<rect x="397" y="607.20" width="29.00" height="12.60" fill="#ff8800"/>
<rect x="397" y="619.10" width="29.00" height="2.60" fill="#e01000"/>
<rect x="397" y="621.00" width="29.00" height="2.30" fill="#0b6878"/>
<rect x="397" y="622.60" width="29.00" height="10.50" fill="#ff8800"/>
<rect x="397" y="632.40" width="29.00" height="1.90" fill="#7a3a78"/>
<rect x="397" y="633.60" width="29.00" height="2.00" fill="#0a5cb4"/>
<rect x="397" y="634.90" width="29.00" height="12.20" fill="#ff8800"/>
<rect x="397" y="646.40" width="29.00" height="2.10" fill="#f05000"/>
<rect x="397" y="647.80" width="29.00" height="2.40" fill="#e01000"/>
<rect x="397" y="649.50" width="29.00" height="4.40" fill="#ff8800"/>
<rect x="397" y="653.20" width="29.00" height="2.40" fill="#e01000"/>
<rect x="397" y="654.90" width="29.00" height="8.70" fill="#ff8800"/>
<rect x="397" y="662.90" width="29.00" height="2.10" fill="#7a3a78"/>
<rect x="397" y="664.30" width="29.00" height="11.30" fill="#ff8800"/>
<rect x="397" y="674.90" width="29.00" height="2.40" fill="#0a5cb4"/>
<rect x="397" y="676.60" width="29.00" height="2.40" fill="#80766a"/>
<rect x="397" y="678.30" width="29.00" height="11.40" fill="#ff8800"/>
<rect x="397" y="689.00" width="29.00" height="2.00" fill="#0a5cb4"/>
<rect x="397" y="690.30" width="29.00" height="2.50" fill="#7a3a78"/>
<rect x="397" y="692.10" width="29.00" height="2.90" fill="#e01000"/>
<rect x="397" y="694.30" width="29.00" height="5.70" fill="#ff8800"/>
<rect x="397" y="699.30" width="29.00" height="3.00" fill="#0a5cb4"/>
<rect x="397" y="701.60" width="29.00" height="9.50" fill="#ff8800"/>
<rect x="397" y="710.40" width="29.00" height="2.20" fill="#0b6878"/>
<rect x="397" y="711.90" width="29.00" height="4.50" fill="#008a00"/>
<rect x="397" y="715.70" width="29.00" height="1.20" fill="#8a8a00"/>
<rect x="427" y="409.70" width="30.00" height="4.10" fill="#ff8800"/>
<rect x="427" y="413.10" width="30.00" height="1.40" fill="#8a3a10"/>
<rect x="427" y="413.80" width="30.00" height="2.60" fill="#ff8800"/>
<rect x="427" y="415.70" width="30.00" height="1.90" fill="#8a8a00"/>
<rect x="427" y="416.90" width="30.00" height="12.10" fill="#ff8800"/>
<rect x="427" y="428.30" width="30.00" height="3.60" fill="#0a5cb4"/>
<rect x="427" y="431.20" width="30.00" height="2.40" fill="#7a3a78"/>
<rect x="427" y="432.90" width="30.00" height="2.40" fill="#0b6878"/>
<rect x="427" y="434.60" width="30.00" height="3.00" fill="#ff8800"/>
<rect x="427" y="436.90" width="30.00" height="1.80" fill="#008a00"/>
<rect x="427" y="438.00" width="30.00" height="2.50" fill="#ff8800"/>
<rect x="427" y="439.80" width="30.00" height="6.90" fill="#008a00"/>
<rect x="427" y="446.00" width="30.00" height="1.90" fill="#8a8a00"/>
<rect x="427" y="447.20" width="30.00" height="2.40" fill="#008a00"/>
<rect x="427" y="448.90" width="30.00" height="2.40" fill="#0a5cb4"/>
<rect x="427" y="450.60" width="30.00" height="2.40" fill="#0b6878"/>
<rect x="427" y="452.30" width="30.00" height="5.30" fill="#0a5cb4"/>
<rect x="427" y="456.90" width="30.00" height="2.40" fill="#008a00"/>
<rect x="427" y="458.60" width="30.00" height="3.00" fill="#0a5cb4"/>
<rect x="427" y="460.90" width="30.00" height="3.00" fill="#0b6878"/>
<rect x="427" y="463.20" width="30.00" height="3.60" fill="#008a00"/>
<rect x="427" y="466.10" width="30.00" height="9.00" fill="#ff8800"/>
<rect x="427" y="474.40" width="30.00" height="4.20" fill="#e01000"/>
<rect x="427" y="477.90" width="30.00" height="2.00" fill="#8a8a00"/>
<rect x="427" y="479.20" width="30.00" height="8.70" fill="#ff8800"/>
<rect x="427" y="487.20" width="30.00" height="2.50" fill="#008a00"/>
<rect x="427" y="489.00" width="30.00" height="1.80" fill="#7a3a78"/>
<rect x="427" y="490.10" width="30.00" height="2.50" fill="#008a00"/>
<rect x="427" y="491.90" width="30.00" height="12.70" fill="#ff8800"/>
<rect x="427" y="503.90" width="30.00" height="5.50" fill="#008a00"/>
<rect x="427" y="508.70" width="30.00" height="2.70" fill="#8a8a00"/>
<rect x="427" y="510.70" width="30.00" height="3.00" fill="#008a00"/>
<rect x="427" y="513.00" width="30.00" height="2.80" fill="#8a8a00"/>
<rect x="427" y="515.10" width="30.00" height="1.50" fill="#008a00"/>
<rect x="427" y="515.90" width="30.00" height="1.80" fill="#8a8a00"/>
<rect x="427" y="517.00" width="30.00" height="11.60" fill="#008a00"/>
<rect x="427" y="527.90" width="30.00" height="1.80" fill="#8a8a00"/>
<rect x="427" y="529.00" width="30.00" height="1.90" fill="#008a00"/>
<rect x="427" y="530.20" width="30.00" height="1.60" fill="#8a8a00"/>
<rect x="427" y="531.10" width="30.00" height="1.50" fill="#008a00"/>
<rect x="427" y="531.90" width="30.00" height="1.80" fill="#8a8a00"/>
<rect x="427" y="533.00" width="30.00" height="16.80" fill="#008a00"/>
<rect x="427" y="549.10" width="30.00" height="2.40" fill="#0b6878"/>
<rect x="427" y="550.80" width="30.00" height="10.40" fill="#008a00"/>
<rect x="427" y="560.50" width="30.00" height="12.50" fill="#ff8800"/>
<rect x="427" y="572.30" width="30.00" height="2.10" fill="#f05000"/>
<rect x="427" y="573.70" width="30.00" height="2.40" fill="#80766a"/>
<rect x="427" y="575.40" width="30.00" height="29.60" fill="#ff8800"/>
<rect x="427" y="604.30" width="30.00" height="2.50" fill="#e01000"/>
<rect x="427" y="606.10" width="30.00" height="14.60" fill="#ff8800"/>
<rect x="427" y="620.00" width="30.00" height="2.10" fill="#e01000"/>
<rect x="427" y="621.40" width="30.00" height="1.90" fill="#8a8a00"/>
<rect x="427" y="622.60" width="30.00" height="11.30" fill="#ff8800"/>
<rect x="427" y="633.20" width="30.00" height="1.90" fill="#e01000"/>
<rect x="427" y="634.40" width="30.00" height="1.80" fill="#8a8a00"/>
<rect x="427" y="635.50" width="30.00" height="13.30" fill="#ff8800"/>
<rect x="427" y="648.10" width="30.00" height="1.50" fill="#f05000"/>
<rect x="427" y="648.90" width="30.00" height="4.60" fill="#ff8800"/>
<rect x="427" y="652.80" width="30.00" height="1.90" fill="#8a8a00"/>
<rect x="427" y="654.00" width="30.00" height="9.60" fill="#ff8800"/>
<rect x="427" y="662.90" width="30.00" height="1.80" fill="#f05000"/>
<rect x="427" y="664.00" width="30.00" height="11.30" fill="#ff8800"/>
<rect x="427" y="674.60" width="30.00" height="2.50" fill="#7a3a78"/>
<rect x="427" y="676.40" width="30.00" height="2.60" fill="#8a8a00"/>
<rect x="427" y="678.30" width="30.00" height="11.00" fill="#ff8800"/>
<rect x="427" y="688.60" width="30.00" height="1.80" fill="#80766a"/>
<rect x="427" y="689.70" width="30.00" height="1.90" fill="#ff8800"/>
<rect x="427" y="690.90" width="30.00" height="1.50" fill="#e01000"/>
<rect x="427" y="691.70" width="30.00" height="1.90" fill="#ff8800"/>
<rect x="427" y="692.90" width="30.00" height="2.50" fill="#e01000"/>
<rect x="427" y="694.70" width="30.00" height="4.90" fill="#ff8800"/>
<rect x="427" y="698.90" width="30.00" height="3.60" fill="#008a00"/>
<rect x="427" y="701.80" width="30.00" height="9.30" fill="#ff8800"/>
<rect x="427" y="710.40" width="30.00" height="2.20" fill="#0b6878"/>
<rect x="427" y="711.90" width="30.00" height="4.30" fill="#008a00"/>
<rect x="427" y="715.50" width="30.00" height="1.40" fill="#8a8a00"/>
<rect x="458" y="409.70" width="29.00" height="4.10" fill="#ff8800"/>
<rect x="458" y="413.10" width="29.00" height="2.50" fill="#0a5cb4"/>
<rect x="458" y="414.90" width="29.00" height="2.70" fill="#80766a"/>
<rect x="458" y="416.90" width="29.00" height="12.50" fill="#ff8800"/>
<rect x="458" y="428.70" width="29.00" height="2.00" fill="#80766a"/>
<rect x="458" y="430.00" width="29.00" height="1.70" fill="#0b6878"/>
<rect x="458" y="431.00" width="29.00" height="2.60" fill="#008a00"/>
<rect x="458" y="432.90" width="29.00" height="1.80" fill="#0b6878"/>
<rect x="458" y="434.00" width="29.00" height="1.90" fill="#008a00"/>
<rect x="458" y="435.20" width="29.00" height="3.00" fill="#ff8800"/>
<rect x="458" y="437.50" width="29.00" height="2.40" fill="#008a00"/>
<rect x="458" y="439.20" width="29.00" height="1.80" fill="#0a5cb4"/>
<rect x="458" y="440.30" width="29.00" height="2.40" fill="#0b6878"/>
<rect x="458" y="442.00" width="29.00" height="4.20" fill="#0a5cb4"/>
<rect x="458" y="445.50" width="29.00" height="1.80" fill="#80766a"/>
<rect x="458" y="446.60" width="29.00" height="20.20" fill="#0a5cb4"/>
<rect x="458" y="466.10" width="29.00" height="9.20" fill="#ff8800"/>
<rect x="458" y="474.60" width="29.00" height="4.20" fill="#0a5cb4"/>
<rect x="458" y="478.10" width="29.00" height="10.40" fill="#ff8800"/>
<rect x="458" y="487.80" width="29.00" height="1.40" fill="#0b6878"/>
<rect x="458" y="488.50" width="29.00" height="3.70" fill="#0a5cb4"/>
<rect x="458" y="491.50" width="29.00" height="13.30" fill="#ff8800"/>
<rect x="458" y="504.10" width="29.00" height="3.30" fill="#008a00"/>
<rect x="458" y="506.70" width="29.00" height="1.90" fill="#ff8800"/>
<rect x="458" y="507.90" width="29.00" height="1.80" fill="#0b6878"/>
<rect x="458" y="509.00" width="29.00" height="13.00" fill="#0a5cb4"/>
<rect x="458" y="521.30" width="29.00" height="1.60" fill="#0b6878"/>
<rect x="458" y="522.20" width="29.00" height="8.50" fill="#0a5cb4"/>
<rect x="458" y="530.00" width="29.00" height="1.50" fill="#0b6878"/>
<rect x="458" y="530.80" width="29.00" height="4.10" fill="#0a5cb4"/>
<rect x="458" y="534.20" width="29.00" height="3.00" fill="#008a00"/>
<rect x="458" y="536.50" width="29.00" height="22.40" fill="#0a5cb4"/>
<rect x="458" y="558.20" width="29.00" height="3.00" fill="#8a8a00"/>
<rect x="458" y="560.50" width="29.00" height="12.70" fill="#ff8800"/>
<rect x="458" y="572.50" width="29.00" height="3.90" fill="#0a5cb4"/>
<rect x="458" y="575.70" width="29.00" height="16.70" fill="#ff8800"/>
<rect x="458" y="591.70" width="29.00" height="1.80" fill="#008a00"/>
<rect x="458" y="592.80" width="29.00" height="11.90" fill="#ff8800"/>
<rect x="458" y="604.00" width="29.00" height="2.50" fill="#0b6878"/>
<rect x="458" y="605.80" width="29.00" height="14.90" fill="#ff8800"/>
<rect x="458" y="620.00" width="29.00" height="3.00" fill="#0a5cb4"/>
<rect x="458" y="622.30" width="29.00" height="10.50" fill="#ff8800"/>
<rect x="458" y="632.10" width="29.00" height="3.80" fill="#0a5cb4"/>
<rect x="458" y="635.20" width="29.00" height="11.90" fill="#ff8800"/>
<rect x="458" y="646.40" width="29.00" height="1.40" fill="#0b6878"/>
<rect x="458" y="647.10" width="29.00" height="2.80" fill="#0a5cb4"/>
<rect x="458" y="649.20" width="29.00" height="4.30" fill="#ff8800"/>
<rect x="458" y="652.80" width="29.00" height="3.30" fill="#0a5cb4"/>
<rect x="458" y="655.40" width="29.00" height="1.90" fill="#80766a"/>
<rect x="458" y="656.60" width="29.00" height="7.00" fill="#ff8800"/>
<rect x="458" y="662.90" width="29.00" height="2.10" fill="#0a5cb4"/>
<rect x="458" y="664.30" width="29.00" height="10.50" fill="#ff8800"/>
<rect x="458" y="674.10" width="29.00" height="3.40" fill="#0a5cb4"/>
<rect x="458" y="676.80" width="29.00" height="1.70" fill="#80766a"/>
<rect x="458" y="677.80" width="29.00" height="1.80" fill="#0a5cb4"/>
<rect x="458" y="678.90" width="29.00" height="10.80" fill="#ff8800"/>
<rect x="458" y="689.00" width="29.00" height="5.50" fill="#0a5cb4"/>
<rect x="458" y="693.80" width="29.00" height="5.80" fill="#ff8800"/>
<rect x="458" y="698.90" width="29.00" height="3.00" fill="#0a5cb4"/>
<rect x="458" y="701.20" width="29.00" height="9.90" fill="#ff8800"/>
<rect x="458" y="710.40" width="29.00" height="3.00" fill="#0a5cb4"/>
<rect x="458" y="712.70" width="29.00" height="3.70" fill="#0b6878"/>
<rect x="458" y="715.70" width="29.00" height="1.20" fill="#8a8a00"/>
<rect x="488" y="409.70" width="29.00" height="4.10" fill="#ff8800"/>
<rect x="488" y="413.10" width="29.00" height="1.80" fill="#7a3a78"/>
<rect x="488" y="414.20" width="29.00" height="3.40" fill="#f05000"/>
<rect x="488" y="416.90" width="29.00" height="13.80" fill="#ff8800"/>
<rect x="488" y="430.00" width="29.00" height="3.60" fill="#0b6878"/>
<rect x="488" y="432.90" width="29.00" height="1.80" fill="#7a3a78"/>
<rect x="488" y="434.00" width="29.00" height="1.90" fill="#008a00"/>
<rect x="488" y="435.20" width="29.00" height="2.40" fill="#ff8800"/>
<rect x="488" y="436.90" width="29.00" height="1.80" fill="#8a8a00"/>
<rect x="488" y="438.00" width="29.00" height="1.90" fill="#ff8800"/>
<rect x="488" y="439.20" width="29.00" height="2.40" fill="#0a5cb4"/>
<rect x="488" y="440.90" width="29.00" height="3.60" fill="#008a00"/>
<rect x="488" y="443.80" width="29.00" height="2.40" fill="#0b6878"/>
<rect x="488" y="445.50" width="29.00" height="2.40" fill="#8a8a00"/>
<rect x="488" y="447.20" width="29.00" height="4.10" fill="#0b6878"/>
<rect x="488" y="450.60" width="29.00" height="9.90" fill="#0a5cb4"/>
<rect x="488" y="459.80" width="29.00" height="2.90" fill="#0b6878"/>
<rect x="488" y="462.00" width="29.00" height="2.50" fill="#008a00"/>
<rect x="488" y="463.80" width="29.00" height="1.80" fill="#8a3a10"/>
<rect x="488" y="464.90" width="29.00" height="1.90" fill="#008a00"/>
<rect x="488" y="466.10" width="29.00" height="9.20" fill="#ff8800"/>
<rect x="488" y="474.60" width="29.00" height="2.10" fill="#0b6878"/>
<rect x="488" y="476.00" width="29.00" height="1.90" fill="#7a3a78"/>
<rect x="488" y="477.20" width="29.00" height="1.80" fill="#f05000"/>
<rect x="488" y="478.30" width="29.00" height="9.60" fill="#ff8800"/>
<rect x="488" y="487.20" width="29.00" height="2.50" fill="#80766a"/>
<rect x="488" y="489.00" width="29.00" height="2.40" fill="#0b6878"/>
<rect x="488" y="490.70" width="29.00" height="1.50" fill="#e01000"/>
<rect x="488" y="491.50" width="29.00" height="13.10" fill="#ff8800"/>
<rect x="488" y="503.90" width="29.00" height="3.50" fill="#0b6878"/>
<rect x="488" y="506.70" width="29.00" height="2.70" fill="#8a8a00"/>
<rect x="488" y="508.70" width="29.00" height="4.50" fill="#0b6878"/>
<rect x="488" y="512.50" width="29.00" height="2.90" fill="#0a5cb4"/>
<rect x="488" y="514.70" width="29.00" height="1.90" fill="#0b6878"/>
<rect x="488" y="515.90" width="29.00" height="1.80" fill="#e01000"/>
<rect x="488" y="517.00" width="29.00" height="4.20" fill="#0b6878"/>
<rect x="488" y="520.50" width="29.00" height="6.40" fill="#008a00"/>
<rect x="488" y="526.20" width="29.00" height="2.40" fill="#0a5cb4"/>
<rect x="488" y="527.90" width="29.00" height="2.40" fill="#0b6878"/>
<rect x="488" y="529.60" width="29.00" height="3.00" fill="#008a00"/>
<rect x="488" y="531.90" width="29.00" height="2.40" fill="#0a5cb4"/>
<rect x="488" y="533.60" width="29.00" height="1.90" fill="#7a3a78"/>
<rect x="488" y="534.80" width="29.00" height="2.40" fill="#0b6878"/>
<rect x="488" y="536.50" width="29.00" height="5.30" fill="#008a00"/>
<rect x="488" y="541.10" width="29.00" height="3.50" fill="#0a5cb4"/>
<rect x="488" y="543.90" width="29.00" height="1.80" fill="#0b6878"/>
<rect x="488" y="545.00" width="29.00" height="3.60" fill="#0a5cb4"/>
<rect x="488" y="547.90" width="29.00" height="1.90" fill="#0b6878"/>
<rect x="488" y="549.10" width="29.00" height="4.70" fill="#0a5cb4"/>
<rect x="488" y="553.10" width="29.00" height="2.40" fill="#0b6878"/>
<rect x="488" y="554.80" width="29.00" height="3.00" fill="#0a5cb4"/>
<rect x="488" y="557.10" width="29.00" height="4.10" fill="#0b6878"/>
<rect x="488" y="560.50" width="29.00" height="12.70" fill="#ff8800"/>
<rect x="488" y="572.50" width="29.00" height="1.30" fill="#8a8a00"/>
<rect x="488" y="573.10" width="29.00" height="3.30" fill="#008a00"/>
<rect x="488" y="575.70" width="29.00" height="16.70" fill="#ff8800"/>
<rect x="488" y="591.70" width="29.00" height="1.80" fill="#4a6a00"/>
<rect x="488" y="592.80" width="29.00" height="12.20" fill="#ff8800"/>
<rect x="488" y="604.30" width="29.00" height="2.70" fill="#7a3a78"/>
<rect x="488" y="606.30" width="29.00" height="13.30" fill="#ff8800"/>
<rect x="488" y="618.90" width="29.00" height="2.80" fill="#e01000"/>
<rect x="488" y="621.00" width="29.00" height="2.30" fill="#0b6878"/>
<rect x="488" y="622.60" width="29.00" height="10.70" fill="#ff8800"/>
<rect x="488" y="632.60" width="29.00" height="3.60" fill="#80766a"/>
<rect x="488" y="635.50" width="29.00" height="11.60" fill="#ff8800"/>
<rect x="488" y="646.40" width="29.00" height="1.40" fill="#0b6878"/>
<rect x="488" y="647.10" width="29.00" height="3.00" fill="#80766a"/>
<rect x="488" y="649.40" width="29.00" height="4.10" fill="#ff8800"/>
<rect x="488" y="652.80" width="29.00" height="2.80" fill="#0a5cb4"/>
<rect x="488" y="654.90" width="29.00" height="8.70" fill="#ff8800"/>
<rect x="488" y="662.90" width="29.00" height="2.10" fill="#008a00"/>
<rect x="488" y="664.30" width="29.00" height="11.00" fill="#ff8800"/>
<rect x="488" y="674.60" width="29.00" height="2.90" fill="#0a5cb4"/>
<rect x="488" y="676.80" width="29.00" height="2.20" fill="#8a8a00"/>
<rect x="488" y="678.30" width="29.00" height="11.60" fill="#ff8800"/>
<rect x="488" y="689.20" width="29.00" height="1.80" fill="#0b6878"/>
<rect x="488" y="690.30" width="29.00" height="2.50" fill="#8a3a10"/>
<rect x="488" y="692.10" width="29.00" height="2.40" fill="#f05000"/>
<rect x="488" y="693.80" width="29.00" height="5.80" fill="#ff8800"/>
<rect x="488" y="698.90" width="29.00" height="2.20" fill="#0a5cb4"/>
<rect x="488" y="700.40" width="29.00" height="2.10" fill="#008a00"/>
<rect x="488" y="701.80" width="29.00" height="9.30" fill="#ff8800"/>
<rect x="488" y="710.40" width="29.00" height="2.20" fill="#0b6878"/>
<rect x="488" y="711.90" width="29.00" height="4.90" fill="#008a00"/>
<rect x="488" y="716.10" width="29.00" height="0.80" fill="#8a8a00"/>
<rect x="396" y="409" width="1" height="309" fill="#444"/>
<rect x="426" y="409" width="1" height="309" fill="#111"/>
<rect x="457" y="409" width="1" height="309" fill="#111"/>
<rect x="487" y="409" width="1" height="309" fill="#111"/>
<rect x="517" y="409" width="1" height="309" fill="#111"/>
<rect x="396" y="409" width="122" height="1" fill="#2a1a10"/>
<rect x="396" y="717" width="122" height="1" fill="#111"/>
<rect x="520.8" y="200.4" width="8.4" height="16.19999999999999" fill="#1060c0"/>
<text x="527.0" y="193.6" font-size="7" font-weight="normal" text-anchor="middle" transform="rotate(-90 527.0 193.6)">CM</text>
<rect x="520.8" y="239.1" width="8.4" height="16.200000000000017" fill="#0a900a"/>
<text x="527.0" y="229.39999999999998" font-size="7" font-weight="normal" text-anchor="middle" transform="rotate(-90 527.0 229.39999999999998)">CDM</text>
<rect x="520.8" y="278.0" width="8.4" height="15.800000000000011" fill="#e01010"/>
<text x="527.0" y="270.55" font-size="7" font-weight="normal" text-anchor="middle" transform="rotate(-90 527.0 270.55)">SM</text>
<rect x="520.8" y="316.3" width="8.4" height="16.099999999999966" fill="#e87a22"/>
<text x="527.0" y="309.65" font-size="7" font-weight="normal" text-anchor="middle" transform="rotate(-90 527.0 309.65)">SR</text>
<rect x="519.4" y="585.6" width="8.8" height="16.0" fill="#1060c0"/>
<text x="525.8" y="578.4000000000001" font-size="7" font-weight="normal" text-anchor="middle" transform="rotate(-90 525.8 578.4000000000001)">CM</text>
<rect x="519.4" y="624.2" width="8.8" height="15.799999999999955" fill="#0a900a"/>
<text x="525.8" y="614.8" font-size="7" font-weight="normal" text-anchor="middle" transform="rotate(-90 525.8 614.8)">CDM</text>
<rect x="519.4" y="663.4" width="8.8" height="16.0" fill="#e01010"/>
<text x="525.8" y="655.4000000000001" font-size="7" font-weight="normal" text-anchor="middle" transform="rotate(-90 525.8 655.4000000000001)">SM</text>
<rect x="519.4" y="701.8" width="8.8" height="16.0" fill="#e87a22"/>
<text x="525.8" y="693.0" font-size="7" font-weight="normal" text-anchor="middle" transform="rotate(-90 525.8 693.0)">SR</text>
<text x="57.6" y="11.4" font-size="7.8" font-weight="bold" text-anchor="middle" >AC (μs/m)</text>
<text x="119.2" y="11.4" font-size="7.8" font-weight="bold" text-anchor="middle" >CNL</text>
<text x="179.6" y="11.4" font-size="7.8" font-weight="bold" text-anchor="middle" >DEN (g/cm3)</text>
<text x="242.1" y="11.4" font-size="7.8" font-weight="bold" text-anchor="middle" >GR</text>
<text x="303.7" y="11.4" font-size="7.8" font-weight="bold" text-anchor="middle" >LLD</text>
<text x="365.8" y="11.4" font-size="7.8" font-weight="bold" text-anchor="middle" >LLS</text>
<text x="56.9" y="395.7" font-size="7.8" font-weight="bold" text-anchor="middle" >AC (μs/m)</text>
<text x="118.3" y="395.7" font-size="7.8" font-weight="bold" text-anchor="middle" >CNL</text>
<text x="179.2" y="395.7" font-size="7.8" font-weight="bold" text-anchor="middle" >DEN (g/cm3)</text>
<text x="240.8" y="395.7" font-size="7.8" font-weight="bold" text-anchor="middle" >GR</text>
<text x="302.3" y="395.7" font-size="7.8" font-weight="bold" text-anchor="middle" >LLD</text>
<text x="363.8" y="395.7" font-size="7.8" font-weight="bold" text-anchor="middle" >LLS</text>
<text x="411.3" y="17.8" font-size="9.3" font-weight="bold" text-anchor="middle" >Core</text>
<text x="443.3" y="17.8" font-size="9.3" font-weight="bold" text-anchor="middle" >RF</text>
<text x="471.2" y="17.8" font-size="9.3" font-weight="bold" text-anchor="middle" >TCN</text>
<text x="504.2" y="10.7" font-size="9.3" font-weight="bold" text-anchor="middle" >Proposed</text>
<text x="504.4" y="21.4" font-size="9.3" font-weight="bold" text-anchor="middle" >model</text>
<text x="411.5" y="401.8" font-size="9.3" font-weight="bold" text-anchor="middle" >Core</text>
<text x="442.5" y="401.8" font-size="9.3" font-weight="bold" text-anchor="middle" >RF</text>
<text x="471.8" y="401.8" font-size="9.3" font-weight="bold" text-anchor="middle" >TCN</text>
<text x="503.8" y="394.8" font-size="9.3" font-weight="bold" text-anchor="middle" >Proposed</text>
<text x="504.0" y="405.5" font-size="9.3" font-weight="bold" text-anchor="middle" >model</text>
<text x="31.9" y="21.9" font-size="6.6" font-weight="bold" text-anchor="middle" >200</text>
<text x="52.2" y="21.9" font-size="6.6" font-weight="bold" text-anchor="middle" >300</text>
<text x="72.5" y="21.9" font-size="6.6" font-weight="bold" text-anchor="middle" >400</text>
<text x="98.5" y="21.9" font-size="6.6" font-weight="bold" text-anchor="middle" >0</text>
<text x="119.6" y="21.9" font-size="6.6" font-weight="bold" text-anchor="middle" >20</text>
<text x="139.8" y="21.9" font-size="6.6" font-weight="bold" text-anchor="middle" >40</text>
<text x="160.6" y="21.9" font-size="6.6" font-weight="bold" text-anchor="middle" >2.1</text>
<text x="180.5" y="21.9" font-size="6.6" font-weight="bold" text-anchor="middle" >2.4</text>
<text x="201.5" y="21.9" font-size="6.6" font-weight="bold" text-anchor="middle" >2.7</text>
<text x="220.6" y="21.9" font-size="6.6" font-weight="bold" text-anchor="middle" >0</text>
<text x="240.5" y="21.9" font-size="6.6" font-weight="bold" text-anchor="middle" >51</text>
<text x="261.0" y="21.9" font-size="6.6" font-weight="bold" text-anchor="middle" >102</text>
<text x="277.3" y="21.9" font-size="6.3" font-weight="bold" text-anchor="middle">10</text>
<text x="280.75" y="19.253999999999998" font-size="3.9059999999999997" font-weight="bold" text-anchor="start">0</text>
<text x="289.0" y="21.9" font-size="6.3" font-weight="bold" text-anchor="middle">10</text>
<text x="292.45" y="19.253999999999998" font-size="3.9059999999999997" font-weight="bold" text-anchor="start">1</text>
<text x="300.5" y="21.9" font-size="6.3" font-weight="bold" text-anchor="middle">10</text>
<text x="303.95" y="19.253999999999998" font-size="3.9059999999999997" font-weight="bold" text-anchor="start">2</text>
<text x="312.6" y="21.9" font-size="6.3" font-weight="bold" text-anchor="middle">10</text>
<text x="316.05" y="19.253999999999998" font-size="3.9059999999999997" font-weight="bold" text-anchor="start">3</text>
<text x="323.6" y="21.9" font-size="6.3" font-weight="bold" text-anchor="middle">10</text>
<text x="327.05" y="19.253999999999998" font-size="3.9059999999999997" font-weight="bold" text-anchor="start">4</text>
<text x="339.6" y="22.5" font-size="6.3" font-weight="bold" text-anchor="middle">10</text>
<text x="343.05" y="19.854" font-size="3.9059999999999997" font-weight="bold" text-anchor="start">0</text>
<text x="356.4" y="22.5" font-size="6.3" font-weight="bold" text-anchor="middle">10</text>
<text x="359.84999999999997" y="19.854" font-size="3.9059999999999997" font-weight="bold" text-anchor="start">1</text>
<text x="373.5" y="22.5" font-size="6.3" font-weight="bold" text-anchor="middle">10</text>
<text x="376.95" y="19.854" font-size="3.9059999999999997" font-weight="bold" text-anchor="start">2</text>
<text x="390.5" y="22.5" font-size="6.3" font-weight="bold" text-anchor="middle">10</text>
<text x="393.95" y="19.854" font-size="3.9059999999999997" font-weight="bold" text-anchor="start">3</text>
<text x="33.5" y="406.8" font-size="7.0" font-weight="normal" text-anchor="middle" stroke="#222" stroke-width="0.18">225</text>
<text x="53.5" y="406.8" font-size="7.0" font-weight="normal" text-anchor="middle" stroke="#222" stroke-width="0.18">300</text>
<text x="73.5" y="406.8" font-size="7.0" font-weight="normal" text-anchor="middle" stroke="#222" stroke-width="0.18">375</text>
<text x="98.5" y="406.8" font-size="7.0" font-weight="normal" text-anchor="middle" stroke="#222" stroke-width="0.18">0.0</text>
<text x="118.5" y="406.8" font-size="7.0" font-weight="normal" text-anchor="middle" stroke="#222" stroke-width="0.18">0.2</text>
<text x="138.3" y="406.8" font-size="7.0" font-weight="normal" text-anchor="middle" stroke="#222" stroke-width="0.18">0.4</text>
<text x="149.0" y="406.8" font-size="7.0" font-weight="normal" text-anchor="middle" stroke="#222" stroke-width="0.18">1.8</text>
<text x="166.5" y="406.8" font-size="7.0" font-weight="normal" text-anchor="middle" stroke="#222" stroke-width="0.18">2.1</text>
<text x="184.6" y="406.8" font-size="7.0" font-weight="normal" text-anchor="middle" stroke="#222" stroke-width="0.18">2.4</text>
<text x="201.5" y="406.8" font-size="7.0" font-weight="normal" text-anchor="middle" stroke="#222" stroke-width="0.18">2.7</text>
<text x="213.5" y="406.8" font-size="7.0" font-weight="normal" text-anchor="middle" stroke="#222" stroke-width="0.18">0</text>
<text x="234.2" y="406.8" font-size="7.0" font-weight="normal" text-anchor="middle" stroke="#222" stroke-width="0.18">60</text>
<text x="254.6" y="406.8" font-size="7.0" font-weight="normal" text-anchor="middle" stroke="#222" stroke-width="0.18">120</text>
<text x="278.5" y="406.8" font-size="7.0" font-weight="normal" text-anchor="middle">10</text>
<text x="282.3" y="403.86" font-size="4.34" font-weight="normal" text-anchor="start">0</text>
<text x="289.5" y="406.8" font-size="7.0" font-weight="normal" text-anchor="middle">10</text>
<text x="293.3" y="403.86" font-size="4.34" font-weight="normal" text-anchor="start">1</text>
<text x="300.9" y="406.8" font-size="7.0" font-weight="normal" text-anchor="middle">10</text>
<text x="304.7" y="403.86" font-size="4.34" font-weight="normal" text-anchor="start">2</text>
<text x="312.6" y="406.8" font-size="7.0" font-weight="normal" text-anchor="middle">10</text>
<text x="316.40000000000003" y="403.86" font-size="4.34" font-weight="normal" text-anchor="start">3</text>
<text x="323.6" y="406.8" font-size="7.0" font-weight="normal" text-anchor="middle">10</text>
<text x="327.40000000000003" y="403.86" font-size="4.34" font-weight="normal" text-anchor="start">4</text>
<text x="339.5" y="406.8" font-size="7.0" font-weight="normal" text-anchor="middle">10</text>
<text x="343.3" y="403.86" font-size="4.34" font-weight="normal" text-anchor="start">0</text>
<text x="352.3" y="406.8" font-size="7.0" font-weight="normal" text-anchor="middle">10</text>
<text x="356.1" y="403.86" font-size="4.34" font-weight="normal" text-anchor="start">1</text>
<text x="365.4" y="406.8" font-size="7.0" font-weight="normal" text-anchor="middle">10</text>
<text x="369.2" y="403.86" font-size="4.34" font-weight="normal" text-anchor="start">2</text>
<text x="377.6" y="406.8" font-size="7.0" font-weight="normal" text-anchor="middle">10</text>
<text x="381.40000000000003" y="403.86" font-size="4.34" font-weight="normal" text-anchor="start">3</text>
<text x="390.5" y="406.8" font-size="7.0" font-weight="normal" text-anchor="middle">10</text>
<text x="394.3" y="403.86" font-size="4.34" font-weight="normal" text-anchor="start">4</text>
<text x="25.0" y="57.5" font-size="7.2" font-weight="bold" text-anchor="end" textLength="12.2" lengthAdjust="spacingAndGlyphs">1650</text>
<text x="25.0" y="102.39999999999999" font-size="7.2" font-weight="bold" text-anchor="end" textLength="12.2" lengthAdjust="spacingAndGlyphs">1600</text>
<text x="25.0" y="147.3" font-size="7.2" font-weight="bold" text-anchor="end" textLength="12.2" lengthAdjust="spacingAndGlyphs">1550</text>
<text x="25.0" y="192.10000000000002" font-size="7.2" font-weight="bold" text-anchor="end" textLength="12.2" lengthAdjust="spacingAndGlyphs">1500</text>
<text x="25.0" y="236.9" font-size="7.2" font-weight="bold" text-anchor="end" textLength="12.2" lengthAdjust="spacingAndGlyphs">1450</text>
<text x="25.0" y="281.8" font-size="7.2" font-weight="bold" text-anchor="end" textLength="12.2" lengthAdjust="spacingAndGlyphs">1400</text>
<text x="25.0" y="326.8" font-size="7.2" font-weight="bold" text-anchor="end" textLength="12.2" lengthAdjust="spacingAndGlyphs">1350</text>
<text x="25.0" y="447.1" font-size="7.2" font-weight="bold" text-anchor="end" textLength="12.2" lengthAdjust="spacingAndGlyphs">1500</text>
<text x="25.0" y="493.6" font-size="7.2" font-weight="bold" text-anchor="end" textLength="12.2" lengthAdjust="spacingAndGlyphs">1450</text>
<text x="25.0" y="539.5999999999999" font-size="7.2" font-weight="bold" text-anchor="end" textLength="12.2" lengthAdjust="spacingAndGlyphs">1400</text>
<text x="25.0" y="586.0999999999999" font-size="7.2" font-weight="bold" text-anchor="end" textLength="12.2" lengthAdjust="spacingAndGlyphs">1350</text>
<text x="25.0" y="632.6999999999999" font-size="7.2" font-weight="bold" text-anchor="end" textLength="12.2" lengthAdjust="spacingAndGlyphs">1300</text>
<text x="25.0" y="679.0999999999999" font-size="7.2" font-weight="bold" text-anchor="end" textLength="12.2" lengthAdjust="spacingAndGlyphs">1250</text>
<text x="7.6" y="178.4" font-size="8" font-weight="bold" text-anchor="middle" dominant-baseline="central" transform="rotate(-90 7.6 178.4)">Depth (m)</text>
<text x="7.6" y="563.3" font-size="8" font-weight="bold" text-anchor="middle" dominant-baseline="central" transform="rotate(-90 7.6 563.3)">Depth (m)</text>
<text x="266.2" y="369.6" font-size="12.6" font-weight="normal" text-anchor="middle" >(a)</text>
<text x="266.2" y="747.3" font-size="12.6" font-weight="normal" text-anchor="middle" >(b)</text>
</svg></body></html>
